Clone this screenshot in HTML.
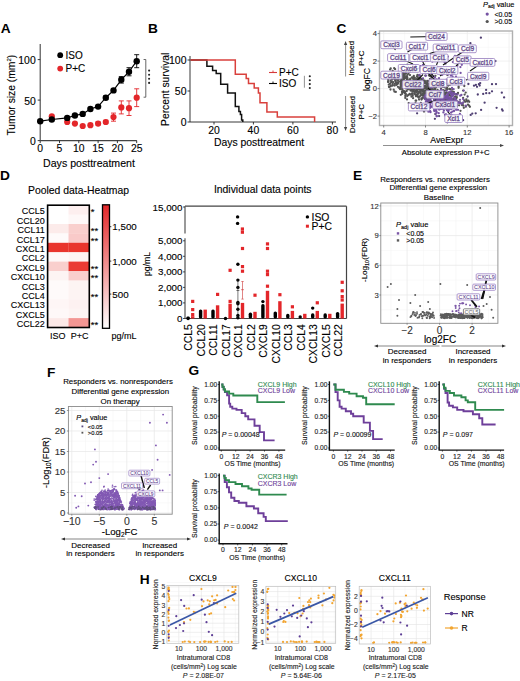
<!DOCTYPE html>
<html><head><meta charset="utf-8"><style>
html,body{margin:0;padding:0;background:#fff;width:520px;height:681px;overflow:hidden}
svg{display:block}
svg text{font-family:"Liberation Sans", sans-serif}
</style></head><body>
<svg width="520" height="681" viewBox="0 0 520 681">
<text x="0.8" y="32.9" font-size="13.7" text-anchor="start" fill="#000" font-weight="bold">A</text>
<line x1="40.2" y1="44.0" x2="40.2" y2="140.6" stroke="#444" stroke-width="1.1"/>
<line x1="40.2" y1="140.6" x2="136.8" y2="140.6" stroke="#444" stroke-width="1.1"/>
<line x1="37.7" y1="140.6" x2="40.2" y2="140.6" stroke="#222" stroke-width="0.9"/>
<text x="35.7" y="145.1" font-size="10.4" text-anchor="end" fill="#000" stroke="#000" stroke-width="0.12">0</text>
<line x1="37.7" y1="100.1" x2="40.2" y2="100.1" stroke="#222" stroke-width="0.9"/>
<text x="35.7" y="104.6" font-size="10.4" text-anchor="end" fill="#000" stroke="#000" stroke-width="0.12">50</text>
<line x1="37.7" y1="59.6" x2="40.2" y2="59.6" stroke="#222" stroke-width="0.9"/>
<text x="35.7" y="64.1" font-size="10.4" text-anchor="end" fill="#000" stroke="#000" stroke-width="0.12">100</text>
<line x1="40.2" y1="140.6" x2="40.2" y2="143.1" stroke="#222" stroke-width="0.9"/>
<text x="40.2" y="152.4" font-size="10.4" text-anchor="middle" fill="#000" stroke="#000" stroke-width="0.12">0</text>
<line x1="59.5" y1="140.6" x2="59.5" y2="143.1" stroke="#222" stroke-width="0.9"/>
<text x="59.5" y="152.4" font-size="10.4" text-anchor="middle" fill="#000" stroke="#000" stroke-width="0.12">5</text>
<line x1="78.8" y1="140.6" x2="78.8" y2="143.1" stroke="#222" stroke-width="0.9"/>
<text x="78.8" y="152.4" font-size="10.4" text-anchor="middle" fill="#000" stroke="#000" stroke-width="0.12">10</text>
<line x1="98.1" y1="140.6" x2="98.1" y2="143.1" stroke="#222" stroke-width="0.9"/>
<text x="98.1" y="152.4" font-size="10.4" text-anchor="middle" fill="#000" stroke="#000" stroke-width="0.12">15</text>
<line x1="117.4" y1="140.6" x2="117.4" y2="143.1" stroke="#222" stroke-width="0.9"/>
<text x="117.4" y="152.4" font-size="10.4" text-anchor="middle" fill="#000" stroke="#000" stroke-width="0.12">20</text>
<line x1="136.7" y1="140.6" x2="136.7" y2="143.1" stroke="#222" stroke-width="0.9"/>
<text x="136.7" y="152.4" font-size="10.4" text-anchor="middle" fill="#000" stroke="#000" stroke-width="0.12">25</text>
<text x="89.0" y="166.5" font-size="10.6" text-anchor="middle" fill="#000" stroke="#000" stroke-width="0.12">Days posttreatment</text>
<text x="15.0" y="95.2" font-size="10.3" text-anchor="middle" fill="#000" transform="rotate(-90 15 95.2)" stroke="#000" stroke-width="0.12">Tumor size (mm<tspan font-size="6" dy="-4">2</tspan><tspan dy="4">)</tspan></text>
<line x1="98.1" y1="122.0" x2="98.1" y2="125.2" stroke="#e3262a" stroke-width="0.9"/>
<line x1="95.6" y1="122.0" x2="100.6" y2="122.0" stroke="#e3262a" stroke-width="0.9"/>
<line x1="95.6" y1="125.2" x2="100.6" y2="125.2" stroke="#e3262a" stroke-width="0.9"/>
<line x1="105.8" y1="120.3" x2="105.8" y2="123.6" stroke="#e3262a" stroke-width="0.9"/>
<line x1="103.3" y1="120.3" x2="108.3" y2="120.3" stroke="#e3262a" stroke-width="0.9"/>
<line x1="103.3" y1="123.6" x2="108.3" y2="123.6" stroke="#e3262a" stroke-width="0.9"/>
<line x1="113.5" y1="113.1" x2="113.5" y2="121.2" stroke="#e3262a" stroke-width="0.9"/>
<line x1="111.0" y1="113.1" x2="116.0" y2="113.1" stroke="#e3262a" stroke-width="0.9"/>
<line x1="111.0" y1="121.2" x2="116.0" y2="121.2" stroke="#e3262a" stroke-width="0.9"/>
<line x1="121.3" y1="100.9" x2="121.3" y2="113.9" stroke="#e3262a" stroke-width="0.9"/>
<line x1="118.8" y1="100.9" x2="123.8" y2="100.9" stroke="#e3262a" stroke-width="0.9"/>
<line x1="118.8" y1="113.9" x2="123.8" y2="113.9" stroke="#e3262a" stroke-width="0.9"/>
<line x1="129.0" y1="100.9" x2="129.0" y2="115.5" stroke="#e3262a" stroke-width="0.9"/>
<line x1="126.5" y1="100.9" x2="131.5" y2="100.9" stroke="#e3262a" stroke-width="0.9"/>
<line x1="126.5" y1="115.5" x2="131.5" y2="115.5" stroke="#e3262a" stroke-width="0.9"/>
<line x1="136.7" y1="88.8" x2="136.7" y2="106.6" stroke="#e3262a" stroke-width="0.9"/>
<line x1="134.2" y1="88.8" x2="139.2" y2="88.8" stroke="#e3262a" stroke-width="0.9"/>
<line x1="134.2" y1="106.6" x2="139.2" y2="106.6" stroke="#e3262a" stroke-width="0.9"/>
<circle cx="51.8" cy="116.3" r="3.1" fill="#e3262a"/>
<circle cx="67.2" cy="122.0" r="3.1" fill="#e3262a"/>
<circle cx="74.9" cy="123.6" r="3.1" fill="#e3262a"/>
<circle cx="82.7" cy="126.0" r="3.1" fill="#e3262a"/>
<circle cx="90.4" cy="125.2" r="3.1" fill="#e3262a"/>
<circle cx="98.1" cy="123.6" r="3.1" fill="#e3262a"/>
<circle cx="105.8" cy="122.0" r="3.1" fill="#e3262a"/>
<circle cx="113.5" cy="117.1" r="3.1" fill="#e3262a"/>
<circle cx="121.3" cy="107.4" r="3.1" fill="#e3262a"/>
<circle cx="129.0" cy="108.2" r="3.1" fill="#e3262a"/>
<circle cx="136.7" cy="97.7" r="3.1" fill="#e3262a"/>
<polyline points="40.2,121.2 51.8,119.5 67.2,117.9 74.9,115.5 82.7,113.9 90.4,109.0 98.1,106.6 105.8,97.7 113.5,90.4 121.3,79.8 129.0,71.7 136.7,61.2" stroke="#000" stroke-width="1.2" fill="none"/>
<circle cx="40.2" cy="121.2" r="3.2" fill="#000"/>
<circle cx="51.8" cy="119.5" r="3.2" fill="#000"/>
<circle cx="67.2" cy="117.9" r="3.2" fill="#000"/>
<circle cx="74.9" cy="115.5" r="3.2" fill="#000"/>
<circle cx="82.7" cy="113.9" r="3.2" fill="#000"/>
<circle cx="90.4" cy="109.0" r="3.2" fill="#000"/>
<circle cx="98.1" cy="106.6" r="3.2" fill="#000"/>
<line x1="105.8" y1="96.0" x2="105.8" y2="99.3" stroke="#000" stroke-width="0.9"/>
<line x1="103.3" y1="96.0" x2="108.3" y2="96.0" stroke="#000" stroke-width="0.9"/>
<line x1="103.3" y1="99.3" x2="108.3" y2="99.3" stroke="#000" stroke-width="0.9"/>
<circle cx="105.8" cy="97.7" r="3.2" fill="#000"/>
<line x1="113.5" y1="88.8" x2="113.5" y2="92.0" stroke="#000" stroke-width="0.9"/>
<line x1="111.0" y1="88.8" x2="116.0" y2="88.8" stroke="#000" stroke-width="0.9"/>
<line x1="111.0" y1="92.0" x2="116.0" y2="92.0" stroke="#000" stroke-width="0.9"/>
<circle cx="113.5" cy="90.4" r="3.2" fill="#000"/>
<line x1="121.3" y1="76.6" x2="121.3" y2="83.1" stroke="#000" stroke-width="0.9"/>
<line x1="118.8" y1="76.6" x2="123.8" y2="76.6" stroke="#000" stroke-width="0.9"/>
<line x1="118.8" y1="83.1" x2="123.8" y2="83.1" stroke="#000" stroke-width="0.9"/>
<circle cx="121.3" cy="79.8" r="3.2" fill="#000"/>
<line x1="129.0" y1="67.7" x2="129.0" y2="75.8" stroke="#000" stroke-width="0.9"/>
<line x1="126.5" y1="67.7" x2="131.5" y2="67.7" stroke="#000" stroke-width="0.9"/>
<line x1="126.5" y1="75.8" x2="131.5" y2="75.8" stroke="#000" stroke-width="0.9"/>
<circle cx="129.0" cy="71.7" r="3.2" fill="#000"/>
<line x1="136.7" y1="54.7" x2="136.7" y2="67.7" stroke="#000" stroke-width="0.9"/>
<line x1="134.2" y1="54.7" x2="139.2" y2="54.7" stroke="#000" stroke-width="0.9"/>
<line x1="134.2" y1="67.7" x2="139.2" y2="67.7" stroke="#000" stroke-width="0.9"/>
<circle cx="136.7" cy="61.2" r="3.2" fill="#000"/>
<circle cx="60.2" cy="55.2" r="2.9" fill="#000"/>
<text x="65.5" y="58.8" font-size="10" text-anchor="start" fill="#000" stroke="#000" stroke-width="0.12">ISO</text>
<circle cx="60.2" cy="68.6" r="2.9" fill="#e3262a"/>
<text x="65.5" y="72.2" font-size="10" text-anchor="start" fill="#000" stroke="#000" stroke-width="0.12">P+C</text>
<line x1="145.8" y1="59.5" x2="145.8" y2="97.2" stroke="#555" stroke-width="0.9"/>
<line x1="143.6" y1="59.5" x2="145.8" y2="59.5" stroke="#555" stroke-width="0.9"/>
<line x1="143.6" y1="97.2" x2="145.8" y2="97.2" stroke="#555" stroke-width="0.9"/>
<circle cx="149.1" cy="70.6" r="1.05" fill="#222"/>
<circle cx="149.1" cy="74.7" r="1.05" fill="#222"/>
<circle cx="149.1" cy="78.8" r="1.05" fill="#222"/>
<circle cx="149.1" cy="82.9" r="1.05" fill="#222"/>
<text x="148.0" y="32.8" font-size="13.7" text-anchor="start" fill="#000" font-weight="bold">B</text>
<line x1="190.0" y1="56.0" x2="190.0" y2="122.0" stroke="#222" stroke-width="0.9"/>
<line x1="190.0" y1="122.0" x2="336.0" y2="122.0" stroke="#222" stroke-width="0.9"/>
<line x1="187.5" y1="122.0" x2="190.0" y2="122.0" stroke="#222" stroke-width="0.9"/>
<text x="186.5" y="126.3" font-size="10.5" text-anchor="end" fill="#000" stroke="#000" stroke-width="0.12">0</text>
<line x1="187.5" y1="91.0" x2="190.0" y2="91.0" stroke="#222" stroke-width="0.9"/>
<text x="186.5" y="95.3" font-size="10.5" text-anchor="end" fill="#000" stroke="#000" stroke-width="0.12">50</text>
<line x1="187.5" y1="60.0" x2="190.0" y2="60.0" stroke="#222" stroke-width="0.9"/>
<text x="186.5" y="64.3" font-size="10.5" text-anchor="end" fill="#000" stroke="#000" stroke-width="0.12">100</text>
<line x1="214.0" y1="122.0" x2="214.0" y2="124.5" stroke="#222" stroke-width="0.9"/>
<text x="214.0" y="133.8" font-size="10.4" text-anchor="middle" fill="#000" stroke="#000" stroke-width="0.12">20</text>
<line x1="253.4" y1="122.0" x2="253.4" y2="124.5" stroke="#222" stroke-width="0.9"/>
<text x="253.4" y="133.8" font-size="10.4" text-anchor="middle" fill="#000" stroke="#000" stroke-width="0.12">40</text>
<line x1="292.9" y1="122.0" x2="292.9" y2="124.5" stroke="#222" stroke-width="0.9"/>
<text x="292.9" y="133.8" font-size="10.4" text-anchor="middle" fill="#000" stroke="#000" stroke-width="0.12">60</text>
<line x1="332.4" y1="122.0" x2="332.4" y2="124.5" stroke="#222" stroke-width="0.9"/>
<text x="332.4" y="133.8" font-size="10.4" text-anchor="middle" fill="#000" stroke="#000" stroke-width="0.12">80</text>
<text x="259.0" y="146.0" font-size="10.4" text-anchor="middle" fill="#000" stroke="#000" stroke-width="0.12">Days posttreatment</text>
<text x="169.3" y="89.3" font-size="10.3" text-anchor="middle" fill="#000" transform="rotate(-90 169.3 89.3)" stroke="#000" stroke-width="0.12">Percent survival</text>
<path d="M190.5,60.0 L206.9,60.0 L206.9,66.2 L212.6,66.2 L212.6,70.5 L216.2,70.5 L216.2,73.6 L220.7,73.6 L220.7,84.2 L227.6,84.2 L227.6,92.9 L235.3,92.9 L235.3,106.5 L238.9,106.5 L238.9,111.5 L240.4,111.5 L240.4,114.6 L241.6,114.6 L241.6,120.1 L242.8,120.1 L242.8,122.0 " stroke="#111" stroke-width="1.5" fill="none"/>
<path d="M190.5,60.0 L235.3,60.0 L235.3,74.3 L246.2,74.3 L246.2,78.6 L248.5,78.6 L248.5,83.6 L254.2,83.6 L254.2,87.9 L258.4,87.9 L258.4,92.9 L260.0,92.9 L260.0,102.8 L266.9,102.8 L266.9,112.1 L277.3,112.1 L277.3,117.0 L314.6,117.0 L314.6,122.0 " stroke="#d9403c" stroke-width="1.5" fill="none"/>
<line x1="269.0" y1="72.5" x2="277.0" y2="72.5" stroke="#d63a3a" stroke-width="1.1"/>
<line x1="273.0" y1="70.5" x2="273.0" y2="72.5" stroke="#d63a3a" stroke-width="0.9"/>
<text x="279.0" y="76.0" font-size="10" text-anchor="start" fill="#000" stroke="#000" stroke-width="0.12">P+C</text>
<line x1="269.0" y1="83.5" x2="277.0" y2="83.5" stroke="#000" stroke-width="1.1"/>
<line x1="273.0" y1="81.5" x2="273.0" y2="83.5" stroke="#000" stroke-width="0.9"/>
<text x="279.0" y="87.0" font-size="10" text-anchor="start" fill="#000" stroke="#000" stroke-width="0.12">ISO</text>
<line x1="304.4" y1="75.8" x2="304.4" y2="87.7" stroke="#777" stroke-width="0.8"/>
<circle cx="309.8" cy="76.3" r="1.05" fill="#222"/>
<circle cx="309.8" cy="80.2" r="1.05" fill="#222"/>
<circle cx="309.8" cy="84.1" r="1.05" fill="#222"/>
<circle cx="309.8" cy="88.0" r="1.05" fill="#222"/>
<text x="336.4" y="32.9" font-size="13.7" text-anchor="start" fill="#000" font-weight="bold">C</text>
<rect x="379.5" y="31.0" width="133.0" height="94.5" fill="#fff" stroke="none" stroke-width="1"/>
<line x1="383.7" y1="31.0" x2="383.7" y2="125.5" stroke="#ebebeb" stroke-width="0.7"/>
<line x1="425.5" y1="31.0" x2="425.5" y2="125.5" stroke="#ebebeb" stroke-width="0.7"/>
<line x1="467.3" y1="31.0" x2="467.3" y2="125.5" stroke="#ebebeb" stroke-width="0.7"/>
<line x1="509.1" y1="31.0" x2="509.1" y2="125.5" stroke="#ebebeb" stroke-width="0.7"/>
<line x1="404.6" y1="31.0" x2="404.6" y2="125.5" stroke="#f4f4f4" stroke-width="0.5"/>
<line x1="446.4" y1="31.0" x2="446.4" y2="125.5" stroke="#f4f4f4" stroke-width="0.5"/>
<line x1="488.2" y1="31.0" x2="488.2" y2="125.5" stroke="#f4f4f4" stroke-width="0.5"/>
<line x1="379.5" y1="116.1" x2="512.5" y2="116.1" stroke="#ebebeb" stroke-width="0.7"/>
<line x1="379.5" y1="88.6" x2="512.5" y2="88.6" stroke="#ebebeb" stroke-width="0.7"/>
<line x1="379.5" y1="61.1" x2="512.5" y2="61.1" stroke="#ebebeb" stroke-width="0.7"/>
<line x1="379.5" y1="33.6" x2="512.5" y2="33.6" stroke="#ebebeb" stroke-width="0.7"/>
<line x1="379.5" y1="102.3" x2="512.5" y2="102.3" stroke="#f4f4f4" stroke-width="0.5"/>
<line x1="379.5" y1="74.8" x2="512.5" y2="74.8" stroke="#f4f4f4" stroke-width="0.5"/>
<line x1="379.5" y1="47.3" x2="512.5" y2="47.3" stroke="#f4f4f4" stroke-width="0.5"/>
<circle cx="435.0" cy="84.7" r="1.15" fill="#535353"/>
<circle cx="432.1" cy="92.6" r="1.15" fill="#535353"/>
<circle cx="425.5" cy="83.1" r="1.15" fill="#535353"/>
<circle cx="395.4" cy="80.5" r="1.15" fill="#535353"/>
<circle cx="425.2" cy="92.3" r="1.15" fill="#535353"/>
<circle cx="439.7" cy="85.4" r="1.15" fill="#535353"/>
<circle cx="414.5" cy="84.9" r="1.15" fill="#535353"/>
<circle cx="420.6" cy="89.2" r="1.15" fill="#535353"/>
<circle cx="413.3" cy="83.2" r="1.15" fill="#535353"/>
<circle cx="430.3" cy="83.4" r="1.15" fill="#535353"/>
<circle cx="407.1" cy="79.4" r="1.15" fill="#535353"/>
<circle cx="392.8" cy="78.8" r="1.15" fill="#535353"/>
<circle cx="444.9" cy="97.6" r="1.15" fill="#535353"/>
<circle cx="441.1" cy="96.8" r="1.15" fill="#535353"/>
<circle cx="448.7" cy="95.1" r="1.15" fill="#535353"/>
<circle cx="442.5" cy="86.7" r="1.15" fill="#535353"/>
<circle cx="402.8" cy="80.8" r="1.15" fill="#535353"/>
<circle cx="420.3" cy="88.1" r="1.15" fill="#535353"/>
<circle cx="412.0" cy="77.3" r="1.15" fill="#535353"/>
<circle cx="427.2" cy="101.3" r="1.15" fill="#535353"/>
<circle cx="406.7" cy="87.7" r="1.15" fill="#535353"/>
<circle cx="400.8" cy="94.8" r="1.15" fill="#535353"/>
<circle cx="429.7" cy="99.6" r="1.15" fill="#535353"/>
<circle cx="445.8" cy="93.2" r="1.15" fill="#535353"/>
<circle cx="451.4" cy="96.5" r="1.15" fill="#535353"/>
<circle cx="403.2" cy="77.9" r="1.15" fill="#535353"/>
<circle cx="426.0" cy="88.2" r="1.15" fill="#535353"/>
<circle cx="451.3" cy="93.3" r="1.15" fill="#535353"/>
<circle cx="408.3" cy="95.0" r="1.15" fill="#535353"/>
<circle cx="425.0" cy="81.5" r="1.15" fill="#535353"/>
<circle cx="443.6" cy="101.7" r="1.15" fill="#535353"/>
<circle cx="418.3" cy="81.5" r="1.15" fill="#535353"/>
<circle cx="451.7" cy="106.5" r="1.15" fill="#535353"/>
<circle cx="402.4" cy="83.3" r="1.15" fill="#535353"/>
<circle cx="433.1" cy="95.5" r="1.15" fill="#535353"/>
<circle cx="422.5" cy="91.4" r="1.15" fill="#535353"/>
<circle cx="405.1" cy="93.0" r="1.15" fill="#535353"/>
<circle cx="419.1" cy="75.5" r="1.15" fill="#535353"/>
<circle cx="432.9" cy="83.6" r="1.15" fill="#535353"/>
<circle cx="400.8" cy="85.7" r="1.15" fill="#535353"/>
<circle cx="425.8" cy="87.5" r="1.15" fill="#535353"/>
<circle cx="401.3" cy="82.6" r="1.15" fill="#535353"/>
<circle cx="421.7" cy="88.6" r="1.15" fill="#535353"/>
<circle cx="396.3" cy="83.2" r="1.15" fill="#535353"/>
<circle cx="424.1" cy="91.9" r="1.15" fill="#535353"/>
<circle cx="415.3" cy="90.4" r="1.15" fill="#535353"/>
<circle cx="458.0" cy="92.9" r="1.15" fill="#535353"/>
<circle cx="403.1" cy="82.5" r="1.15" fill="#535353"/>
<circle cx="396.3" cy="84.9" r="1.15" fill="#535353"/>
<circle cx="431.9" cy="90.5" r="1.15" fill="#535353"/>
<circle cx="424.3" cy="92.7" r="1.15" fill="#535353"/>
<circle cx="419.7" cy="80.6" r="1.15" fill="#535353"/>
<circle cx="424.7" cy="83.1" r="1.15" fill="#535353"/>
<circle cx="402.4" cy="86.3" r="1.15" fill="#535353"/>
<circle cx="428.6" cy="100.9" r="1.15" fill="#535353"/>
<circle cx="415.6" cy="85.2" r="1.15" fill="#535353"/>
<circle cx="450.5" cy="89.1" r="1.15" fill="#535353"/>
<circle cx="397.9" cy="82.9" r="1.15" fill="#535353"/>
<circle cx="409.7" cy="86.5" r="1.15" fill="#535353"/>
<circle cx="410.9" cy="84.7" r="1.15" fill="#535353"/>
<circle cx="407.0" cy="99.4" r="1.15" fill="#535353"/>
<circle cx="465.8" cy="106.7" r="1.15" fill="#535353"/>
<circle cx="413.8" cy="83.4" r="1.15" fill="#535353"/>
<circle cx="404.1" cy="81.8" r="1.15" fill="#535353"/>
<circle cx="443.1" cy="90.1" r="1.15" fill="#535353"/>
<circle cx="405.7" cy="83.8" r="1.15" fill="#535353"/>
<circle cx="414.8" cy="77.8" r="1.15" fill="#535353"/>
<circle cx="406.1" cy="88.6" r="1.15" fill="#535353"/>
<circle cx="422.7" cy="94.4" r="1.15" fill="#535353"/>
<circle cx="446.6" cy="99.8" r="1.15" fill="#535353"/>
<circle cx="431.3" cy="91.6" r="1.15" fill="#535353"/>
<circle cx="400.4" cy="87.0" r="1.15" fill="#535353"/>
<circle cx="424.5" cy="92.6" r="1.15" fill="#535353"/>
<circle cx="444.8" cy="95.5" r="1.15" fill="#535353"/>
<circle cx="413.1" cy="87.5" r="1.15" fill="#535353"/>
<circle cx="468.0" cy="104.7" r="1.15" fill="#535353"/>
<circle cx="405.3" cy="96.0" r="1.15" fill="#535353"/>
<circle cx="434.6" cy="90.7" r="1.15" fill="#535353"/>
<circle cx="433.3" cy="91.0" r="1.15" fill="#535353"/>
<circle cx="442.8" cy="96.8" r="1.15" fill="#535353"/>
<circle cx="425.5" cy="93.7" r="1.15" fill="#535353"/>
<circle cx="435.6" cy="86.7" r="1.15" fill="#535353"/>
<circle cx="411.7" cy="93.7" r="1.15" fill="#535353"/>
<circle cx="421.1" cy="81.8" r="1.15" fill="#535353"/>
<circle cx="388.2" cy="79.5" r="1.15" fill="#535353"/>
<circle cx="429.9" cy="84.5" r="1.15" fill="#535353"/>
<circle cx="407.8" cy="87.1" r="1.15" fill="#535353"/>
<circle cx="394.7" cy="85.6" r="1.15" fill="#535353"/>
<circle cx="434.1" cy="91.7" r="1.15" fill="#535353"/>
<circle cx="434.4" cy="99.7" r="1.15" fill="#535353"/>
<circle cx="420.3" cy="82.6" r="1.15" fill="#535353"/>
<circle cx="412.2" cy="93.6" r="1.15" fill="#535353"/>
<circle cx="420.6" cy="95.6" r="1.15" fill="#535353"/>
<circle cx="427.2" cy="81.0" r="1.15" fill="#535353"/>
<circle cx="412.3" cy="81.8" r="1.15" fill="#535353"/>
<circle cx="416.9" cy="76.3" r="1.15" fill="#535353"/>
<circle cx="397.9" cy="86.8" r="1.15" fill="#535353"/>
<circle cx="432.1" cy="89.2" r="1.15" fill="#535353"/>
<circle cx="443.1" cy="91.2" r="1.15" fill="#535353"/>
<circle cx="447.0" cy="107.8" r="1.15" fill="#535353"/>
<circle cx="442.2" cy="83.7" r="1.15" fill="#535353"/>
<circle cx="428.9" cy="75.4" r="1.15" fill="#535353"/>
<circle cx="425.2" cy="86.0" r="1.15" fill="#535353"/>
<circle cx="435.9" cy="94.3" r="1.15" fill="#535353"/>
<circle cx="430.4" cy="91.0" r="1.15" fill="#535353"/>
<circle cx="418.2" cy="88.8" r="1.15" fill="#535353"/>
<circle cx="422.5" cy="94.1" r="1.15" fill="#535353"/>
<circle cx="469.2" cy="105.7" r="1.15" fill="#535353"/>
<circle cx="428.8" cy="90.9" r="1.15" fill="#535353"/>
<circle cx="448.6" cy="92.7" r="1.15" fill="#535353"/>
<circle cx="433.0" cy="86.7" r="1.15" fill="#535353"/>
<circle cx="426.6" cy="94.2" r="1.15" fill="#535353"/>
<circle cx="463.8" cy="107.8" r="1.15" fill="#535353"/>
<circle cx="392.6" cy="85.5" r="1.15" fill="#535353"/>
<circle cx="415.7" cy="86.0" r="1.15" fill="#535353"/>
<circle cx="402.0" cy="92.0" r="1.15" fill="#535353"/>
<circle cx="458.6" cy="86.6" r="1.15" fill="#535353"/>
<circle cx="434.4" cy="96.0" r="1.15" fill="#535353"/>
<circle cx="438.7" cy="93.2" r="1.15" fill="#535353"/>
<circle cx="429.8" cy="90.4" r="1.15" fill="#535353"/>
<circle cx="392.0" cy="78.2" r="1.15" fill="#535353"/>
<circle cx="413.6" cy="90.1" r="1.15" fill="#535353"/>
<circle cx="447.0" cy="98.8" r="1.15" fill="#535353"/>
<circle cx="421.3" cy="83.8" r="1.15" fill="#535353"/>
<circle cx="448.4" cy="94.8" r="1.15" fill="#535353"/>
<circle cx="428.1" cy="83.7" r="1.15" fill="#535353"/>
<circle cx="444.8" cy="87.3" r="1.15" fill="#535353"/>
<circle cx="390.6" cy="80.5" r="1.15" fill="#535353"/>
<circle cx="396.6" cy="82.7" r="1.15" fill="#535353"/>
<circle cx="404.5" cy="74.5" r="1.15" fill="#535353"/>
<circle cx="410.5" cy="90.6" r="1.15" fill="#535353"/>
<circle cx="429.4" cy="89.4" r="1.15" fill="#535353"/>
<circle cx="449.0" cy="95.6" r="1.15" fill="#535353"/>
<circle cx="457.3" cy="93.8" r="1.15" fill="#535353"/>
<circle cx="415.0" cy="91.4" r="1.15" fill="#535353"/>
<circle cx="412.1" cy="89.7" r="1.15" fill="#535353"/>
<circle cx="423.7" cy="90.4" r="1.15" fill="#535353"/>
<circle cx="462.6" cy="103.3" r="1.15" fill="#535353"/>
<circle cx="417.8" cy="89.8" r="1.15" fill="#535353"/>
<circle cx="419.4" cy="82.6" r="1.15" fill="#535353"/>
<circle cx="410.5" cy="85.9" r="1.15" fill="#535353"/>
<circle cx="434.0" cy="91.5" r="1.15" fill="#535353"/>
<circle cx="420.9" cy="87.1" r="1.15" fill="#535353"/>
<circle cx="422.2" cy="87.9" r="1.15" fill="#535353"/>
<circle cx="442.7" cy="93.8" r="1.15" fill="#535353"/>
<circle cx="397.6" cy="78.1" r="1.15" fill="#535353"/>
<circle cx="410.2" cy="82.2" r="1.15" fill="#535353"/>
<circle cx="420.4" cy="89.4" r="1.15" fill="#535353"/>
<circle cx="417.5" cy="80.8" r="1.15" fill="#535353"/>
<circle cx="407.0" cy="83.7" r="1.15" fill="#535353"/>
<circle cx="413.1" cy="98.2" r="1.15" fill="#535353"/>
<circle cx="420.5" cy="84.5" r="1.15" fill="#535353"/>
<circle cx="402.3" cy="87.7" r="1.15" fill="#535353"/>
<circle cx="390.5" cy="89.5" r="1.15" fill="#535353"/>
<circle cx="417.7" cy="78.3" r="1.15" fill="#535353"/>
<circle cx="440.2" cy="99.3" r="1.15" fill="#535353"/>
<circle cx="405.0" cy="84.9" r="1.15" fill="#535353"/>
<circle cx="421.4" cy="88.6" r="1.15" fill="#535353"/>
<circle cx="402.2" cy="85.0" r="1.15" fill="#535353"/>
<circle cx="416.3" cy="87.3" r="1.15" fill="#535353"/>
<circle cx="427.7" cy="90.7" r="1.15" fill="#535353"/>
<circle cx="410.4" cy="78.7" r="1.15" fill="#535353"/>
<circle cx="418.4" cy="97.1" r="1.15" fill="#535353"/>
<circle cx="424.6" cy="95.9" r="1.15" fill="#535353"/>
<circle cx="400.1" cy="89.2" r="1.15" fill="#535353"/>
<circle cx="420.7" cy="93.6" r="1.15" fill="#535353"/>
<circle cx="427.0" cy="89.8" r="1.15" fill="#535353"/>
<circle cx="409.6" cy="94.0" r="1.15" fill="#535353"/>
<circle cx="416.4" cy="80.1" r="1.15" fill="#535353"/>
<circle cx="413.4" cy="85.9" r="1.15" fill="#535353"/>
<circle cx="435.4" cy="75.8" r="1.15" fill="#535353"/>
<circle cx="439.2" cy="92.2" r="1.15" fill="#535353"/>
<circle cx="438.7" cy="94.2" r="1.15" fill="#535353"/>
<circle cx="431.1" cy="76.5" r="1.15" fill="#535353"/>
<circle cx="435.9" cy="87.4" r="1.15" fill="#535353"/>
<circle cx="436.7" cy="84.6" r="1.15" fill="#535353"/>
<circle cx="443.5" cy="86.8" r="1.15" fill="#535353"/>
<circle cx="462.0" cy="105.0" r="1.15" fill="#535353"/>
<circle cx="422.7" cy="88.8" r="1.15" fill="#535353"/>
<circle cx="408.2" cy="83.6" r="1.15" fill="#535353"/>
<circle cx="416.3" cy="92.0" r="1.15" fill="#535353"/>
<circle cx="449.9" cy="84.8" r="1.15" fill="#535353"/>
<circle cx="448.3" cy="85.6" r="1.15" fill="#535353"/>
<circle cx="432.2" cy="94.2" r="1.15" fill="#535353"/>
<circle cx="458.3" cy="102.0" r="1.15" fill="#535353"/>
<circle cx="434.5" cy="89.1" r="1.15" fill="#535353"/>
<circle cx="423.6" cy="92.3" r="1.15" fill="#535353"/>
<circle cx="409.8" cy="71.5" r="1.15" fill="#535353"/>
<circle cx="427.1" cy="84.4" r="1.15" fill="#535353"/>
<circle cx="443.4" cy="101.6" r="1.15" fill="#535353"/>
<circle cx="454.3" cy="104.4" r="1.15" fill="#535353"/>
<circle cx="420.3" cy="90.2" r="1.15" fill="#535353"/>
<circle cx="395.5" cy="78.9" r="1.15" fill="#535353"/>
<circle cx="420.2" cy="86.3" r="1.15" fill="#535353"/>
<circle cx="434.1" cy="86.7" r="1.15" fill="#535353"/>
<circle cx="413.5" cy="76.9" r="1.15" fill="#535353"/>
<circle cx="419.8" cy="79.1" r="1.15" fill="#535353"/>
<circle cx="406.1" cy="86.9" r="1.15" fill="#535353"/>
<circle cx="401.2" cy="80.0" r="1.15" fill="#535353"/>
<circle cx="455.3" cy="94.5" r="1.15" fill="#535353"/>
<circle cx="455.9" cy="100.4" r="1.15" fill="#535353"/>
<circle cx="395.4" cy="81.0" r="1.15" fill="#535353"/>
<circle cx="431.4" cy="88.6" r="1.15" fill="#535353"/>
<circle cx="390.7" cy="86.3" r="1.15" fill="#535353"/>
<circle cx="407.0" cy="81.6" r="1.15" fill="#535353"/>
<circle cx="410.8" cy="82.0" r="1.15" fill="#535353"/>
<circle cx="410.8" cy="82.7" r="1.15" fill="#535353"/>
<circle cx="419.6" cy="96.6" r="1.15" fill="#535353"/>
<circle cx="410.3" cy="94.7" r="1.15" fill="#535353"/>
<circle cx="420.9" cy="102.9" r="1.15" fill="#535353"/>
<circle cx="434.7" cy="91.0" r="1.15" fill="#535353"/>
<circle cx="446.5" cy="95.7" r="1.15" fill="#535353"/>
<circle cx="400.1" cy="81.8" r="1.15" fill="#535353"/>
<circle cx="420.2" cy="77.9" r="1.15" fill="#535353"/>
<circle cx="407.9" cy="80.6" r="1.15" fill="#535353"/>
<circle cx="400.6" cy="84.2" r="1.15" fill="#535353"/>
<circle cx="405.3" cy="97.9" r="1.15" fill="#535353"/>
<circle cx="404.8" cy="92.8" r="1.15" fill="#535353"/>
<circle cx="417.0" cy="88.0" r="1.15" fill="#535353"/>
<circle cx="425.3" cy="75.7" r="1.15" fill="#535353"/>
<circle cx="418.5" cy="84.8" r="1.15" fill="#535353"/>
<circle cx="404.9" cy="91.6" r="1.15" fill="#535353"/>
<circle cx="393.7" cy="89.7" r="1.15" fill="#535353"/>
<circle cx="418.0" cy="86.3" r="1.15" fill="#535353"/>
<circle cx="412.8" cy="78.1" r="1.15" fill="#535353"/>
<circle cx="443.8" cy="96.4" r="1.15" fill="#535353"/>
<circle cx="409.6" cy="84.9" r="1.15" fill="#535353"/>
<circle cx="467.2" cy="101.5" r="1.15" fill="#535353"/>
<circle cx="429.0" cy="95.5" r="1.15" fill="#535353"/>
<circle cx="410.4" cy="83.5" r="1.15" fill="#535353"/>
<circle cx="431.7" cy="93.1" r="1.15" fill="#535353"/>
<circle cx="415.8" cy="95.4" r="1.15" fill="#535353"/>
<circle cx="453.7" cy="92.1" r="1.15" fill="#535353"/>
<circle cx="410.3" cy="85.9" r="1.15" fill="#535353"/>
<circle cx="410.0" cy="75.1" r="1.15" fill="#535353"/>
<circle cx="406.2" cy="84.4" r="1.15" fill="#535353"/>
<circle cx="407.8" cy="89.1" r="1.15" fill="#535353"/>
<circle cx="422.3" cy="88.7" r="1.15" fill="#535353"/>
<circle cx="430.0" cy="91.8" r="1.15" fill="#535353"/>
<circle cx="431.4" cy="74.8" r="1.15" fill="#535353"/>
<circle cx="392.2" cy="75.5" r="1.15" fill="#535353"/>
<circle cx="427.3" cy="82.5" r="1.15" fill="#535353"/>
<circle cx="403.7" cy="79.1" r="1.15" fill="#535353"/>
<circle cx="465.1" cy="101.8" r="1.15" fill="#535353"/>
<circle cx="444.8" cy="92.6" r="1.15" fill="#535353"/>
<circle cx="411.1" cy="82.0" r="1.15" fill="#535353"/>
<circle cx="388.1" cy="81.3" r="1.15" fill="#535353"/>
<circle cx="436.1" cy="80.8" r="1.15" fill="#535353"/>
<circle cx="417.3" cy="76.3" r="1.15" fill="#535353"/>
<circle cx="428.9" cy="96.3" r="1.15" fill="#535353"/>
<circle cx="427.0" cy="99.6" r="1.15" fill="#535353"/>
<circle cx="418.0" cy="77.7" r="1.15" fill="#535353"/>
<circle cx="437.7" cy="91.4" r="1.15" fill="#535353"/>
<circle cx="421.8" cy="90.4" r="1.15" fill="#535353"/>
<circle cx="393.0" cy="77.3" r="1.15" fill="#535353"/>
<circle cx="415.3" cy="82.5" r="1.15" fill="#535353"/>
<circle cx="412.5" cy="78.1" r="1.15" fill="#535353"/>
<circle cx="415.4" cy="88.2" r="1.15" fill="#535353"/>
<circle cx="407.5" cy="74.7" r="1.15" fill="#535353"/>
<circle cx="422.0" cy="98.6" r="1.15" fill="#535353"/>
<circle cx="407.2" cy="96.0" r="1.15" fill="#535353"/>
<circle cx="460.0" cy="102.3" r="1.15" fill="#535353"/>
<circle cx="421.2" cy="81.9" r="1.15" fill="#535353"/>
<circle cx="430.6" cy="92.6" r="1.15" fill="#535353"/>
<circle cx="419.1" cy="99.5" r="1.15" fill="#535353"/>
<circle cx="410.0" cy="89.1" r="1.15" fill="#535353"/>
<circle cx="403.0" cy="75.7" r="1.15" fill="#535353"/>
<circle cx="404.2" cy="84.1" r="1.15" fill="#535353"/>
<circle cx="390.7" cy="85.5" r="1.15" fill="#535353"/>
<circle cx="400.5" cy="67.9" r="1.15" fill="#535353"/>
<circle cx="434.0" cy="92.1" r="1.15" fill="#535353"/>
<circle cx="395.8" cy="91.9" r="1.15" fill="#535353"/>
<circle cx="421.6" cy="87.9" r="1.15" fill="#535353"/>
<circle cx="438.1" cy="97.4" r="1.15" fill="#535353"/>
<circle cx="397.4" cy="84.2" r="1.15" fill="#535353"/>
<circle cx="414.2" cy="88.9" r="1.15" fill="#535353"/>
<circle cx="441.5" cy="93.9" r="1.15" fill="#535353"/>
<circle cx="408.1" cy="89.3" r="1.15" fill="#535353"/>
<circle cx="460.9" cy="103.3" r="1.15" fill="#535353"/>
<circle cx="414.5" cy="79.5" r="1.15" fill="#535353"/>
<circle cx="454.6" cy="97.2" r="1.15" fill="#535353"/>
<circle cx="428.8" cy="90.6" r="1.15" fill="#535353"/>
<circle cx="434.4" cy="102.5" r="1.15" fill="#535353"/>
<circle cx="434.4" cy="90.5" r="1.15" fill="#535353"/>
<circle cx="403.5" cy="76.0" r="1.15" fill="#535353"/>
<circle cx="417.7" cy="96.2" r="1.15" fill="#535353"/>
<circle cx="444.7" cy="95.0" r="1.15" fill="#535353"/>
<circle cx="449.4" cy="89.0" r="1.15" fill="#535353"/>
<circle cx="434.8" cy="90.7" r="1.15" fill="#535353"/>
<circle cx="404.7" cy="78.6" r="1.15" fill="#535353"/>
<circle cx="402.2" cy="89.0" r="1.15" fill="#535353"/>
<circle cx="388.8" cy="84.7" r="1.15" fill="#535353"/>
<circle cx="413.7" cy="78.4" r="1.15" fill="#535353"/>
<circle cx="453.5" cy="98.7" r="1.15" fill="#535353"/>
<circle cx="420.5" cy="89.0" r="1.15" fill="#535353"/>
<circle cx="416.8" cy="89.5" r="1.15" fill="#535353"/>
<circle cx="445.3" cy="98.8" r="1.15" fill="#535353"/>
<circle cx="428.4" cy="85.2" r="1.15" fill="#535353"/>
<circle cx="417.3" cy="91.5" r="1.15" fill="#535353"/>
<circle cx="434.5" cy="85.9" r="1.15" fill="#535353"/>
<circle cx="448.0" cy="95.3" r="1.15" fill="#535353"/>
<circle cx="388.4" cy="75.0" r="1.15" fill="#535353"/>
<circle cx="411.5" cy="96.7" r="1.15" fill="#535353"/>
<circle cx="440.0" cy="92.6" r="1.15" fill="#535353"/>
<circle cx="423.7" cy="97.7" r="1.15" fill="#535353"/>
<circle cx="439.2" cy="103.5" r="1.15" fill="#535353"/>
<circle cx="412.2" cy="86.3" r="1.15" fill="#535353"/>
<circle cx="428.4" cy="92.2" r="1.15" fill="#535353"/>
<circle cx="431.8" cy="92.0" r="1.15" fill="#535353"/>
<circle cx="465.7" cy="92.6" r="1.15" fill="#535353"/>
<circle cx="464.3" cy="100.4" r="1.15" fill="#535353"/>
<circle cx="439.9" cy="98.0" r="1.15" fill="#535353"/>
<circle cx="436.5" cy="83.1" r="1.15" fill="#535353"/>
<circle cx="421.3" cy="81.9" r="1.15" fill="#535353"/>
<circle cx="405.9" cy="94.2" r="1.15" fill="#535353"/>
<circle cx="405.5" cy="85.2" r="1.15" fill="#535353"/>
<circle cx="408.3" cy="87.3" r="1.15" fill="#535353"/>
<circle cx="434.3" cy="104.8" r="1.15" fill="#535353"/>
<circle cx="451.4" cy="93.2" r="1.15" fill="#535353"/>
<circle cx="437.4" cy="100.8" r="1.15" fill="#535353"/>
<circle cx="414.3" cy="93.9" r="1.15" fill="#535353"/>
<circle cx="431.6" cy="94.7" r="1.15" fill="#535353"/>
<circle cx="406.5" cy="76.3" r="1.15" fill="#535353"/>
<circle cx="424.6" cy="88.4" r="1.15" fill="#535353"/>
<circle cx="448.7" cy="99.1" r="1.15" fill="#535353"/>
<circle cx="424.0" cy="86.6" r="1.15" fill="#535353"/>
<circle cx="426.6" cy="84.2" r="1.15" fill="#535353"/>
<circle cx="430.9" cy="82.4" r="1.15" fill="#535353"/>
<circle cx="448.4" cy="93.1" r="1.15" fill="#535353"/>
<circle cx="415.9" cy="87.3" r="1.15" fill="#535353"/>
<circle cx="392.7" cy="70.8" r="1.15" fill="#535353"/>
<circle cx="458.6" cy="87.8" r="1.15" fill="#535353"/>
<circle cx="420.7" cy="82.3" r="1.15" fill="#535353"/>
<circle cx="464.3" cy="86.0" r="1.15" fill="#535353"/>
<circle cx="453.0" cy="100.1" r="1.15" fill="#535353"/>
<circle cx="435.1" cy="89.7" r="1.15" fill="#535353"/>
<circle cx="440.0" cy="82.1" r="1.15" fill="#535353"/>
<circle cx="424.9" cy="92.6" r="1.15" fill="#535353"/>
<circle cx="431.0" cy="93.0" r="1.15" fill="#535353"/>
<circle cx="407.1" cy="85.2" r="1.15" fill="#535353"/>
<circle cx="402.9" cy="76.2" r="1.15" fill="#535353"/>
<circle cx="453.6" cy="93.6" r="1.15" fill="#535353"/>
<circle cx="415.3" cy="81.3" r="1.15" fill="#535353"/>
<circle cx="434.5" cy="99.8" r="1.15" fill="#535353"/>
<circle cx="446.7" cy="106.1" r="1.15" fill="#535353"/>
<circle cx="469.9" cy="106.8" r="1.15" fill="#535353"/>
<circle cx="398.5" cy="76.0" r="1.15" fill="#535353"/>
<circle cx="442.5" cy="94.3" r="1.15" fill="#535353"/>
<circle cx="422.9" cy="95.6" r="1.15" fill="#535353"/>
<circle cx="449.3" cy="84.6" r="1.15" fill="#535353"/>
<circle cx="430.3" cy="102.2" r="1.15" fill="#535353"/>
<circle cx="420.9" cy="88.1" r="1.15" fill="#535353"/>
<circle cx="400.2" cy="88.1" r="1.15" fill="#535353"/>
<circle cx="409.8" cy="83.0" r="1.15" fill="#535353"/>
<circle cx="441.8" cy="95.6" r="1.15" fill="#535353"/>
<circle cx="388.1" cy="82.0" r="1.15" fill="#535353"/>
<circle cx="427.4" cy="88.7" r="1.15" fill="#535353"/>
<circle cx="442.5" cy="91.4" r="1.15" fill="#535353"/>
<circle cx="443.0" cy="84.3" r="1.15" fill="#535353"/>
<circle cx="400.2" cy="72.4" r="1.15" fill="#535353"/>
<circle cx="440.6" cy="85.9" r="1.15" fill="#535353"/>
<circle cx="400.9" cy="83.5" r="1.15" fill="#535353"/>
<circle cx="423.8" cy="94.4" r="1.15" fill="#535353"/>
<circle cx="415.6" cy="100.7" r="1.15" fill="#535353"/>
<circle cx="434.5" cy="91.7" r="1.15" fill="#535353"/>
<circle cx="431.8" cy="77.7" r="1.15" fill="#535353"/>
<circle cx="421.8" cy="86.5" r="1.15" fill="#535353"/>
<circle cx="441.8" cy="93.0" r="1.15" fill="#535353"/>
<circle cx="428.1" cy="87.0" r="1.15" fill="#535353"/>
<circle cx="398.1" cy="83.1" r="1.15" fill="#535353"/>
<circle cx="427.7" cy="85.4" r="1.15" fill="#535353"/>
<circle cx="453.7" cy="92.7" r="1.15" fill="#535353"/>
<circle cx="420.9" cy="89.1" r="1.15" fill="#535353"/>
<circle cx="420.8" cy="95.3" r="1.15" fill="#535353"/>
<circle cx="410.2" cy="84.4" r="1.15" fill="#535353"/>
<circle cx="407.1" cy="79.5" r="1.15" fill="#535353"/>
<circle cx="424.9" cy="93.4" r="1.15" fill="#535353"/>
<circle cx="391.9" cy="81.9" r="1.15" fill="#535353"/>
<circle cx="441.8" cy="91.8" r="1.15" fill="#535353"/>
<circle cx="402.2" cy="93.8" r="1.15" fill="#535353"/>
<circle cx="460.5" cy="110.8" r="1.15" fill="#535353"/>
<circle cx="409.4" cy="84.6" r="1.15" fill="#535353"/>
<circle cx="448.0" cy="95.3" r="1.15" fill="#535353"/>
<circle cx="406.9" cy="87.1" r="1.15" fill="#535353"/>
<circle cx="431.9" cy="97.6" r="1.15" fill="#535353"/>
<circle cx="403.1" cy="77.1" r="1.15" fill="#535353"/>
<circle cx="418.9" cy="91.9" r="1.15" fill="#535353"/>
<circle cx="391.1" cy="82.2" r="1.15" fill="#535353"/>
<circle cx="400.5" cy="81.3" r="1.15" fill="#535353"/>
<circle cx="463.1" cy="90.6" r="1.15" fill="#535353"/>
<circle cx="390.1" cy="69.6" r="1.15" fill="#535353"/>
<circle cx="444.5" cy="93.4" r="1.15" fill="#535353"/>
<circle cx="445.1" cy="93.3" r="1.15" fill="#535353"/>
<circle cx="412.7" cy="95.9" r="1.15" fill="#535353"/>
<circle cx="436.6" cy="99.8" r="1.15" fill="#535353"/>
<circle cx="443.9" cy="92.4" r="1.15" fill="#535353"/>
<circle cx="417.5" cy="74.8" r="1.15" fill="#535353"/>
<circle cx="404.9" cy="92.0" r="1.15" fill="#535353"/>
<circle cx="390.7" cy="74.4" r="1.15" fill="#535353"/>
<circle cx="397.1" cy="78.5" r="1.15" fill="#535353"/>
<circle cx="400.9" cy="81.1" r="1.15" fill="#535353"/>
<circle cx="425.6" cy="88.1" r="1.15" fill="#535353"/>
<circle cx="435.0" cy="87.2" r="1.15" fill="#535353"/>
<circle cx="423.0" cy="90.2" r="1.15" fill="#535353"/>
<circle cx="406.2" cy="77.6" r="1.15" fill="#535353"/>
<circle cx="417.0" cy="88.6" r="1.15" fill="#535353"/>
<circle cx="418.6" cy="97.6" r="1.15" fill="#535353"/>
<circle cx="432.2" cy="93.4" r="1.15" fill="#535353"/>
<circle cx="459.1" cy="105.3" r="1.15" fill="#535353"/>
<circle cx="455.6" cy="96.9" r="1.15" fill="#535353"/>
<circle cx="450.8" cy="95.6" r="1.15" fill="#535353"/>
<circle cx="440.1" cy="93.0" r="1.15" fill="#535353"/>
<circle cx="424.3" cy="93.0" r="1.15" fill="#535353"/>
<circle cx="403.8" cy="74.6" r="1.15" fill="#535353"/>
<circle cx="433.7" cy="93.4" r="1.15" fill="#535353"/>
<circle cx="445.6" cy="97.6" r="1.15" fill="#535353"/>
<circle cx="421.4" cy="79.0" r="1.15" fill="#535353"/>
<circle cx="435.2" cy="90.0" r="1.15" fill="#535353"/>
<circle cx="399.2" cy="88.0" r="1.15" fill="#535353"/>
<circle cx="430.8" cy="79.8" r="1.15" fill="#535353"/>
<circle cx="404.9" cy="77.7" r="1.15" fill="#535353"/>
<circle cx="436.9" cy="96.6" r="1.15" fill="#535353"/>
<circle cx="430.1" cy="93.7" r="1.15" fill="#535353"/>
<circle cx="394.7" cy="83.9" r="1.15" fill="#535353"/>
<circle cx="412.2" cy="90.8" r="1.15" fill="#535353"/>
<circle cx="438.8" cy="83.0" r="1.15" fill="#535353"/>
<circle cx="420.8" cy="92.2" r="1.15" fill="#535353"/>
<circle cx="424.4" cy="97.4" r="1.15" fill="#535353"/>
<circle cx="426.0" cy="86.3" r="1.15" fill="#535353"/>
<circle cx="412.8" cy="89.4" r="1.15" fill="#535353"/>
<circle cx="426.5" cy="92.8" r="1.15" fill="#535353"/>
<circle cx="408.3" cy="88.7" r="1.15" fill="#535353"/>
<circle cx="415.0" cy="80.3" r="1.15" fill="#535353"/>
<circle cx="468.4" cy="100.7" r="1.15" fill="#535353"/>
<circle cx="413.9" cy="81.8" r="1.15" fill="#535353"/>
<circle cx="430.8" cy="88.1" r="1.15" fill="#535353"/>
<circle cx="396.0" cy="79.3" r="1.15" fill="#535353"/>
<circle cx="404.9" cy="76.1" r="1.15" fill="#535353"/>
<circle cx="437.3" cy="91.2" r="1.15" fill="#535353"/>
<circle cx="414.7" cy="93.7" r="1.15" fill="#535353"/>
<circle cx="412.6" cy="85.6" r="1.15" fill="#535353"/>
<circle cx="399.3" cy="77.3" r="1.15" fill="#535353"/>
<circle cx="402.2" cy="80.3" r="1.15" fill="#535353"/>
<circle cx="411.1" cy="83.8" r="1.15" fill="#535353"/>
<circle cx="441.7" cy="100.9" r="1.15" fill="#535353"/>
<circle cx="436.0" cy="99.7" r="1.15" fill="#535353"/>
<circle cx="407.9" cy="83.6" r="1.15" fill="#535353"/>
<circle cx="435.1" cy="88.2" r="1.15" fill="#535353"/>
<circle cx="416.1" cy="95.7" r="1.15" fill="#535353"/>
<circle cx="405.5" cy="81.4" r="1.15" fill="#535353"/>
<circle cx="400.9" cy="78.4" r="1.15" fill="#535353"/>
<circle cx="431.0" cy="82.7" r="1.15" fill="#535353"/>
<circle cx="406.9" cy="80.3" r="1.15" fill="#535353"/>
<circle cx="441.0" cy="91.6" r="1.15" fill="#535353"/>
<circle cx="452.4" cy="89.3" r="1.15" fill="#535353"/>
<circle cx="435.3" cy="94.7" r="1.15" fill="#535353"/>
<circle cx="417.4" cy="94.8" r="1.15" fill="#535353"/>
<circle cx="430.7" cy="97.5" r="1.15" fill="#535353"/>
<circle cx="431.9" cy="92.5" r="1.15" fill="#535353"/>
<circle cx="399.9" cy="76.6" r="1.15" fill="#535353"/>
<circle cx="469.2" cy="101.8" r="1.15" fill="#535353"/>
<circle cx="425.7" cy="90.4" r="1.15" fill="#535353"/>
<circle cx="422.9" cy="97.3" r="1.15" fill="#535353"/>
<circle cx="433.3" cy="91.9" r="1.15" fill="#535353"/>
<circle cx="432.8" cy="84.4" r="1.15" fill="#535353"/>
<circle cx="454.0" cy="99.5" r="1.15" fill="#535353"/>
<circle cx="423.3" cy="85.9" r="1.15" fill="#535353"/>
<circle cx="429.7" cy="98.8" r="1.15" fill="#535353"/>
<circle cx="410.6" cy="87.5" r="1.15" fill="#535353"/>
<circle cx="407.4" cy="78.0" r="1.15" fill="#535353"/>
<circle cx="428.7" cy="96.7" r="1.15" fill="#535353"/>
<circle cx="413.3" cy="87.5" r="1.15" fill="#535353"/>
<circle cx="402.0" cy="74.1" r="1.15" fill="#535353"/>
<circle cx="412.5" cy="83.0" r="1.15" fill="#535353"/>
<circle cx="421.8" cy="88.2" r="1.15" fill="#535353"/>
<circle cx="419.0" cy="83.4" r="1.15" fill="#535353"/>
<circle cx="404.3" cy="83.4" r="1.15" fill="#535353"/>
<circle cx="413.0" cy="91.4" r="1.15" fill="#535353"/>
<circle cx="424.7" cy="91.0" r="1.15" fill="#535353"/>
<circle cx="444.9" cy="100.4" r="1.15" fill="#535353"/>
<circle cx="456.5" cy="98.0" r="1.15" fill="#535353"/>
<circle cx="466.5" cy="100.6" r="1.15" fill="#535353"/>
<circle cx="421.3" cy="85.7" r="1.15" fill="#535353"/>
<circle cx="407.2" cy="84.0" r="1.15" fill="#535353"/>
<circle cx="462.5" cy="104.4" r="1.15" fill="#535353"/>
<circle cx="438.1" cy="81.4" r="1.15" fill="#535353"/>
<circle cx="426.0" cy="98.7" r="1.15" fill="#535353"/>
<circle cx="428.7" cy="101.8" r="1.15" fill="#535353"/>
<circle cx="445.1" cy="104.4" r="1.15" fill="#535353"/>
<circle cx="416.2" cy="81.4" r="1.15" fill="#535353"/>
<circle cx="407.5" cy="84.7" r="1.15" fill="#535353"/>
<circle cx="430.1" cy="84.2" r="1.15" fill="#535353"/>
<circle cx="428.4" cy="87.8" r="1.15" fill="#535353"/>
<circle cx="390.0" cy="83.7" r="1.15" fill="#535353"/>
<circle cx="457.3" cy="105.3" r="1.15" fill="#535353"/>
<circle cx="425.5" cy="86.3" r="1.15" fill="#535353"/>
<circle cx="408.1" cy="82.8" r="1.15" fill="#535353"/>
<circle cx="419.7" cy="89.1" r="1.15" fill="#535353"/>
<circle cx="418.4" cy="93.7" r="1.15" fill="#535353"/>
<circle cx="402.7" cy="84.3" r="1.15" fill="#535353"/>
<circle cx="446.5" cy="92.7" r="1.15" fill="#535353"/>
<circle cx="404.3" cy="73.8" r="1.15" fill="#535353"/>
<circle cx="401.8" cy="82.4" r="1.15" fill="#535353"/>
<circle cx="425.5" cy="83.2" r="1.15" fill="#535353"/>
<circle cx="392.7" cy="85.2" r="1.15" fill="#535353"/>
<circle cx="429.0" cy="96.0" r="1.15" fill="#535353"/>
<circle cx="418.7" cy="80.6" r="1.15" fill="#535353"/>
<circle cx="405.1" cy="93.5" r="1.15" fill="#535353"/>
<circle cx="415.7" cy="82.4" r="1.15" fill="#535353"/>
<circle cx="402.5" cy="91.9" r="1.15" fill="#535353"/>
<circle cx="447.5" cy="89.2" r="1.15" fill="#535353"/>
<circle cx="412.7" cy="91.5" r="1.15" fill="#535353"/>
<circle cx="403.6" cy="76.6" r="1.15" fill="#535353"/>
<circle cx="410.8" cy="82.6" r="1.15" fill="#535353"/>
<circle cx="403.8" cy="91.0" r="1.15" fill="#535353"/>
<circle cx="416.6" cy="91.2" r="1.15" fill="#535353"/>
<circle cx="394.8" cy="79.1" r="1.15" fill="#535353"/>
<circle cx="402.8" cy="73.5" r="1.15" fill="#535353"/>
<circle cx="427.8" cy="93.4" r="1.15" fill="#535353"/>
<circle cx="408.4" cy="83.5" r="1.15" fill="#535353"/>
<circle cx="401.1" cy="85.5" r="1.15" fill="#535353"/>
<circle cx="437.4" cy="100.6" r="1.15" fill="#535353"/>
<circle cx="431.1" cy="83.4" r="1.15" fill="#535353"/>
<circle cx="397.7" cy="79.9" r="1.15" fill="#535353"/>
<circle cx="389.0" cy="86.8" r="1.15" fill="#535353"/>
<circle cx="437.3" cy="92.0" r="1.15" fill="#535353"/>
<circle cx="463.4" cy="105.7" r="1.15" fill="#535353"/>
<circle cx="414.9" cy="85.4" r="1.15" fill="#535353"/>
<circle cx="423.5" cy="85.6" r="1.15" fill="#535353"/>
<circle cx="388.3" cy="81.5" r="1.15" fill="#535353"/>
<circle cx="413.8" cy="76.0" r="1.15" fill="#535353"/>
<circle cx="389.3" cy="74.0" r="1.15" fill="#535353"/>
<circle cx="422.6" cy="78.8" r="1.15" fill="#535353"/>
<circle cx="392.0" cy="79.7" r="1.15" fill="#535353"/>
<circle cx="396.0" cy="82.5" r="1.15" fill="#535353"/>
<circle cx="414.6" cy="88.6" r="1.15" fill="#535353"/>
<circle cx="403.9" cy="84.6" r="1.15" fill="#535353"/>
<circle cx="463.1" cy="97.9" r="1.15" fill="#535353"/>
<circle cx="421.5" cy="87.5" r="1.15" fill="#535353"/>
<circle cx="415.3" cy="87.5" r="1.15" fill="#535353"/>
<circle cx="411.6" cy="88.3" r="1.15" fill="#535353"/>
<circle cx="421.8" cy="94.6" r="1.15" fill="#535353"/>
<circle cx="413.4" cy="79.8" r="1.15" fill="#535353"/>
<circle cx="444.2" cy="99.6" r="1.15" fill="#535353"/>
<circle cx="403.3" cy="92.2" r="1.15" fill="#535353"/>
<circle cx="440.0" cy="91.5" r="1.15" fill="#535353"/>
<circle cx="400.9" cy="67.9" r="1.15" fill="#535353"/>
<circle cx="437.6" cy="90.0" r="1.15" fill="#535353"/>
<circle cx="408.5" cy="73.7" r="1.15" fill="#535353"/>
<circle cx="417.0" cy="89.8" r="1.15" fill="#535353"/>
<circle cx="437.3" cy="99.2" r="1.15" fill="#535353"/>
<circle cx="438.5" cy="83.9" r="1.15" fill="#535353"/>
<circle cx="403.5" cy="79.2" r="1.15" fill="#535353"/>
<circle cx="421.5" cy="98.3" r="1.15" fill="#535353"/>
<circle cx="405.9" cy="73.4" r="1.15" fill="#535353"/>
<circle cx="429.4" cy="85.1" r="1.15" fill="#535353"/>
<circle cx="405.7" cy="77.9" r="1.15" fill="#535353"/>
<circle cx="397.7" cy="77.7" r="1.15" fill="#535353"/>
<circle cx="433.6" cy="94.5" r="1.15" fill="#535353"/>
<circle cx="429.6" cy="80.8" r="1.15" fill="#535353"/>
<circle cx="423.5" cy="80.7" r="1.15" fill="#535353"/>
<circle cx="410.6" cy="84.9" r="1.15" fill="#535353"/>
<circle cx="421.5" cy="99.5" r="1.15" fill="#535353"/>
<circle cx="446.3" cy="88.9" r="1.15" fill="#535353"/>
<circle cx="423.6" cy="81.0" r="1.15" fill="#535353"/>
<circle cx="436.1" cy="97.2" r="1.15" fill="#535353"/>
<circle cx="412.4" cy="88.4" r="1.15" fill="#535353"/>
<circle cx="402.8" cy="85.7" r="1.15" fill="#535353"/>
<circle cx="406.7" cy="91.0" r="1.15" fill="#535353"/>
<circle cx="391.6" cy="76.8" r="1.15" fill="#535353"/>
<circle cx="415.9" cy="85.1" r="1.15" fill="#535353"/>
<circle cx="423.5" cy="92.6" r="1.15" fill="#535353"/>
<circle cx="410.3" cy="79.6" r="1.15" fill="#535353"/>
<circle cx="390.7" cy="68.5" r="1.15" fill="#535353"/>
<circle cx="419.4" cy="92.4" r="1.15" fill="#535353"/>
<circle cx="416.2" cy="100.6" r="1.15" fill="#535353"/>
<circle cx="438.9" cy="86.2" r="1.15" fill="#535353"/>
<circle cx="404.5" cy="83.2" r="1.15" fill="#535353"/>
<circle cx="433.9" cy="89.3" r="1.15" fill="#535353"/>
<circle cx="431.5" cy="83.4" r="1.15" fill="#535353"/>
<circle cx="429.9" cy="79.2" r="1.15" fill="#535353"/>
<circle cx="449.4" cy="103.7" r="1.15" fill="#535353"/>
<circle cx="412.2" cy="89.2" r="1.15" fill="#535353"/>
<circle cx="407.1" cy="76.3" r="1.15" fill="#535353"/>
<circle cx="456.8" cy="97.1" r="1.15" fill="#535353"/>
<circle cx="425.8" cy="97.6" r="1.15" fill="#535353"/>
<circle cx="449.3" cy="94.5" r="1.15" fill="#535353"/>
<circle cx="417.0" cy="89.7" r="1.15" fill="#535353"/>
<circle cx="398.7" cy="79.6" r="1.15" fill="#535353"/>
<circle cx="424.4" cy="80.7" r="1.15" fill="#535353"/>
<circle cx="412.3" cy="95.0" r="1.15" fill="#535353"/>
<circle cx="414.6" cy="92.5" r="1.15" fill="#535353"/>
<circle cx="434.5" cy="86.8" r="1.15" fill="#535353"/>
<circle cx="407.6" cy="79.3" r="1.15" fill="#535353"/>
<circle cx="447.1" cy="87.7" r="1.15" fill="#535353"/>
<circle cx="390.9" cy="77.0" r="1.15" fill="#535353"/>
<circle cx="416.3" cy="78.6" r="1.15" fill="#535353"/>
<circle cx="424.8" cy="99.0" r="1.15" fill="#535353"/>
<circle cx="464.6" cy="94.6" r="1.15" fill="#535353"/>
<circle cx="402.3" cy="89.9" r="1.15" fill="#535353"/>
<circle cx="446.8" cy="97.3" r="1.15" fill="#535353"/>
<circle cx="392.6" cy="83.8" r="1.15" fill="#535353"/>
<circle cx="412.8" cy="87.5" r="1.15" fill="#535353"/>
<circle cx="419.6" cy="81.7" r="1.15" fill="#535353"/>
<circle cx="410.3" cy="82.8" r="1.15" fill="#535353"/>
<circle cx="428.4" cy="95.0" r="1.15" fill="#535353"/>
<circle cx="427.9" cy="91.9" r="1.15" fill="#535353"/>
<circle cx="453.5" cy="92.0" r="1.15" fill="#535353"/>
<circle cx="425.8" cy="82.8" r="1.15" fill="#535353"/>
<circle cx="420.8" cy="84.2" r="1.15" fill="#535353"/>
<circle cx="418.1" cy="83.5" r="1.15" fill="#535353"/>
<circle cx="429.0" cy="81.1" r="1.15" fill="#535353"/>
<circle cx="430.5" cy="89.7" r="1.15" fill="#535353"/>
<circle cx="420.9" cy="90.3" r="1.15" fill="#535353"/>
<circle cx="456.6" cy="94.5" r="1.15" fill="#535353"/>
<circle cx="428.1" cy="84.1" r="1.15" fill="#535353"/>
<circle cx="425.5" cy="81.7" r="1.15" fill="#535353"/>
<circle cx="402.8" cy="82.6" r="1.15" fill="#535353"/>
<circle cx="394.4" cy="91.5" r="1.15" fill="#535353"/>
<circle cx="438.1" cy="97.7" r="1.15" fill="#535353"/>
<circle cx="438.4" cy="92.7" r="1.15" fill="#535353"/>
<circle cx="429.4" cy="98.1" r="1.15" fill="#535353"/>
<circle cx="393.3" cy="82.2" r="1.15" fill="#535353"/>
<circle cx="404.8" cy="73.8" r="1.15" fill="#535353"/>
<circle cx="431.4" cy="84.3" r="1.15" fill="#535353"/>
<circle cx="394.2" cy="68.2" r="1.15" fill="#535353"/>
<circle cx="424.8" cy="86.0" r="1.15" fill="#535353"/>
<circle cx="456.5" cy="100.8" r="1.15" fill="#535353"/>
<circle cx="429.4" cy="85.4" r="1.15" fill="#535353"/>
<circle cx="440.9" cy="93.2" r="1.15" fill="#535353"/>
<circle cx="413.1" cy="86.8" r="1.15" fill="#535353"/>
<circle cx="434.5" cy="103.1" r="1.15" fill="#535353"/>
<circle cx="417.5" cy="93.4" r="1.15" fill="#535353"/>
<circle cx="451.8" cy="91.4" r="1.15" fill="#535353"/>
<circle cx="401.9" cy="83.4" r="1.15" fill="#535353"/>
<circle cx="418.1" cy="88.0" r="1.15" fill="#535353"/>
<circle cx="423.0" cy="85.1" r="1.15" fill="#535353"/>
<circle cx="408.6" cy="84.7" r="1.15" fill="#535353"/>
<circle cx="445.6" cy="96.0" r="1.15" fill="#535353"/>
<circle cx="389.3" cy="87.1" r="1.15" fill="#535353"/>
<circle cx="408.9" cy="86.3" r="1.15" fill="#535353"/>
<circle cx="414.1" cy="87.1" r="1.15" fill="#535353"/>
<circle cx="428.6" cy="92.2" r="1.15" fill="#535353"/>
<circle cx="419.8" cy="85.0" r="1.15" fill="#535353"/>
<circle cx="435.5" cy="85.8" r="1.15" fill="#535353"/>
<circle cx="434.0" cy="85.3" r="1.15" fill="#535353"/>
<circle cx="436.9" cy="82.5" r="1.15" fill="#535353"/>
<circle cx="408.4" cy="81.1" r="1.15" fill="#535353"/>
<circle cx="405.3" cy="85.5" r="1.15" fill="#535353"/>
<circle cx="423.8" cy="94.7" r="1.15" fill="#535353"/>
<circle cx="415.5" cy="103.1" r="1.15" fill="#535353"/>
<circle cx="439.3" cy="83.3" r="1.15" fill="#535353"/>
<circle cx="405.8" cy="77.6" r="1.15" fill="#535353"/>
<circle cx="427.8" cy="85.8" r="1.15" fill="#535353"/>
<circle cx="416.4" cy="91.2" r="1.15" fill="#535353"/>
<circle cx="409.9" cy="79.7" r="1.15" fill="#535353"/>
<circle cx="428.6" cy="87.0" r="1.15" fill="#535353"/>
<circle cx="422.5" cy="86.4" r="1.15" fill="#535353"/>
<circle cx="446.5" cy="103.4" r="1.15" fill="#535353"/>
<circle cx="440.8" cy="94.3" r="1.15" fill="#535353"/>
<circle cx="445.6" cy="108.2" r="1.15" fill="#535353"/>
<circle cx="411.7" cy="86.1" r="1.15" fill="#535353"/>
<circle cx="441.0" cy="88.6" r="1.15" fill="#535353"/>
<circle cx="417.3" cy="89.4" r="1.15" fill="#535353"/>
<circle cx="414.8" cy="79.7" r="1.15" fill="#535353"/>
<circle cx="416.0" cy="94.7" r="1.15" fill="#535353"/>
<circle cx="398.1" cy="81.1" r="1.15" fill="#535353"/>
<circle cx="412.1" cy="90.5" r="1.15" fill="#535353"/>
<circle cx="395.1" cy="79.1" r="1.15" fill="#535353"/>
<circle cx="432.2" cy="70.8" r="1.15" fill="#535353"/>
<circle cx="437.1" cy="84.9" r="1.15" fill="#535353"/>
<circle cx="440.3" cy="104.2" r="1.15" fill="#535353"/>
<circle cx="444.9" cy="90.6" r="1.15" fill="#535353"/>
<circle cx="432.3" cy="82.7" r="1.15" fill="#535353"/>
<circle cx="426.2" cy="98.5" r="1.15" fill="#535353"/>
<circle cx="408.7" cy="103.1" r="1.15" fill="#535353"/>
<circle cx="429.6" cy="94.7" r="1.15" fill="#535353"/>
<circle cx="435.3" cy="114.1" r="1.15" fill="#535353"/>
<circle cx="417.2" cy="69.7" r="1.15" fill="#535353"/>
<circle cx="408.4" cy="85.6" r="1.15" fill="#535353"/>
<circle cx="428.0" cy="99.8" r="1.15" fill="#535353"/>
<circle cx="466.3" cy="99.3" r="1.15" fill="#535353"/>
<circle cx="449.7" cy="106.4" r="1.15" fill="#535353"/>
<circle cx="395.1" cy="69.2" r="1.15" fill="#535353"/>
<circle cx="424.0" cy="111.5" r="1.15" fill="#535353"/>
<circle cx="420.0" cy="91.7" r="1.15" fill="#535353"/>
<circle cx="446.8" cy="109.0" r="1.15" fill="#535353"/>
<circle cx="407.4" cy="64.6" r="1.15" fill="#535353"/>
<circle cx="447.1" cy="106.7" r="1.15" fill="#535353"/>
<circle cx="416.0" cy="96.3" r="1.15" fill="#535353"/>
<circle cx="442.2" cy="82.5" r="1.15" fill="#535353"/>
<circle cx="455.7" cy="71.8" r="1.15" fill="#535353"/>
<circle cx="430.0" cy="76.1" r="1.15" fill="#535353"/>
<circle cx="447.4" cy="75.0" r="1.15" fill="#535353"/>
<circle cx="425.9" cy="101.4" r="1.15" fill="#7552a3"/>
<circle cx="436.8" cy="116.3" r="1.15" fill="#7552a3"/>
<circle cx="455.5" cy="94.1" r="1.15" fill="#7552a3"/>
<circle cx="458.2" cy="102.8" r="1.15" fill="#7552a3"/>
<circle cx="432.7" cy="106.8" r="1.15" fill="#7552a3"/>
<circle cx="454.1" cy="104.9" r="1.15" fill="#7552a3"/>
<circle cx="427.9" cy="97.7" r="1.15" fill="#7552a3"/>
<circle cx="451.2" cy="109.1" r="1.15" fill="#7552a3"/>
<circle cx="434.7" cy="98.4" r="1.15" fill="#7552a3"/>
<circle cx="427.7" cy="100.4" r="1.15" fill="#7552a3"/>
<circle cx="439.7" cy="97.1" r="1.15" fill="#7552a3"/>
<circle cx="433.5" cy="105.1" r="1.15" fill="#7552a3"/>
<circle cx="435.0" cy="93.2" r="1.15" fill="#7552a3"/>
<circle cx="448.7" cy="108.9" r="1.15" fill="#7552a3"/>
<circle cx="436.6" cy="101.7" r="1.15" fill="#7552a3"/>
<circle cx="440.5" cy="99.8" r="1.15" fill="#7552a3"/>
<circle cx="431.2" cy="106.8" r="1.15" fill="#7552a3"/>
<circle cx="460.2" cy="95.7" r="1.15" fill="#7552a3"/>
<circle cx="434.1" cy="92.4" r="1.15" fill="#7552a3"/>
<circle cx="454.7" cy="116.3" r="1.15" fill="#7552a3"/>
<circle cx="445.0" cy="96.8" r="1.15" fill="#7552a3"/>
<circle cx="443.4" cy="103.5" r="1.15" fill="#7552a3"/>
<circle cx="453.8" cy="100.7" r="1.15" fill="#7552a3"/>
<circle cx="443.9" cy="110.6" r="1.15" fill="#7552a3"/>
<circle cx="453.6" cy="103.1" r="1.15" fill="#7552a3"/>
<circle cx="428.0" cy="104.1" r="1.15" fill="#7552a3"/>
<circle cx="435.4" cy="99.3" r="1.15" fill="#7552a3"/>
<circle cx="435.0" cy="106.3" r="1.15" fill="#7552a3"/>
<circle cx="455.6" cy="106.0" r="1.15" fill="#7552a3"/>
<circle cx="438.0" cy="103.5" r="1.15" fill="#7552a3"/>
<circle cx="435.5" cy="98.6" r="1.15" fill="#7552a3"/>
<circle cx="430.8" cy="106.1" r="1.15" fill="#7552a3"/>
<circle cx="459.9" cy="114.0" r="1.15" fill="#7552a3"/>
<circle cx="432.1" cy="102.5" r="1.15" fill="#7552a3"/>
<circle cx="435.8" cy="96.7" r="1.15" fill="#7552a3"/>
<circle cx="444.5" cy="106.5" r="1.15" fill="#7552a3"/>
<circle cx="431.4" cy="87.4" r="1.15" fill="#7552a3"/>
<circle cx="447.4" cy="109.6" r="1.15" fill="#7552a3"/>
<circle cx="457.5" cy="94.6" r="1.15" fill="#7552a3"/>
<circle cx="435.8" cy="113.7" r="1.15" fill="#7552a3"/>
<circle cx="461.9" cy="103.8" r="1.15" fill="#7552a3"/>
<circle cx="437.4" cy="101.3" r="1.15" fill="#7552a3"/>
<circle cx="439.4" cy="95.9" r="1.15" fill="#7552a3"/>
<circle cx="436.2" cy="103.2" r="1.15" fill="#7552a3"/>
<circle cx="447.7" cy="95.1" r="1.15" fill="#7552a3"/>
<circle cx="435.2" cy="106.5" r="1.15" fill="#7552a3"/>
<circle cx="455.6" cy="103.4" r="1.15" fill="#7552a3"/>
<circle cx="451.6" cy="101.4" r="1.15" fill="#7552a3"/>
<circle cx="444.1" cy="108.2" r="1.15" fill="#7552a3"/>
<circle cx="441.9" cy="103.5" r="1.15" fill="#7552a3"/>
<circle cx="436.2" cy="91.8" r="1.15" fill="#7552a3"/>
<circle cx="430.3" cy="107.8" r="1.15" fill="#7552a3"/>
<circle cx="445.9" cy="96.2" r="1.15" fill="#7552a3"/>
<circle cx="435.2" cy="104.6" r="1.15" fill="#7552a3"/>
<circle cx="435.2" cy="109.1" r="1.15" fill="#7552a3"/>
<circle cx="454.5" cy="103.2" r="1.15" fill="#7552a3"/>
<circle cx="438.2" cy="101.4" r="1.15" fill="#7552a3"/>
<circle cx="451.0" cy="94.3" r="1.15" fill="#7552a3"/>
<circle cx="445.6" cy="101.3" r="1.15" fill="#7552a3"/>
<circle cx="447.7" cy="96.4" r="1.15" fill="#7552a3"/>
<circle cx="448.0" cy="110.7" r="1.15" fill="#7552a3"/>
<circle cx="443.4" cy="105.1" r="1.15" fill="#7552a3"/>
<circle cx="458.3" cy="102.2" r="1.15" fill="#7552a3"/>
<circle cx="435.6" cy="94.2" r="1.15" fill="#7552a3"/>
<circle cx="438.7" cy="100.0" r="1.15" fill="#7552a3"/>
<circle cx="441.8" cy="100.2" r="1.15" fill="#7552a3"/>
<circle cx="452.4" cy="107.7" r="1.15" fill="#7552a3"/>
<circle cx="436.2" cy="97.5" r="1.15" fill="#7552a3"/>
<circle cx="439.8" cy="101.7" r="1.15" fill="#7552a3"/>
<circle cx="451.8" cy="108.2" r="1.15" fill="#7552a3"/>
<circle cx="452.0" cy="104.7" r="1.15" fill="#7552a3"/>
<circle cx="437.0" cy="106.2" r="1.15" fill="#7552a3"/>
<circle cx="463.1" cy="99.1" r="1.15" fill="#7552a3"/>
<circle cx="447.2" cy="107.3" r="1.15" fill="#7552a3"/>
<circle cx="456.1" cy="109.8" r="1.15" fill="#7552a3"/>
<circle cx="438.0" cy="95.1" r="1.15" fill="#7552a3"/>
<circle cx="452.9" cy="104.8" r="1.15" fill="#7552a3"/>
<circle cx="448.9" cy="104.5" r="1.15" fill="#7552a3"/>
<circle cx="430.7" cy="96.7" r="1.15" fill="#7552a3"/>
<circle cx="443.7" cy="97.8" r="1.15" fill="#7552a3"/>
<circle cx="449.9" cy="108.1" r="1.15" fill="#7552a3"/>
<circle cx="444.1" cy="107.5" r="1.15" fill="#7552a3"/>
<circle cx="446.3" cy="97.9" r="1.15" fill="#7552a3"/>
<circle cx="452.0" cy="87.8" r="1.15" fill="#7552a3"/>
<circle cx="439.2" cy="95.4" r="1.15" fill="#7552a3"/>
<circle cx="450.9" cy="98.0" r="1.15" fill="#7552a3"/>
<circle cx="435.0" cy="98.9" r="1.15" fill="#7552a3"/>
<circle cx="446.6" cy="101.8" r="1.15" fill="#7552a3"/>
<circle cx="446.2" cy="108.2" r="1.15" fill="#7552a3"/>
<circle cx="442.4" cy="99.0" r="1.15" fill="#7552a3"/>
<circle cx="440.8" cy="98.6" r="1.15" fill="#7552a3"/>
<circle cx="455.8" cy="101.0" r="1.15" fill="#7552a3"/>
<circle cx="439.2" cy="100.0" r="1.15" fill="#7552a3"/>
<circle cx="441.1" cy="105.7" r="1.15" fill="#7552a3"/>
<circle cx="440.0" cy="91.4" r="1.15" fill="#7552a3"/>
<circle cx="449.3" cy="98.2" r="1.15" fill="#7552a3"/>
<circle cx="451.0" cy="112.6" r="1.15" fill="#7552a3"/>
<circle cx="447.0" cy="98.2" r="1.15" fill="#7552a3"/>
<circle cx="440.6" cy="109.0" r="1.15" fill="#7552a3"/>
<circle cx="448.4" cy="104.1" r="1.15" fill="#7552a3"/>
<circle cx="452.8" cy="105.3" r="1.15" fill="#7552a3"/>
<circle cx="443.7" cy="96.3" r="1.15" fill="#7552a3"/>
<circle cx="452.2" cy="95.9" r="1.15" fill="#7552a3"/>
<circle cx="440.9" cy="89.8" r="1.15" fill="#7552a3"/>
<circle cx="434.5" cy="106.1" r="1.15" fill="#7552a3"/>
<circle cx="442.5" cy="94.6" r="1.15" fill="#7552a3"/>
<circle cx="446.7" cy="90.8" r="1.15" fill="#7552a3"/>
<circle cx="450.3" cy="97.9" r="1.15" fill="#7552a3"/>
<circle cx="435.0" cy="104.3" r="1.15" fill="#7552a3"/>
<circle cx="443.5" cy="109.1" r="1.15" fill="#7552a3"/>
<circle cx="435.5" cy="109.7" r="1.15" fill="#7552a3"/>
<circle cx="438.7" cy="97.3" r="1.15" fill="#7552a3"/>
<circle cx="447.3" cy="101.0" r="1.15" fill="#7552a3"/>
<circle cx="447.1" cy="107.4" r="1.15" fill="#7552a3"/>
<circle cx="439.9" cy="105.6" r="1.15" fill="#7552a3"/>
<circle cx="434.0" cy="105.3" r="1.15" fill="#7552a3"/>
<circle cx="434.3" cy="103.0" r="1.15" fill="#7552a3"/>
<circle cx="449.7" cy="100.9" r="1.15" fill="#7552a3"/>
<circle cx="442.9" cy="99.9" r="1.15" fill="#7552a3"/>
<circle cx="440.6" cy="108.0" r="1.15" fill="#7552a3"/>
<circle cx="425.3" cy="95.3" r="1.15" fill="#7552a3"/>
<circle cx="445.3" cy="115.7" r="1.15" fill="#7552a3"/>
<circle cx="445.4" cy="105.6" r="1.15" fill="#7552a3"/>
<circle cx="441.8" cy="101.5" r="1.15" fill="#7552a3"/>
<circle cx="436.3" cy="111.3" r="1.15" fill="#7552a3"/>
<circle cx="436.4" cy="97.9" r="1.15" fill="#7552a3"/>
<circle cx="434.3" cy="111.1" r="1.15" fill="#7552a3"/>
<circle cx="442.4" cy="91.1" r="1.15" fill="#7552a3"/>
<circle cx="434.3" cy="96.1" r="1.15" fill="#7552a3"/>
<circle cx="444.2" cy="100.3" r="1.15" fill="#7552a3"/>
<circle cx="455.3" cy="108.3" r="1.15" fill="#7552a3"/>
<circle cx="441.6" cy="104.8" r="1.15" fill="#7552a3"/>
<circle cx="447.6" cy="102.1" r="1.15" fill="#7552a3"/>
<circle cx="444.8" cy="98.1" r="1.15" fill="#7552a3"/>
<circle cx="440.3" cy="101.8" r="1.15" fill="#7552a3"/>
<circle cx="437.2" cy="94.9" r="1.15" fill="#7552a3"/>
<circle cx="449.9" cy="92.3" r="1.15" fill="#7552a3"/>
<circle cx="428.7" cy="107.2" r="1.15" fill="#7552a3"/>
<circle cx="441.9" cy="96.4" r="1.15" fill="#7552a3"/>
<circle cx="438.7" cy="108.3" r="1.15" fill="#7552a3"/>
<circle cx="460.1" cy="103.0" r="1.15" fill="#7552a3"/>
<circle cx="443.5" cy="108.0" r="1.15" fill="#7552a3"/>
<circle cx="460.0" cy="99.8" r="1.15" fill="#7552a3"/>
<circle cx="439.9" cy="104.2" r="1.15" fill="#7552a3"/>
<circle cx="442.4" cy="100.0" r="1.15" fill="#7552a3"/>
<circle cx="443.9" cy="107.1" r="1.15" fill="#7552a3"/>
<circle cx="455.7" cy="108.3" r="1.15" fill="#7552a3"/>
<circle cx="454.6" cy="98.1" r="1.15" fill="#7552a3"/>
<circle cx="430.0" cy="96.7" r="1.15" fill="#7552a3"/>
<circle cx="445.8" cy="107.5" r="1.15" fill="#7552a3"/>
<circle cx="461.4" cy="95.0" r="1.15" fill="#7552a3"/>
<circle cx="436.7" cy="112.5" r="1.15" fill="#7552a3"/>
<circle cx="448.6" cy="110.7" r="1.15" fill="#7552a3"/>
<circle cx="439.2" cy="102.4" r="1.15" fill="#7552a3"/>
<circle cx="439.0" cy="109.2" r="1.15" fill="#7552a3"/>
<circle cx="453.3" cy="95.5" r="1.15" fill="#7552a3"/>
<circle cx="456.3" cy="100.4" r="1.15" fill="#7552a3"/>
<circle cx="444.7" cy="107.6" r="1.15" fill="#7552a3"/>
<circle cx="434.6" cy="108.9" r="1.15" fill="#7552a3"/>
<circle cx="442.2" cy="100.9" r="1.15" fill="#7552a3"/>
<circle cx="436.1" cy="98.1" r="1.15" fill="#7552a3"/>
<circle cx="444.7" cy="97.9" r="1.15" fill="#7552a3"/>
<circle cx="451.9" cy="95.7" r="1.15" fill="#7552a3"/>
<circle cx="438.9" cy="107.0" r="1.15" fill="#7552a3"/>
<circle cx="442.8" cy="95.6" r="1.15" fill="#7552a3"/>
<circle cx="437.5" cy="98.8" r="1.15" fill="#7552a3"/>
<circle cx="446.1" cy="105.3" r="1.15" fill="#7552a3"/>
<circle cx="434.4" cy="105.2" r="1.15" fill="#7552a3"/>
<circle cx="447.0" cy="110.2" r="1.15" fill="#7552a3"/>
<circle cx="442.6" cy="106.8" r="1.15" fill="#7552a3"/>
<circle cx="435.9" cy="110.3" r="1.15" fill="#7552a3"/>
<circle cx="426.7" cy="100.5" r="1.15" fill="#7552a3"/>
<circle cx="444.5" cy="105.7" r="1.15" fill="#7552a3"/>
<circle cx="440.0" cy="97.4" r="1.15" fill="#7552a3"/>
<circle cx="443.1" cy="100.9" r="1.15" fill="#7552a3"/>
<circle cx="441.0" cy="99.0" r="1.15" fill="#7552a3"/>
<circle cx="439.2" cy="109.5" r="1.15" fill="#7552a3"/>
<circle cx="448.5" cy="99.5" r="1.15" fill="#7552a3"/>
<circle cx="433.5" cy="101.9" r="1.15" fill="#7552a3"/>
<circle cx="444.0" cy="101.0" r="1.15" fill="#7552a3"/>
<circle cx="442.2" cy="105.6" r="1.15" fill="#7552a3"/>
<circle cx="438.1" cy="104.2" r="1.15" fill="#7552a3"/>
<circle cx="432.2" cy="102.6" r="1.15" fill="#7552a3"/>
<circle cx="446.6" cy="95.8" r="1.15" fill="#7552a3"/>
<circle cx="463.3" cy="102.3" r="1.15" fill="#7552a3"/>
<circle cx="434.1" cy="109.9" r="1.15" fill="#7552a3"/>
<circle cx="454.8" cy="106.6" r="1.15" fill="#7552a3"/>
<circle cx="442.2" cy="98.4" r="1.15" fill="#7552a3"/>
<circle cx="443.7" cy="101.9" r="1.15" fill="#7552a3"/>
<circle cx="445.0" cy="114.7" r="1.15" fill="#7552a3"/>
<circle cx="440.5" cy="99.2" r="1.15" fill="#7552a3"/>
<circle cx="430.5" cy="112.2" r="1.15" fill="#7552a3"/>
<circle cx="447.3" cy="104.7" r="1.15" fill="#7552a3"/>
<circle cx="446.0" cy="114.4" r="1.15" fill="#7552a3"/>
<circle cx="441.8" cy="108.5" r="1.15" fill="#7552a3"/>
<circle cx="449.2" cy="92.4" r="1.15" fill="#7552a3"/>
<circle cx="438.4" cy="97.7" r="1.15" fill="#7552a3"/>
<circle cx="433.7" cy="104.9" r="1.15" fill="#7552a3"/>
<circle cx="445.6" cy="107.0" r="1.15" fill="#7552a3"/>
<circle cx="454.0" cy="101.0" r="1.15" fill="#7552a3"/>
<circle cx="430.2" cy="111.3" r="1.15" fill="#7552a3"/>
<circle cx="436.6" cy="115.9" r="1.15" fill="#7552a3"/>
<circle cx="452.6" cy="105.5" r="1.15" fill="#7552a3"/>
<circle cx="436.7" cy="103.0" r="1.15" fill="#7552a3"/>
<circle cx="438.4" cy="95.3" r="1.15" fill="#7552a3"/>
<circle cx="454.8" cy="98.5" r="1.15" fill="#7552a3"/>
<circle cx="447.5" cy="97.3" r="1.15" fill="#7552a3"/>
<circle cx="446.2" cy="103.5" r="1.15" fill="#7552a3"/>
<circle cx="452.0" cy="101.4" r="1.15" fill="#7552a3"/>
<circle cx="447.7" cy="93.8" r="1.15" fill="#7552a3"/>
<circle cx="460.2" cy="102.8" r="1.15" fill="#7552a3"/>
<circle cx="452.4" cy="111.6" r="1.15" fill="#7552a3"/>
<circle cx="435.4" cy="100.8" r="1.15" fill="#7552a3"/>
<circle cx="436.3" cy="109.4" r="1.15" fill="#7552a3"/>
<circle cx="434.7" cy="100.4" r="1.15" fill="#7552a3"/>
<circle cx="429.3" cy="99.6" r="1.15" fill="#7552a3"/>
<circle cx="451.6" cy="114.9" r="1.15" fill="#7552a3"/>
<circle cx="446.3" cy="98.6" r="1.15" fill="#7552a3"/>
<circle cx="430.9" cy="100.3" r="1.15" fill="#7552a3"/>
<circle cx="438.6" cy="99.7" r="1.15" fill="#7552a3"/>
<circle cx="449.4" cy="100.3" r="1.15" fill="#7552a3"/>
<circle cx="458.0" cy="109.8" r="1.15" fill="#7552a3"/>
<circle cx="465.9" cy="105.6" r="1.15" fill="#7552a3"/>
<circle cx="429.7" cy="110.8" r="1.15" fill="#7552a3"/>
<circle cx="455.4" cy="99.6" r="1.15" fill="#7552a3"/>
<circle cx="436.1" cy="106.3" r="1.15" fill="#7552a3"/>
<circle cx="428.7" cy="102.0" r="1.15" fill="#7552a3"/>
<circle cx="439.6" cy="97.6" r="1.15" fill="#7552a3"/>
<circle cx="443.9" cy="104.0" r="1.15" fill="#7552a3"/>
<circle cx="447.5" cy="94.4" r="1.15" fill="#7552a3"/>
<circle cx="438.5" cy="102.2" r="1.15" fill="#7552a3"/>
<circle cx="437.4" cy="108.1" r="1.15" fill="#7552a3"/>
<circle cx="433.7" cy="106.2" r="1.15" fill="#7552a3"/>
<circle cx="430.3" cy="104.5" r="1.15" fill="#7552a3"/>
<circle cx="438.5" cy="101.2" r="1.15" fill="#7552a3"/>
<circle cx="450.6" cy="91.3" r="1.15" fill="#7552a3"/>
<circle cx="437.8" cy="103.9" r="1.15" fill="#7552a3"/>
<circle cx="446.9" cy="106.6" r="1.15" fill="#7552a3"/>
<circle cx="451.8" cy="98.8" r="1.15" fill="#7552a3"/>
<circle cx="442.1" cy="95.9" r="1.15" fill="#7552a3"/>
<circle cx="435.9" cy="104.5" r="1.15" fill="#7552a3"/>
<circle cx="438.1" cy="104.4" r="1.15" fill="#7552a3"/>
<circle cx="429.7" cy="103.7" r="1.15" fill="#7552a3"/>
<circle cx="450.7" cy="100.0" r="1.15" fill="#7552a3"/>
<circle cx="451.3" cy="100.1" r="1.15" fill="#7552a3"/>
<circle cx="450.0" cy="109.0" r="1.15" fill="#7552a3"/>
<circle cx="438.7" cy="113.2" r="1.15" fill="#7552a3"/>
<circle cx="463.8" cy="90.6" r="1.15" fill="#7552a3"/>
<circle cx="441.4" cy="105.9" r="1.15" fill="#7552a3"/>
<circle cx="446.8" cy="108.4" r="1.15" fill="#7552a3"/>
<circle cx="453.6" cy="89.2" r="1.15" fill="#7552a3"/>
<circle cx="427.2" cy="107.2" r="1.15" fill="#7552a3"/>
<circle cx="452.8" cy="94.9" r="1.15" fill="#7552a3"/>
<circle cx="448.7" cy="101.4" r="1.15" fill="#7552a3"/>
<circle cx="441.1" cy="102.3" r="1.15" fill="#7552a3"/>
<circle cx="436.8" cy="105.4" r="1.15" fill="#7552a3"/>
<circle cx="437.7" cy="93.8" r="1.15" fill="#7552a3"/>
<circle cx="424.6" cy="97.2" r="1.15" fill="#7552a3"/>
<circle cx="428.4" cy="111.7" r="1.15" fill="#7552a3"/>
<circle cx="446.1" cy="105.8" r="1.15" fill="#7552a3"/>
<circle cx="442.0" cy="108.7" r="1.15" fill="#7552a3"/>
<circle cx="443.4" cy="112.4" r="1.15" fill="#7552a3"/>
<circle cx="444.4" cy="105.9" r="1.15" fill="#7552a3"/>
<circle cx="431.5" cy="95.8" r="1.15" fill="#7552a3"/>
<circle cx="456.5" cy="106.2" r="1.15" fill="#7552a3"/>
<circle cx="454.5" cy="100.8" r="1.15" fill="#7552a3"/>
<circle cx="451.8" cy="98.5" r="1.15" fill="#7552a3"/>
<circle cx="443.7" cy="105.9" r="1.15" fill="#7552a3"/>
<circle cx="454.8" cy="107.2" r="1.15" fill="#7552a3"/>
<circle cx="442.0" cy="99.0" r="1.15" fill="#7552a3"/>
<circle cx="425.3" cy="99.2" r="1.15" fill="#7552a3"/>
<circle cx="438.2" cy="104.5" r="1.15" fill="#7552a3"/>
<circle cx="446.7" cy="102.6" r="1.15" fill="#7552a3"/>
<circle cx="444.1" cy="106.8" r="1.15" fill="#7552a3"/>
<circle cx="434.9" cy="104.7" r="1.15" fill="#7552a3"/>
<circle cx="438.7" cy="108.6" r="1.15" fill="#7552a3"/>
<circle cx="454.1" cy="93.1" r="1.15" fill="#7552a3"/>
<circle cx="428.3" cy="105.3" r="1.15" fill="#7552a3"/>
<circle cx="450.4" cy="117.1" r="1.15" fill="#7552a3"/>
<circle cx="450.8" cy="102.5" r="1.15" fill="#7552a3"/>
<circle cx="448.7" cy="97.1" r="1.15" fill="#7552a3"/>
<circle cx="454.0" cy="111.0" r="1.15" fill="#7552a3"/>
<circle cx="448.0" cy="102.2" r="1.15" fill="#7552a3"/>
<circle cx="448.1" cy="111.5" r="1.15" fill="#7552a3"/>
<circle cx="433.9" cy="98.6" r="1.15" fill="#7552a3"/>
<circle cx="452.1" cy="93.0" r="1.15" fill="#7552a3"/>
<circle cx="427.2" cy="95.2" r="1.15" fill="#7552a3"/>
<circle cx="439.4" cy="104.6" r="1.15" fill="#7552a3"/>
<circle cx="439.1" cy="99.2" r="1.15" fill="#7552a3"/>
<circle cx="454.3" cy="83.2" r="1.15" fill="#7552a3"/>
<circle cx="430.8" cy="79.6" r="1.15" fill="#7552a3"/>
<circle cx="432.1" cy="67.8" r="1.15" fill="#7552a3"/>
<circle cx="452.0" cy="73.3" r="1.15" fill="#7552a3"/>
<circle cx="440.3" cy="67.8" r="1.15" fill="#7552a3"/>
<circle cx="442.3" cy="74.8" r="1.15" fill="#7552a3"/>
<circle cx="455.0" cy="56.0" r="1.15" fill="#7552a3"/>
<circle cx="443.0" cy="83.2" r="1.15" fill="#7552a3"/>
<circle cx="452.6" cy="76.6" r="1.15" fill="#7552a3"/>
<circle cx="456.0" cy="76.6" r="1.15" fill="#7552a3"/>
<circle cx="431.4" cy="68.0" r="1.15" fill="#7552a3"/>
<circle cx="441.2" cy="69.2" r="1.15" fill="#7552a3"/>
<circle cx="430.7" cy="68.3" r="1.15" fill="#7552a3"/>
<circle cx="444.5" cy="62.1" r="1.15" fill="#7552a3"/>
<circle cx="415.9" cy="66.2" r="1.15" fill="#7552a3"/>
<circle cx="433.3" cy="76.3" r="1.15" fill="#7552a3"/>
<circle cx="432.3" cy="61.5" r="1.15" fill="#7552a3"/>
<circle cx="461.8" cy="64.8" r="1.15" fill="#7552a3"/>
<circle cx="419.9" cy="75.7" r="1.15" fill="#7552a3"/>
<circle cx="442.9" cy="69.8" r="1.15" fill="#7552a3"/>
<circle cx="420.7" cy="66.1" r="1.15" fill="#7552a3"/>
<circle cx="431.8" cy="72.8" r="1.15" fill="#7552a3"/>
<circle cx="454.0" cy="82.7" r="1.15" fill="#7552a3"/>
<circle cx="435.4" cy="55.9" r="1.15" fill="#7552a3"/>
<circle cx="450.6" cy="70.6" r="1.15" fill="#7552a3"/>
<circle cx="434.9" cy="77.7" r="1.15" fill="#7552a3"/>
<circle cx="448.1" cy="74.4" r="1.15" fill="#7552a3"/>
<circle cx="442.2" cy="59.3" r="1.15" fill="#7552a3"/>
<circle cx="442.3" cy="71.4" r="1.15" fill="#7552a3"/>
<circle cx="425.9" cy="75.7" r="1.15" fill="#7552a3"/>
<circle cx="446.6" cy="79.6" r="1.15" fill="#7552a3"/>
<circle cx="450.9" cy="75.6" r="1.15" fill="#7552a3"/>
<circle cx="445.5" cy="63.5" r="1.15" fill="#7552a3"/>
<circle cx="431.8" cy="57.9" r="1.15" fill="#7552a3"/>
<circle cx="436.7" cy="79.3" r="1.15" fill="#7552a3"/>
<circle cx="438.6" cy="67.7" r="1.15" fill="#7552a3"/>
<circle cx="452.9" cy="62.1" r="1.15" fill="#7552a3"/>
<circle cx="440.2" cy="72.1" r="1.15" fill="#7552a3"/>
<circle cx="444.4" cy="70.5" r="1.15" fill="#7552a3"/>
<circle cx="437.7" cy="58.5" r="1.15" fill="#7552a3"/>
<circle cx="439.6" cy="83.8" r="1.15" fill="#7552a3"/>
<circle cx="450.7" cy="79.7" r="1.15" fill="#7552a3"/>
<circle cx="439.0" cy="78.2" r="1.15" fill="#7552a3"/>
<circle cx="460.6" cy="72.9" r="1.15" fill="#7552a3"/>
<circle cx="446.4" cy="59.5" r="1.15" fill="#7552a3"/>
<circle cx="457.4" cy="65.8" r="1.15" fill="#7552a3"/>
<circle cx="447.9" cy="56.7" r="1.15" fill="#7552a3"/>
<circle cx="460.4" cy="67.1" r="1.15" fill="#7552a3"/>
<circle cx="461.2" cy="59.2" r="1.15" fill="#7552a3"/>
<circle cx="452.1" cy="74.6" r="1.15" fill="#7552a3"/>
<circle cx="446.5" cy="69.0" r="1.15" fill="#7552a3"/>
<circle cx="447.3" cy="59.2" r="1.15" fill="#7552a3"/>
<circle cx="423.1" cy="78.3" r="1.15" fill="#7552a3"/>
<circle cx="419.3" cy="75.0" r="1.15" fill="#7552a3"/>
<circle cx="441.1" cy="72.8" r="1.15" fill="#7552a3"/>
<circle cx="423.0" cy="64.9" r="1.15" fill="#7552a3"/>
<circle cx="438.9" cy="72.5" r="1.15" fill="#7552a3"/>
<circle cx="444.8" cy="83.2" r="1.15" fill="#7552a3"/>
<circle cx="433.2" cy="70.2" r="1.15" fill="#7552a3"/>
<circle cx="433.1" cy="67.2" r="1.15" fill="#7552a3"/>
<circle cx="440.6" cy="84.1" r="1.15" fill="#7552a3"/>
<circle cx="455.2" cy="57.8" r="1.15" fill="#7552a3"/>
<circle cx="426.6" cy="66.7" r="1.15" fill="#7552a3"/>
<circle cx="439.4" cy="81.8" r="1.15" fill="#7552a3"/>
<circle cx="430.1" cy="80.0" r="1.15" fill="#7552a3"/>
<circle cx="454.5" cy="81.9" r="1.15" fill="#7552a3"/>
<circle cx="457.9" cy="61.0" r="1.15" fill="#7552a3"/>
<circle cx="483.2" cy="93.9" r="1.15" fill="#4f3f72"/>
<circle cx="489.4" cy="93.2" r="1.15" fill="#4f3f72"/>
<circle cx="492.0" cy="91.3" r="1.15" fill="#4f3f72"/>
<circle cx="479.7" cy="85.5" r="1.15" fill="#4f3f72"/>
<circle cx="477.0" cy="86.8" r="1.15" fill="#4f3f72"/>
<circle cx="496.0" cy="84.1" r="1.15" fill="#4f3f72"/>
<circle cx="478.9" cy="84.2" r="1.15" fill="#4f3f72"/>
<circle cx="504.1" cy="97.4" r="1.15" fill="#4f3f72"/>
<circle cx="477.8" cy="94.5" r="1.15" fill="#4f3f72"/>
<circle cx="502.7" cy="110.7" r="1.15" fill="#4f3f72"/>
<circle cx="467.6" cy="96.5" r="1.15" fill="#4f3f72"/>
<circle cx="492.0" cy="84.2" r="1.15" fill="#4f3f72"/>
<circle cx="480.9" cy="75.3" r="1.15" fill="#4f3f72"/>
<circle cx="475.9" cy="84.9" r="1.15" fill="#4f3f72"/>
<circle cx="470.7" cy="114.9" r="1.15" fill="#4f3f72"/>
<circle cx="472.3" cy="113.6" r="1.15" fill="#4f3f72"/>
<circle cx="486.2" cy="93.2" r="1.15" fill="#4f3f72"/>
<circle cx="474.1" cy="77.3" r="1.15" fill="#4f3f72"/>
<circle cx="481.1" cy="109.9" r="1.15" fill="#4f3f72"/>
<circle cx="474.0" cy="85.7" r="1.15" fill="#4f3f72"/>
<circle cx="502.0" cy="109.4" r="1.15" fill="#4f3f72"/>
<circle cx="468.4" cy="84.0" r="1.15" fill="#4f3f72"/>
<circle cx="476.4" cy="75.6" r="1.15" fill="#4f3f72"/>
<circle cx="486.1" cy="89.9" r="1.15" fill="#4f3f72"/>
<circle cx="480.2" cy="83.1" r="1.15" fill="#4f3f72"/>
<circle cx="484.6" cy="102.7" r="1.15" fill="#4f3f72"/>
<circle cx="470.4" cy="43.2" r="1.15" fill="#4f3f72"/>
<circle cx="480.9" cy="37.7" r="1.15" fill="#4f3f72"/>
<circle cx="495.5" cy="61.1" r="1.15" fill="#4f3f72"/>
<circle cx="501.8" cy="92.7" r="1.15" fill="#4f3f72"/>
<circle cx="417.1" cy="113.3" r="1.15" fill="#4f3f72"/>
<circle cx="434.9" cy="118.8" r="1.15" fill="#4f3f72"/>
<circle cx="447.4" cy="122.3" r="1.15" fill="#4f3f72"/>
<circle cx="452.7" cy="118.8" r="1.15" fill="#4f3f72"/>
<circle cx="475.7" cy="113.3" r="1.15" fill="#4f3f72"/>
<circle cx="496.6" cy="107.8" r="1.15" fill="#4f3f72"/>
<circle cx="463.1" cy="120.2" r="1.15" fill="#4f3f72"/>
<circle cx="439.1" cy="116.1" r="1.15" fill="#4f3f72"/>
<rect x="379.5" y="31.0" width="133.0" height="94.5" fill="none" stroke="#b0b0b0" stroke-width="1.4"/>
<line x1="377.5" y1="116.1" x2="379.5" y2="116.1" stroke="#555" stroke-width="0.7"/>
<text x="377.0" y="118.8" font-size="7.6" text-anchor="end" fill="#333" stroke="#333" stroke-width="0.12">&#8722;2</text>
<line x1="377.5" y1="88.6" x2="379.5" y2="88.6" stroke="#555" stroke-width="0.7"/>
<text x="377.0" y="91.3" font-size="7.6" text-anchor="end" fill="#333" stroke="#333" stroke-width="0.12">0</text>
<line x1="377.5" y1="61.1" x2="379.5" y2="61.1" stroke="#555" stroke-width="0.7"/>
<text x="377.0" y="63.8" font-size="7.6" text-anchor="end" fill="#333" stroke="#333" stroke-width="0.12">2</text>
<line x1="377.5" y1="33.6" x2="379.5" y2="33.6" stroke="#555" stroke-width="0.7"/>
<text x="377.0" y="36.3" font-size="7.6" text-anchor="end" fill="#333" stroke="#333" stroke-width="0.12">4</text>
<line x1="383.7" y1="125.5" x2="383.7" y2="127.5" stroke="#555" stroke-width="0.7"/>
<text x="383.7" y="134.5" font-size="7.6" text-anchor="middle" fill="#333" stroke="#333" stroke-width="0.12">4</text>
<line x1="425.5" y1="125.5" x2="425.5" y2="127.5" stroke="#555" stroke-width="0.7"/>
<text x="425.5" y="134.5" font-size="7.6" text-anchor="middle" fill="#333" stroke="#333" stroke-width="0.12">8</text>
<line x1="467.3" y1="125.5" x2="467.3" y2="127.5" stroke="#555" stroke-width="0.7"/>
<text x="467.3" y="134.5" font-size="7.6" text-anchor="middle" fill="#333" stroke="#333" stroke-width="0.12">12</text>
<line x1="509.1" y1="125.5" x2="509.1" y2="127.5" stroke="#555" stroke-width="0.7"/>
<text x="509.1" y="134.5" font-size="7.6" text-anchor="middle" fill="#333" stroke="#333" stroke-width="0.12">16</text>
<text x="446.8" y="142.6" font-size="8.8" text-anchor="middle" fill="#000" stroke="#000" stroke-width="0.12">AveExpr</text>
<line x1="383.0" y1="145.5" x2="502.0" y2="145.5" stroke="#444" stroke-width="0.6"/>
<path d="M504,145.5 l-4,-1.6 v3.2 z" stroke="none" stroke-width="0" fill="#444"/>
<text x="445.7" y="154.5" font-size="7.8" text-anchor="middle" fill="#000" stroke="#000" stroke-width="0.12">Absolute expression P+C</text>
<text x="370.2" y="79.5" font-size="8.6" text-anchor="middle" fill="#000" transform="rotate(-90 370.2 79.5)" stroke="#000" stroke-width="0.12">logFC</text>
<text x="354.5" y="58.3" font-size="7.9" text-anchor="middle" fill="#000" transform="rotate(-90 354.5 58.3)" stroke="#000" stroke-width="0.12">Increased</text>
<text x="364.2" y="58.3" font-size="7.9" text-anchor="middle" fill="#000" transform="rotate(-90 364.2 58.3)" stroke="#000" stroke-width="0.12">P+C</text>
<text x="354.5" y="114.5" font-size="7.7" text-anchor="middle" fill="#000" transform="rotate(-90 354.5 114.5)" stroke="#000" stroke-width="0.12">Decreased</text>
<text x="364.2" y="111.8" font-size="7.9" text-anchor="middle" fill="#000" transform="rotate(-90 364.2 111.8)" stroke="#000" stroke-width="0.12">P+C</text>
<line x1="345.6" y1="44.0" x2="345.6" y2="76.5" stroke="#444" stroke-width="0.6"/>
<line x1="345.6" y1="96.0" x2="345.6" y2="128.0" stroke="#444" stroke-width="0.6"/>
<path d="M345.6,41 l-1.6,4 h3.2 z" stroke="none" stroke-width="0" fill="#444"/>
<path d="M345.6,131 l-1.6,-4 h3.2 z" stroke="none" stroke-width="0" fill="#444"/>
<text x="483.0" y="6.6" font-size="7.4" text-anchor="start" fill="#000" stroke="#000" stroke-width="0.12"><tspan font-style="italic">P</tspan><tspan font-size="5" dy="1.8">adj</tspan><tspan dy="-1.8"> value</tspan></text>
<circle cx="487.2" cy="14.1" r="1.6" fill="#7552a3"/>
<text x="494.4" y="16.7" font-size="7.0" text-anchor="start" fill="#000" stroke="#000" stroke-width="0.12">&lt;0.05</text>
<circle cx="487.2" cy="21.5" r="1.6" fill="#535353"/>
<text x="494.4" y="24.1" font-size="7.0" text-anchor="start" fill="#000" stroke="#000" stroke-width="0.12">&gt;0.05</text>
<line x1="436.5" y1="36.5" x2="410.3" y2="37.0" stroke="#111" stroke-width="1.1"/>
<line x1="391.4" y1="44.8" x2="395.5" y2="50.0" stroke="#111" stroke-width="1.1"/>
<line x1="417.0" y1="46.2" x2="407.5" y2="52.0" stroke="#111" stroke-width="1.1"/>
<line x1="445.6" y1="48.0" x2="428.5" y2="54.0" stroke="#111" stroke-width="1.1"/>
<line x1="467.5" y1="48.8" x2="443.0" y2="65.0" stroke="#111" stroke-width="1.1"/>
<line x1="398.2" y1="57.6" x2="413.0" y2="64.0" stroke="#111" stroke-width="1.1"/>
<line x1="420.4" y1="57.6" x2="424.5" y2="65.0" stroke="#111" stroke-width="1.1"/>
<line x1="439.2" y1="58.0" x2="436.5" y2="65.0" stroke="#111" stroke-width="1.1"/>
<line x1="462.3" y1="59.8" x2="456.0" y2="66.0" stroke="#111" stroke-width="1.1"/>
<line x1="482.5" y1="62.4" x2="470.0" y2="71.0" stroke="#111" stroke-width="1.1"/>
<line x1="408.9" y1="68.4" x2="414.0" y2="69.0" stroke="#111" stroke-width="1.1"/>
<line x1="429.1" y1="69.7" x2="434.0" y2="77.0" stroke="#111" stroke-width="1.1"/>
<line x1="447.3" y1="70.5" x2="440.0" y2="76.0" stroke="#111" stroke-width="1.1"/>
<line x1="391.4" y1="75.1" x2="420.4" y2="67.7" stroke="#111" stroke-width="1.1"/>
<line x1="478.2" y1="76.2" x2="466.0" y2="80.0" stroke="#111" stroke-width="1.1"/>
<line x1="413.0" y1="84.5" x2="423.0" y2="74.5" stroke="#111" stroke-width="1.1"/>
<line x1="437.9" y1="83.2" x2="428.0" y2="73.0" stroke="#111" stroke-width="1.1"/>
<line x1="456.0" y1="81.1" x2="446.0" y2="84.0" stroke="#111" stroke-width="1.1"/>
<line x1="435.0" y1="94.4" x2="428.0" y2="88.0" stroke="#111" stroke-width="1.1"/>
<line x1="419.0" y1="107.0" x2="436.0" y2="100.0" stroke="#111" stroke-width="1.1"/>
<line x1="445.0" y1="105.0" x2="440.0" y2="101.0" stroke="#111" stroke-width="1.1"/>
<line x1="453.6" y1="118.6" x2="448.0" y2="112.0" stroke="#111" stroke-width="1.1"/>
<rect x="425.9" y="32.6" width="21.2" height="7.8" rx="1.2" fill="#fff" fill-opacity="0.85" stroke="#a08ac4" stroke-width="0.9"/>
<text x="436.5" y="38.9" font-size="6.6" text-anchor="middle" fill="#634a8c" stroke="#634a8c" stroke-width="0.3">Ccl24</text>
<rect x="380.8" y="40.9" width="21.2" height="7.8" rx="1.2" fill="#fff" fill-opacity="0.85" stroke="#a08ac4" stroke-width="0.9"/>
<text x="391.4" y="47.2" font-size="6.6" text-anchor="middle" fill="#634a8c" stroke="#634a8c" stroke-width="0.3">Cxcl3</text>
<rect x="406.4" y="42.3" width="21.2" height="7.8" rx="1.2" fill="#fff" fill-opacity="0.85" stroke="#a08ac4" stroke-width="0.9"/>
<text x="417.0" y="48.6" font-size="6.6" text-anchor="middle" fill="#634a8c" stroke="#634a8c" stroke-width="0.3">Ccl17</text>
<rect x="433.2" y="44.1" width="24.8" height="7.8" rx="1.2" fill="#fff" fill-opacity="0.85" stroke="#a08ac4" stroke-width="0.9"/>
<text x="445.6" y="50.4" font-size="6.6" text-anchor="middle" fill="#634a8c" stroke="#634a8c" stroke-width="0.3">Cxcl11</text>
<rect x="458.6" y="44.9" width="17.7" height="7.8" rx="1.2" fill="#fff" fill-opacity="0.85" stroke="#a08ac4" stroke-width="0.9"/>
<text x="467.5" y="51.2" font-size="6.6" text-anchor="middle" fill="#634a8c" stroke="#634a8c" stroke-width="0.3">Ccl9</text>
<rect x="387.6" y="53.7" width="21.2" height="7.8" rx="1.2" fill="#fff" fill-opacity="0.85" stroke="#a08ac4" stroke-width="0.9"/>
<text x="398.2" y="60.0" font-size="6.6" text-anchor="middle" fill="#634a8c" stroke="#634a8c" stroke-width="0.3">Ccl11</text>
<rect x="409.8" y="53.7" width="21.2" height="7.8" rx="1.2" fill="#fff" fill-opacity="0.85" stroke="#a08ac4" stroke-width="0.9"/>
<text x="420.4" y="60.0" font-size="6.6" text-anchor="middle" fill="#634a8c" stroke="#634a8c" stroke-width="0.3">Cxcl1</text>
<rect x="430.3" y="54.1" width="17.7" height="7.8" rx="1.2" fill="#fff" fill-opacity="0.85" stroke="#a08ac4" stroke-width="0.9"/>
<text x="439.2" y="60.4" font-size="6.6" text-anchor="middle" fill="#634a8c" stroke="#634a8c" stroke-width="0.3">Ccl1</text>
<rect x="453.4" y="55.9" width="17.7" height="7.8" rx="1.2" fill="#fff" fill-opacity="0.85" stroke="#a08ac4" stroke-width="0.9"/>
<text x="462.3" y="62.2" font-size="6.6" text-anchor="middle" fill="#634a8c" stroke="#634a8c" stroke-width="0.3">Ccl5</text>
<rect x="470.1" y="58.5" width="24.8" height="7.8" rx="1.2" fill="#fff" fill-opacity="0.85" stroke="#a08ac4" stroke-width="0.9"/>
<text x="482.5" y="64.8" font-size="6.6" text-anchor="middle" fill="#634a8c" stroke="#634a8c" stroke-width="0.3">Cxcl10</text>
<rect x="398.3" y="64.5" width="21.2" height="7.8" rx="1.2" fill="#fff" fill-opacity="0.85" stroke="#a08ac4" stroke-width="0.9"/>
<text x="408.9" y="70.8" font-size="6.6" text-anchor="middle" fill="#634a8c" stroke="#634a8c" stroke-width="0.3">Cxcl6</text>
<rect x="420.2" y="65.8" width="17.7" height="7.8" rx="1.2" fill="#fff" fill-opacity="0.85" stroke="#a08ac4" stroke-width="0.9"/>
<text x="429.1" y="72.1" font-size="6.6" text-anchor="middle" fill="#634a8c" stroke="#634a8c" stroke-width="0.3">Ccl6</text>
<rect x="436.7" y="66.6" width="21.2" height="7.8" rx="1.2" fill="#fff" fill-opacity="0.85" stroke="#a08ac4" stroke-width="0.9"/>
<text x="447.3" y="72.9" font-size="6.6" text-anchor="middle" fill="#634a8c" stroke="#634a8c" stroke-width="0.3">Cxcl2</text>
<rect x="380.8" y="71.2" width="21.2" height="7.8" rx="1.2" fill="#fff" fill-opacity="0.85" stroke="#a08ac4" stroke-width="0.9"/>
<text x="391.4" y="77.5" font-size="6.6" text-anchor="middle" fill="#634a8c" stroke="#634a8c" stroke-width="0.3">Ccl19</text>
<rect x="467.6" y="72.3" width="21.2" height="7.8" rx="1.2" fill="#fff" fill-opacity="0.85" stroke="#a08ac4" stroke-width="0.9"/>
<text x="478.2" y="78.6" font-size="6.6" text-anchor="middle" fill="#634a8c" stroke="#634a8c" stroke-width="0.3">Cxcl9</text>
<rect x="402.4" y="80.6" width="21.2" height="7.8" rx="1.2" fill="#fff" fill-opacity="0.85" stroke="#a08ac4" stroke-width="0.9"/>
<text x="413.0" y="86.9" font-size="6.6" text-anchor="middle" fill="#634a8c" stroke="#634a8c" stroke-width="0.3">Ccl22</text>
<rect x="429.0" y="79.3" width="17.7" height="7.8" rx="1.2" fill="#fff" fill-opacity="0.85" stroke="#a08ac4" stroke-width="0.9"/>
<text x="437.9" y="85.6" font-size="6.6" text-anchor="middle" fill="#634a8c" stroke="#634a8c" stroke-width="0.3">Ccl8</text>
<rect x="447.1" y="77.2" width="17.7" height="7.8" rx="1.2" fill="#fff" fill-opacity="0.85" stroke="#a08ac4" stroke-width="0.9"/>
<text x="456.0" y="83.5" font-size="6.6" text-anchor="middle" fill="#634a8c" stroke="#634a8c" stroke-width="0.3">Ccl3</text>
<rect x="426.1" y="90.5" width="17.7" height="7.8" rx="1.2" fill="#fff" fill-opacity="0.85" stroke="#a08ac4" stroke-width="0.9"/>
<text x="435.0" y="96.8" font-size="6.6" text-anchor="middle" fill="#634a8c" stroke="#634a8c" stroke-width="0.3">Ccl7</text>
<rect x="408.4" y="103.1" width="21.2" height="7.8" rx="1.2" fill="#fff" fill-opacity="0.85" stroke="#a08ac4" stroke-width="0.9"/>
<text x="419.0" y="109.4" font-size="6.6" text-anchor="middle" fill="#634a8c" stroke="#634a8c" stroke-width="0.3">Ccl12</text>
<rect x="432.6" y="101.1" width="24.8" height="7.8" rx="1.2" fill="#fff" fill-opacity="0.85" stroke="#a08ac4" stroke-width="0.9"/>
<text x="445.0" y="107.4" font-size="6.6" text-anchor="middle" fill="#634a8c" stroke="#634a8c" stroke-width="0.3">Cx3cl1</text>
<rect x="444.8" y="114.7" width="17.7" height="7.8" rx="1.2" fill="#fff" fill-opacity="0.85" stroke="#a08ac4" stroke-width="0.9"/>
<text x="453.6" y="121.0" font-size="6.6" text-anchor="middle" fill="#634a8c" stroke="#634a8c" stroke-width="0.3">Xcl1</text>
<text x="0.0" y="179.8" font-size="13.7" text-anchor="start" fill="#000" font-weight="bold">D</text>
<text x="78.5" y="193.5" font-size="10.4" text-anchor="middle" fill="#000" stroke="#000" stroke-width="0.12">Pooled data-Heatmap</text>
<rect x="47.6" y="205.2" width="21.1" height="9.7" fill="#ffffff" stroke="none" stroke-width="1"/>
<rect x="68.5" y="205.2" width="21.1" height="9.7" fill="#fdefef" stroke="none" stroke-width="1"/>
<text x="44.8" y="214.3" font-size="9.0" text-anchor="end" fill="#000" stroke="#000" stroke-width="0.12">CCL5</text>
<text x="90.8" y="215.3" font-size="9.5" text-anchor="start" fill="#000" stroke="#000" stroke-width="0.12">*</text>
<rect x="47.6" y="214.6" width="21.1" height="9.7" fill="#ffffff" stroke="none" stroke-width="1"/>
<rect x="68.5" y="214.6" width="21.1" height="9.7" fill="#fef8f8" stroke="none" stroke-width="1"/>
<text x="44.8" y="223.7" font-size="9.0" text-anchor="end" fill="#000" stroke="#000" stroke-width="0.12">CCL20</text>
<rect x="47.6" y="224.0" width="21.1" height="9.7" fill="#fcebea" stroke="none" stroke-width="1"/>
<rect x="68.5" y="224.0" width="21.1" height="9.7" fill="#f9cfcd" stroke="none" stroke-width="1"/>
<text x="44.8" y="233.1" font-size="9.0" text-anchor="end" fill="#000" stroke="#000" stroke-width="0.12">CCL11</text>
<text x="90.8" y="234.1" font-size="9.5" text-anchor="start" fill="#000" stroke="#000" stroke-width="0.12">**</text>
<rect x="47.6" y="233.4" width="21.1" height="9.7" fill="#fefafa" stroke="none" stroke-width="1"/>
<rect x="68.5" y="233.4" width="21.1" height="9.7" fill="#f9cac9" stroke="none" stroke-width="1"/>
<text x="44.8" y="242.5" font-size="9.0" text-anchor="end" fill="#000" stroke="#000" stroke-width="0.12">CCL17</text>
<text x="90.8" y="243.5" font-size="9.5" text-anchor="start" fill="#000" stroke="#000" stroke-width="0.12">**</text>
<rect x="47.6" y="242.8" width="21.1" height="9.7" fill="#e9352d" stroke="none" stroke-width="1"/>
<rect x="68.5" y="242.8" width="21.1" height="9.7" fill="#e9352d" stroke="none" stroke-width="1"/>
<text x="44.8" y="251.9" font-size="9.0" text-anchor="end" fill="#000" stroke="#000" stroke-width="0.12">CXCL1</text>
<rect x="47.6" y="252.2" width="21.1" height="9.7" fill="#fef8f8" stroke="none" stroke-width="1"/>
<rect x="68.5" y="252.2" width="21.1" height="9.7" fill="#fdf4f3" stroke="none" stroke-width="1"/>
<text x="44.8" y="261.3" font-size="9.0" text-anchor="end" fill="#000" stroke="#000" stroke-width="0.12">CCL2</text>
<rect x="47.6" y="261.6" width="21.1" height="9.7" fill="#f9cfcd" stroke="none" stroke-width="1"/>
<rect x="68.5" y="261.6" width="21.1" height="9.7" fill="#ea3b34" stroke="none" stroke-width="1"/>
<text x="44.8" y="270.7" font-size="9.0" text-anchor="end" fill="#000" stroke="#000" stroke-width="0.12">CXCL9</text>
<text x="90.8" y="271.7" font-size="9.5" text-anchor="start" fill="#000" stroke="#000" stroke-width="0.12">**</text>
<rect x="47.6" y="271.1" width="21.1" height="9.7" fill="#fdf4f3" stroke="none" stroke-width="1"/>
<rect x="68.5" y="271.1" width="21.1" height="9.7" fill="#f9cfcd" stroke="none" stroke-width="1"/>
<text x="44.8" y="280.2" font-size="9.0" text-anchor="end" fill="#000" stroke="#000" stroke-width="0.12">CXCL10</text>
<text x="90.8" y="281.2" font-size="9.5" text-anchor="start" fill="#000" stroke="#000" stroke-width="0.12">**</text>
<rect x="47.6" y="280.5" width="21.1" height="9.7" fill="#fefafa" stroke="none" stroke-width="1"/>
<rect x="68.5" y="280.5" width="21.1" height="9.7" fill="#fdf4f3" stroke="none" stroke-width="1"/>
<text x="44.8" y="289.6" font-size="9.0" text-anchor="end" fill="#000" stroke="#000" stroke-width="0.12">CCL3</text>
<rect x="47.6" y="289.9" width="21.1" height="9.7" fill="#fefafa" stroke="none" stroke-width="1"/>
<rect x="68.5" y="289.9" width="21.1" height="9.7" fill="#fdf4f3" stroke="none" stroke-width="1"/>
<text x="44.8" y="299.0" font-size="9.0" text-anchor="end" fill="#000" stroke="#000" stroke-width="0.12">CCL4</text>
<text x="90.8" y="300.0" font-size="9.5" text-anchor="start" fill="#000" stroke="#000" stroke-width="0.12">**</text>
<rect x="47.6" y="299.3" width="21.1" height="9.7" fill="#fef6f6" stroke="none" stroke-width="1"/>
<rect x="68.5" y="299.3" width="21.1" height="9.7" fill="#fdf1f1" stroke="none" stroke-width="1"/>
<text x="44.8" y="308.4" font-size="9.0" text-anchor="end" fill="#000" stroke="#000" stroke-width="0.12">CXCL13</text>
<rect x="47.6" y="308.7" width="21.1" height="9.7" fill="#fef8f8" stroke="none" stroke-width="1"/>
<rect x="68.5" y="308.7" width="21.1" height="9.7" fill="#fdf4f3" stroke="none" stroke-width="1"/>
<text x="44.8" y="317.8" font-size="9.0" text-anchor="end" fill="#000" stroke="#000" stroke-width="0.12">CXCL5</text>
<rect x="47.6" y="318.1" width="21.1" height="9.7" fill="#fce9e8" stroke="none" stroke-width="1"/>
<rect x="68.5" y="318.1" width="21.1" height="9.7" fill="#f39693" stroke="none" stroke-width="1"/>
<text x="44.8" y="327.2" font-size="9.0" text-anchor="end" fill="#000" stroke="#000" stroke-width="0.12">CCL22</text>
<text x="90.8" y="328.2" font-size="9.5" text-anchor="start" fill="#000" stroke="#000" stroke-width="0.12">**</text>
<rect x="47.6" y="205.2" width="41.7" height="122.3" fill="none" stroke="#000" stroke-width="1.6"/>
<defs><linearGradient id="cbar" x1="0" y1="1" x2="0" y2="0"><stop offset="0" stop-color="#ffffff"/><stop offset="1" stop-color="#e3282a"/></linearGradient></defs>
<rect x="102.5" y="204.8" width="7.0" height="123.5" fill="url(#cbar)" stroke="#000" stroke-width="1.3"/>
<line x1="109.5" y1="226.7" x2="111.3" y2="226.7" stroke="#000" stroke-width="0.8"/>
<text x="112.3" y="230.1" font-size="9.8" text-anchor="start" fill="#000" stroke="#000" stroke-width="0.12">1,500</text>
<line x1="109.5" y1="261.1" x2="111.3" y2="261.1" stroke="#000" stroke-width="0.8"/>
<text x="112.3" y="264.5" font-size="9.8" text-anchor="start" fill="#000" stroke="#000" stroke-width="0.12">1,000</text>
<line x1="109.5" y1="294.1" x2="111.3" y2="294.1" stroke="#000" stroke-width="0.8"/>
<text x="112.3" y="297.5" font-size="9.8" text-anchor="start" fill="#000" stroke="#000" stroke-width="0.12">500</text>
<text x="57.8" y="339.3" font-size="9.0" text-anchor="middle" fill="#000" stroke="#000" stroke-width="0.12">ISO</text>
<text x="79.6" y="339.3" font-size="9.0" text-anchor="middle" fill="#000" stroke="#000" stroke-width="0.12">P+C</text>
<text x="124.0" y="339.3" font-size="9.0" text-anchor="middle" fill="#000" stroke="#000" stroke-width="0.12">pg/mL</text>
<text x="262.7" y="192.5" font-size="10.4" text-anchor="middle" fill="#000" stroke="#000" stroke-width="0.12">Individual data points</text>
<line x1="185.0" y1="206.2" x2="346.5" y2="206.2" stroke="#444" stroke-width="1.2"/>
<line x1="346.5" y1="206.2" x2="346.5" y2="318.5" stroke="#444" stroke-width="1.2"/>
<line x1="185.0" y1="318.5" x2="346.5" y2="318.5" stroke="#444" stroke-width="1.2"/>
<line x1="185.0" y1="206.2" x2="185.0" y2="233.4" stroke="#555" stroke-width="1.2"/>
<line x1="185.0" y1="238.3" x2="185.0" y2="318.5" stroke="#555" stroke-width="1.2"/>
<line x1="183.0" y1="207.0" x2="185.0" y2="207.0" stroke="#222" stroke-width="0.8"/>
<text x="182.5" y="210.5" font-size="9.8" text-anchor="end" fill="#000" stroke="#000" stroke-width="0.12">15,000</text>
<line x1="183.0" y1="240.8" x2="185.0" y2="240.8" stroke="#222" stroke-width="0.8"/>
<text x="182.5" y="244.2" font-size="9.8" text-anchor="end" fill="#000" stroke="#000" stroke-width="0.12">5,000</text>
<line x1="183.0" y1="256.3" x2="185.0" y2="256.3" stroke="#222" stroke-width="0.8"/>
<text x="182.5" y="259.8" font-size="9.8" text-anchor="end" fill="#000" stroke="#000" stroke-width="0.12">4,000</text>
<line x1="183.0" y1="271.9" x2="185.0" y2="271.9" stroke="#222" stroke-width="0.8"/>
<text x="182.5" y="275.4" font-size="9.8" text-anchor="end" fill="#000" stroke="#000" stroke-width="0.12">3,000</text>
<line x1="183.0" y1="287.4" x2="185.0" y2="287.4" stroke="#222" stroke-width="0.8"/>
<text x="182.5" y="290.9" font-size="9.8" text-anchor="end" fill="#000" stroke="#000" stroke-width="0.12">2,000</text>
<line x1="183.0" y1="302.9" x2="185.0" y2="302.9" stroke="#222" stroke-width="0.8"/>
<text x="182.5" y="306.4" font-size="9.8" text-anchor="end" fill="#000" stroke="#000" stroke-width="0.12">1,000</text>
<line x1="183.0" y1="318.5" x2="185.0" y2="318.5" stroke="#222" stroke-width="0.8"/>
<text x="182.5" y="322.0" font-size="9.8" text-anchor="end" fill="#000" stroke="#000" stroke-width="0.12">0</text>
<text x="149.5" y="264.0" font-size="8.7" text-anchor="middle" fill="#000" transform="rotate(-90 149.5 264)" stroke="#000" stroke-width="0.12">pg/mL</text>
<rect x="186.4" y="316.4" width="3.4" height="2.1" rx="1.6" fill="#000"/>
<rect x="191.0" y="316.2" width="3.4" height="2.3" fill="#e3262a" stroke="none" stroke-width="1"/>
<circle cx="188.1" cy="318.5" r="1.7" fill="#000"/>
<rect x="191.1" y="299.8" width="3.2" height="3.2" fill="#e3262a" stroke="none" stroke-width="1"/>
<rect x="191.1" y="308.0" width="3.2" height="3.2" fill="#e3262a" stroke="none" stroke-width="1"/>
<rect x="191.1" y="313.0" width="3.2" height="3.2" fill="#e3262a" stroke="none" stroke-width="1"/>
<text x="192.5" y="324.2" font-size="10.4" text-anchor="end" fill="#000" transform="rotate(-90 192.5 324.2)" stroke="#000" stroke-width="0.12">CCL5</text>
<rect x="198.9" y="309.5" width="3.4" height="9.0" rx="1.6" fill="#000"/>
<rect x="203.5" y="309.6" width="3.4" height="8.9" fill="#e3262a" stroke="none" stroke-width="1"/>
<text x="205.0" y="324.2" font-size="10.4" text-anchor="end" fill="#000" transform="rotate(-90 204.96 324.2)" stroke="#000" stroke-width="0.12">CCL20</text>
<rect x="211.3" y="309.5" width="3.4" height="9.0" rx="1.6" fill="#000"/>
<rect x="215.9" y="305.3" width="3.4" height="13.2" fill="#e3262a" stroke="none" stroke-width="1"/>
<rect x="216.0" y="292.8" width="3.2" height="3.2" fill="#e3262a" stroke="none" stroke-width="1"/>
<text x="217.4" y="324.2" font-size="10.4" text-anchor="end" fill="#000" transform="rotate(-90 217.42 324.2)" stroke="#000" stroke-width="0.12">CCL11</text>
<rect x="228.4" y="303.7" width="3.4" height="14.8" fill="#e3262a" stroke="none" stroke-width="1"/>
<circle cx="225.5" cy="318.5" r="1.7" fill="#000"/>
<rect x="228.5" y="299.8" width="3.2" height="3.2" fill="#e3262a" stroke="none" stroke-width="1"/>
<rect x="228.5" y="268.7" width="3.2" height="3.2" fill="#e3262a" stroke="none" stroke-width="1"/>
<text x="229.9" y="324.2" font-size="10.4" text-anchor="end" fill="#000" transform="rotate(-90 229.88 324.2)" stroke="#000" stroke-width="0.12">CCL17</text>
<rect x="240.8" y="302.9" width="3.4" height="15.6" fill="#e3262a" stroke="none" stroke-width="1"/>
<circle cx="237.9" cy="280.1" r="1.7" fill="#000"/>
<circle cx="237.9" cy="287.4" r="1.7" fill="#000"/>
<circle cx="237.9" cy="302.5" r="1.7" fill="#000"/>
<circle cx="237.9" cy="303.7" r="1.7" fill="#000"/>
<circle cx="237.9" cy="309.2" r="1.7" fill="#000"/>
<circle cx="237.9" cy="315.4" r="1.7" fill="#000"/>
<circle cx="237.9" cy="317.7" r="1.7" fill="#000"/>
<circle cx="237.9" cy="264.2" r="1.7" fill="#000"/>
<rect x="240.9" y="265.0" width="3.2" height="3.2" fill="#e3262a" stroke="none" stroke-width="1"/>
<rect x="240.9" y="269.6" width="3.2" height="3.2" fill="#e3262a" stroke="none" stroke-width="1"/>
<rect x="240.9" y="246.9" width="3.2" height="3.2" fill="#e3262a" stroke="none" stroke-width="1"/>
<line x1="237.9" y1="279.6" x2="237.9" y2="318.5" stroke="#222" stroke-width="0.6"/>
<line x1="236.4" y1="290.5" x2="239.4" y2="290.5" stroke="#222" stroke-width="0.6"/>
<line x1="242.5" y1="281.5" x2="242.5" y2="299.1" stroke="#c33" stroke-width="0.6"/>
<line x1="241.0" y1="289.7" x2="244.0" y2="289.7" stroke="#c33" stroke-width="0.6"/>
<line x1="241.3" y1="281.5" x2="243.7" y2="281.5" stroke="#c33" stroke-width="0.6"/>
<line x1="241.3" y1="299.1" x2="243.7" y2="299.1" stroke="#c33" stroke-width="0.6"/>
<text x="242.3" y="324.2" font-size="10.4" text-anchor="end" fill="#000" transform="rotate(-90 242.34 324.2)" stroke="#000" stroke-width="0.12">CXCL1</text>
<rect x="248.7" y="312.6" width="3.4" height="5.9" rx="1.6" fill="#000"/>
<rect x="253.3" y="311.8" width="3.4" height="6.7" fill="#e3262a" stroke="none" stroke-width="1"/>
<rect x="253.4" y="293.6" width="3.2" height="3.2" fill="#e3262a" stroke="none" stroke-width="1"/>
<text x="254.8" y="324.2" font-size="10.4" text-anchor="end" fill="#000" transform="rotate(-90 254.8 324.2)" stroke="#000" stroke-width="0.12">CCL2</text>
<rect x="261.2" y="304.1" width="3.4" height="14.4" rx="1.6" fill="#000"/>
<rect x="265.8" y="290.8" width="3.4" height="27.7" fill="#e3262a" stroke="none" stroke-width="1"/>
<circle cx="262.9" cy="301.6" r="1.7" fill="#000"/>
<rect x="265.9" y="242.3" width="3.2" height="3.2" fill="#e3262a" stroke="none" stroke-width="1"/>
<rect x="265.9" y="246.9" width="3.2" height="3.2" fill="#e3262a" stroke="none" stroke-width="1"/>
<rect x="265.9" y="269.6" width="3.2" height="3.2" fill="#e3262a" stroke="none" stroke-width="1"/>
<rect x="265.9" y="273.0" width="3.2" height="3.2" fill="#e3262a" stroke="none" stroke-width="1"/>
<rect x="265.9" y="284.6" width="3.2" height="3.2" fill="#e3262a" stroke="none" stroke-width="1"/>
<text x="267.3" y="324.2" font-size="10.4" text-anchor="end" fill="#000" transform="rotate(-90 267.26000000000005 324.2)" stroke="#000" stroke-width="0.12">CXCL9</text>
<rect x="273.6" y="311.5" width="3.4" height="7.0" rx="1.6" fill="#000"/>
<rect x="278.2" y="301.2" width="3.4" height="17.3" fill="#e3262a" stroke="none" stroke-width="1"/>
<rect x="278.3" y="293.1" width="3.2" height="3.2" fill="#e3262a" stroke="none" stroke-width="1"/>
<text x="279.7" y="324.2" font-size="10.4" text-anchor="end" fill="#000" transform="rotate(-90 279.72 324.2)" stroke="#000" stroke-width="0.12">CXCL10</text>
<rect x="286.1" y="313.8" width="3.4" height="4.7" rx="1.6" fill="#000"/>
<rect x="290.7" y="310.9" width="3.4" height="7.6" fill="#e3262a" stroke="none" stroke-width="1"/>
<rect x="290.8" y="305.2" width="3.2" height="3.2" fill="#e3262a" stroke="none" stroke-width="1"/>
<text x="292.2" y="324.2" font-size="10.4" text-anchor="end" fill="#000" transform="rotate(-90 292.18000000000006 324.2)" stroke="#000" stroke-width="0.12">CCL3</text>
<rect x="303.1" y="313.8" width="3.4" height="4.7" fill="#e3262a" stroke="none" stroke-width="1"/>
<circle cx="300.2" cy="316.9" r="1.7" fill="#000"/>
<text x="304.6" y="324.2" font-size="10.4" text-anchor="end" fill="#000" transform="rotate(-90 304.64000000000004 324.2)" stroke="#000" stroke-width="0.12">CCL4</text>
<rect x="311.0" y="313.3" width="3.4" height="5.2" rx="1.6" fill="#000"/>
<rect x="315.6" y="310.9" width="3.4" height="7.6" fill="#e3262a" stroke="none" stroke-width="1"/>
<circle cx="312.7" cy="308.1" r="1.7" fill="#000"/>
<rect x="315.7" y="301.2" width="3.2" height="3.2" fill="#e3262a" stroke="none" stroke-width="1"/>
<text x="317.1" y="324.2" font-size="10.4" text-anchor="end" fill="#000" transform="rotate(-90 317.1 324.2)" stroke="#000" stroke-width="0.12">CXCL13</text>
<rect x="323.5" y="313.3" width="3.4" height="5.2" rx="1.6" fill="#000"/>
<rect x="328.1" y="313.8" width="3.4" height="4.7" fill="#e3262a" stroke="none" stroke-width="1"/>
<text x="329.6" y="324.2" font-size="10.4" text-anchor="end" fill="#000" transform="rotate(-90 329.56000000000006 324.2)" stroke="#000" stroke-width="0.12">CXCL5</text>
<rect x="335.9" y="312.0" width="3.4" height="6.5" rx="1.6" fill="#000"/>
<rect x="340.5" y="303.6" width="3.4" height="14.9" fill="#e3262a" stroke="none" stroke-width="1"/>
<rect x="340.6" y="280.7" width="3.2" height="3.2" fill="#e3262a" stroke="none" stroke-width="1"/>
<rect x="340.6" y="289.2" width="3.2" height="3.2" fill="#e3262a" stroke="none" stroke-width="1"/>
<rect x="340.6" y="295.0" width="3.2" height="3.2" fill="#e3262a" stroke="none" stroke-width="1"/>
<rect x="340.6" y="298.4" width="3.2" height="3.2" fill="#e3262a" stroke="none" stroke-width="1"/>
<text x="342.0" y="324.2" font-size="10.4" text-anchor="end" fill="#000" transform="rotate(-90 342.02000000000004 324.2)" stroke="#000" stroke-width="0.12">CCL22</text>
<circle cx="237.6" cy="216.9" r="1.7" fill="#000"/>
<circle cx="237.6" cy="223.4" r="1.7" fill="#000"/>
<rect x="240.8" y="227.4" width="3.2" height="3.2" fill="#e3262a" stroke="none" stroke-width="1"/>
<rect x="240.8" y="230.6" width="3.2" height="3.2" fill="#e3262a" stroke="none" stroke-width="1"/>
<circle cx="307.4" cy="216.9" r="1.7" fill="#000"/>
<text x="311.5" y="220.6" font-size="10.4" text-anchor="start" fill="#000" stroke="#000" stroke-width="0.12">ISO</text>
<rect x="305.9" y="224.7" width="3.0" height="3.0" fill="#e3262a" stroke="none" stroke-width="1"/>
<text x="311.5" y="229.9" font-size="10.4" text-anchor="start" fill="#000" stroke="#000" stroke-width="0.12">P+C</text>
<text x="353.0" y="179.8" font-size="13.7" text-anchor="start" fill="#000" font-weight="bold">E</text>
<text x="435.0" y="181.5" font-size="7.9" text-anchor="middle" fill="#000" stroke="#000" stroke-width="0.12">Responders vs. nonresponders</text>
<text x="438.4" y="190.3" font-size="7.9" text-anchor="middle" fill="#000" stroke="#000" stroke-width="0.12">Differential gene expression</text>
<text x="438.8" y="199.5" font-size="7.9" text-anchor="middle" fill="#000" stroke="#000" stroke-width="0.12">Baseline</text>
<rect x="380.8" y="203.0" width="117.1" height="120.3" fill="#fff" stroke="none" stroke-width="1"/>
<line x1="390.9" y1="203.0" x2="390.9" y2="323.3" stroke="#f3f3f3" stroke-width="0.5"/>
<line x1="423.4" y1="203.0" x2="423.4" y2="323.3" stroke="#f3f3f3" stroke-width="0.5"/>
<line x1="455.9" y1="203.0" x2="455.9" y2="323.3" stroke="#f3f3f3" stroke-width="0.5"/>
<line x1="488.4" y1="203.0" x2="488.4" y2="323.3" stroke="#f3f3f3" stroke-width="0.5"/>
<line x1="380.8" y1="309.8" x2="497.9" y2="309.8" stroke="#f3f3f3" stroke-width="0.5"/>
<line x1="380.8" y1="280.1" x2="497.9" y2="280.1" stroke="#f3f3f3" stroke-width="0.5"/>
<line x1="380.8" y1="250.4" x2="497.9" y2="250.4" stroke="#f3f3f3" stroke-width="0.5"/>
<line x1="380.8" y1="220.8" x2="497.9" y2="220.8" stroke="#f3f3f3" stroke-width="0.5"/>
<line x1="407.1" y1="203.0" x2="407.1" y2="323.3" stroke="#e6e6e6" stroke-width="0.7"/>
<line x1="439.6" y1="203.0" x2="439.6" y2="323.3" stroke="#e6e6e6" stroke-width="0.7"/>
<line x1="472.1" y1="203.0" x2="472.1" y2="323.3" stroke="#e6e6e6" stroke-width="0.7"/>
<line x1="380.8" y1="295.0" x2="497.9" y2="295.0" stroke="#e6e6e6" stroke-width="0.7"/>
<line x1="380.8" y1="265.3" x2="497.9" y2="265.3" stroke="#e6e6e6" stroke-width="0.7"/>
<line x1="380.8" y1="235.6" x2="497.9" y2="235.6" stroke="#e6e6e6" stroke-width="0.7"/>
<line x1="380.8" y1="205.9" x2="497.9" y2="205.9" stroke="#e6e6e6" stroke-width="0.7"/>
<circle cx="478.6" cy="317.8" r="0.95" fill="#5c5c5c"/>
<circle cx="471.4" cy="318.0" r="0.95" fill="#5c5c5c"/>
<circle cx="467.7" cy="316.5" r="0.95" fill="#5c5c5c"/>
<circle cx="476.9" cy="318.0" r="0.95" fill="#5c5c5c"/>
<circle cx="464.2" cy="316.4" r="0.95" fill="#5c5c5c"/>
<circle cx="479.2" cy="314.1" r="0.95" fill="#5c5c5c"/>
<circle cx="466.9" cy="317.3" r="0.95" fill="#5c5c5c"/>
<circle cx="451.1" cy="317.1" r="0.95" fill="#5c5c5c"/>
<circle cx="458.7" cy="317.2" r="0.95" fill="#5c5c5c"/>
<circle cx="449.0" cy="314.9" r="0.95" fill="#5c5c5c"/>
<circle cx="467.6" cy="316.9" r="0.95" fill="#5c5c5c"/>
<circle cx="482.4" cy="317.3" r="0.95" fill="#5c5c5c"/>
<circle cx="464.5" cy="317.6" r="0.95" fill="#5c5c5c"/>
<circle cx="476.9" cy="314.4" r="0.95" fill="#5c5c5c"/>
<circle cx="451.7" cy="314.9" r="0.95" fill="#5c5c5c"/>
<circle cx="475.2" cy="317.0" r="0.95" fill="#5c5c5c"/>
<circle cx="454.4" cy="316.1" r="0.95" fill="#5c5c5c"/>
<circle cx="478.1" cy="317.5" r="0.95" fill="#5c5c5c"/>
<circle cx="469.3" cy="315.6" r="0.95" fill="#5c5c5c"/>
<circle cx="459.6" cy="315.7" r="0.95" fill="#5c5c5c"/>
<circle cx="477.7" cy="317.3" r="0.95" fill="#5c5c5c"/>
<circle cx="477.7" cy="316.7" r="0.95" fill="#5c5c5c"/>
<circle cx="473.4" cy="314.4" r="0.95" fill="#5c5c5c"/>
<circle cx="448.1" cy="314.4" r="0.95" fill="#5c5c5c"/>
<circle cx="482.4" cy="316.9" r="0.95" fill="#5c5c5c"/>
<circle cx="441.4" cy="317.8" r="0.95" fill="#5c5c5c"/>
<circle cx="481.6" cy="318.2" r="0.95" fill="#5c5c5c"/>
<circle cx="478.9" cy="317.6" r="0.95" fill="#5c5c5c"/>
<circle cx="471.5" cy="317.8" r="0.95" fill="#5c5c5c"/>
<circle cx="447.5" cy="315.2" r="0.95" fill="#5c5c5c"/>
<circle cx="444.2" cy="316.8" r="0.95" fill="#5c5c5c"/>
<circle cx="479.2" cy="315.1" r="0.95" fill="#5c5c5c"/>
<circle cx="477.7" cy="313.9" r="0.95" fill="#5c5c5c"/>
<circle cx="441.8" cy="317.2" r="0.95" fill="#5c5c5c"/>
<circle cx="473.9" cy="315.2" r="0.95" fill="#5c5c5c"/>
<circle cx="442.0" cy="316.0" r="0.95" fill="#5c5c5c"/>
<circle cx="450.2" cy="316.3" r="0.95" fill="#5c5c5c"/>
<circle cx="444.8" cy="318.2" r="0.95" fill="#5c5c5c"/>
<circle cx="482.3" cy="316.9" r="0.95" fill="#5c5c5c"/>
<circle cx="477.5" cy="317.7" r="0.95" fill="#5c5c5c"/>
<circle cx="461.0" cy="317.7" r="0.95" fill="#5c5c5c"/>
<circle cx="458.5" cy="317.5" r="0.95" fill="#5c5c5c"/>
<circle cx="469.4" cy="317.6" r="0.95" fill="#5c5c5c"/>
<circle cx="471.6" cy="316.0" r="0.95" fill="#5c5c5c"/>
<circle cx="445.2" cy="316.7" r="0.95" fill="#5c5c5c"/>
<circle cx="461.4" cy="314.2" r="0.95" fill="#5c5c5c"/>
<circle cx="455.2" cy="317.3" r="0.95" fill="#5c5c5c"/>
<circle cx="481.3" cy="314.3" r="0.95" fill="#5c5c5c"/>
<circle cx="471.3" cy="317.0" r="0.95" fill="#5c5c5c"/>
<circle cx="447.9" cy="317.1" r="0.95" fill="#5c5c5c"/>
<circle cx="443.3" cy="318.1" r="0.95" fill="#5c5c5c"/>
<circle cx="461.9" cy="316.4" r="0.95" fill="#5c5c5c"/>
<circle cx="463.9" cy="316.6" r="0.95" fill="#5c5c5c"/>
<circle cx="440.9" cy="315.2" r="0.95" fill="#5c5c5c"/>
<circle cx="468.0" cy="315.8" r="0.95" fill="#5c5c5c"/>
<circle cx="463.6" cy="315.2" r="0.95" fill="#5c5c5c"/>
<circle cx="481.9" cy="314.4" r="0.95" fill="#5c5c5c"/>
<circle cx="470.7" cy="316.5" r="0.95" fill="#5c5c5c"/>
<circle cx="453.9" cy="316.4" r="0.95" fill="#5c5c5c"/>
<circle cx="481.5" cy="316.5" r="0.95" fill="#5c5c5c"/>
<circle cx="456.7" cy="316.4" r="0.95" fill="#5c5c5c"/>
<circle cx="446.5" cy="313.8" r="0.95" fill="#5c5c5c"/>
<circle cx="440.6" cy="315.6" r="0.95" fill="#5c5c5c"/>
<circle cx="479.5" cy="317.1" r="0.95" fill="#5c5c5c"/>
<circle cx="466.2" cy="316.6" r="0.95" fill="#5c5c5c"/>
<circle cx="450.6" cy="317.4" r="0.95" fill="#5c5c5c"/>
<circle cx="445.3" cy="314.5" r="0.95" fill="#5c5c5c"/>
<circle cx="473.5" cy="314.2" r="0.95" fill="#5c5c5c"/>
<circle cx="442.5" cy="315.2" r="0.95" fill="#5c5c5c"/>
<circle cx="454.1" cy="315.4" r="0.95" fill="#5c5c5c"/>
<circle cx="463.6" cy="316.9" r="0.95" fill="#5c5c5c"/>
<circle cx="481.5" cy="318.3" r="0.95" fill="#5c5c5c"/>
<circle cx="471.9" cy="314.5" r="0.95" fill="#5c5c5c"/>
<circle cx="462.0" cy="315.6" r="0.95" fill="#5c5c5c"/>
<circle cx="482.4" cy="317.2" r="0.95" fill="#5c5c5c"/>
<circle cx="467.0" cy="315.0" r="0.95" fill="#5c5c5c"/>
<circle cx="456.4" cy="315.1" r="0.95" fill="#5c5c5c"/>
<circle cx="457.0" cy="315.9" r="0.95" fill="#5c5c5c"/>
<circle cx="466.3" cy="315.2" r="0.95" fill="#5c5c5c"/>
<circle cx="454.0" cy="315.5" r="0.95" fill="#5c5c5c"/>
<circle cx="463.4" cy="317.3" r="0.95" fill="#5c5c5c"/>
<circle cx="466.3" cy="317.1" r="0.95" fill="#5c5c5c"/>
<circle cx="478.8" cy="316.2" r="0.95" fill="#5c5c5c"/>
<circle cx="470.9" cy="315.9" r="0.95" fill="#5c5c5c"/>
<circle cx="460.5" cy="317.3" r="0.95" fill="#5c5c5c"/>
<circle cx="446.4" cy="314.1" r="0.95" fill="#5c5c5c"/>
<circle cx="462.8" cy="315.9" r="0.95" fill="#5c5c5c"/>
<circle cx="462.7" cy="314.6" r="0.95" fill="#5c5c5c"/>
<circle cx="450.5" cy="317.5" r="0.95" fill="#5c5c5c"/>
<circle cx="475.1" cy="316.2" r="0.95" fill="#5c5c5c"/>
<circle cx="467.5" cy="314.6" r="0.95" fill="#5c5c5c"/>
<circle cx="478.2" cy="314.4" r="0.95" fill="#5c5c5c"/>
<circle cx="442.2" cy="316.6" r="0.95" fill="#5c5c5c"/>
<circle cx="475.6" cy="314.6" r="0.95" fill="#5c5c5c"/>
<circle cx="445.6" cy="317.6" r="0.95" fill="#5c5c5c"/>
<circle cx="451.0" cy="317.8" r="0.95" fill="#5c5c5c"/>
<circle cx="455.5" cy="314.7" r="0.95" fill="#5c5c5c"/>
<circle cx="462.4" cy="316.2" r="0.95" fill="#5c5c5c"/>
<circle cx="444.1" cy="316.5" r="0.95" fill="#5c5c5c"/>
<circle cx="482.5" cy="315.2" r="0.95" fill="#5c5c5c"/>
<circle cx="459.4" cy="316.1" r="0.95" fill="#5c5c5c"/>
<circle cx="474.1" cy="314.9" r="0.95" fill="#5c5c5c"/>
<circle cx="446.7" cy="315.2" r="0.95" fill="#5c5c5c"/>
<circle cx="455.9" cy="315.9" r="0.95" fill="#5c5c5c"/>
<circle cx="450.5" cy="316.6" r="0.95" fill="#5c5c5c"/>
<circle cx="454.8" cy="316.6" r="0.95" fill="#5c5c5c"/>
<circle cx="441.2" cy="317.4" r="0.95" fill="#5c5c5c"/>
<circle cx="464.5" cy="318.0" r="0.95" fill="#5c5c5c"/>
<circle cx="448.0" cy="315.1" r="0.95" fill="#5c5c5c"/>
<circle cx="452.0" cy="316.8" r="0.95" fill="#5c5c5c"/>
<circle cx="450.6" cy="314.5" r="0.95" fill="#5c5c5c"/>
<circle cx="444.3" cy="315.4" r="0.95" fill="#5c5c5c"/>
<circle cx="476.7" cy="317.4" r="0.95" fill="#5c5c5c"/>
<circle cx="458.3" cy="314.7" r="0.95" fill="#5c5c5c"/>
<circle cx="466.5" cy="316.6" r="0.95" fill="#5c5c5c"/>
<circle cx="442.3" cy="316.3" r="0.95" fill="#5c5c5c"/>
<circle cx="455.9" cy="315.1" r="0.95" fill="#5c5c5c"/>
<circle cx="452.9" cy="316.4" r="0.95" fill="#5c5c5c"/>
<circle cx="467.8" cy="314.7" r="0.95" fill="#5c5c5c"/>
<circle cx="455.3" cy="316.5" r="0.95" fill="#5c5c5c"/>
<circle cx="464.9" cy="314.1" r="0.95" fill="#5c5c5c"/>
<circle cx="448.5" cy="313.9" r="0.95" fill="#5c5c5c"/>
<circle cx="470.5" cy="316.6" r="0.95" fill="#5c5c5c"/>
<circle cx="468.5" cy="316.8" r="0.95" fill="#5c5c5c"/>
<circle cx="443.4" cy="314.9" r="0.95" fill="#5c5c5c"/>
<circle cx="456.4" cy="315.9" r="0.95" fill="#5c5c5c"/>
<circle cx="461.4" cy="314.2" r="0.95" fill="#5c5c5c"/>
<circle cx="472.4" cy="318.2" r="0.95" fill="#5c5c5c"/>
<circle cx="465.5" cy="316.2" r="0.95" fill="#5c5c5c"/>
<circle cx="459.9" cy="314.5" r="0.95" fill="#5c5c5c"/>
<circle cx="457.9" cy="316.2" r="0.95" fill="#5c5c5c"/>
<circle cx="478.0" cy="316.3" r="0.95" fill="#5c5c5c"/>
<circle cx="461.2" cy="316.0" r="0.95" fill="#5c5c5c"/>
<circle cx="475.3" cy="315.3" r="0.95" fill="#5c5c5c"/>
<circle cx="471.7" cy="316.5" r="0.95" fill="#5c5c5c"/>
<circle cx="442.1" cy="315.2" r="0.95" fill="#5c5c5c"/>
<circle cx="463.8" cy="314.8" r="0.95" fill="#5c5c5c"/>
<circle cx="472.9" cy="317.7" r="0.95" fill="#5c5c5c"/>
<circle cx="449.7" cy="317.9" r="0.95" fill="#5c5c5c"/>
<circle cx="475.0" cy="317.8" r="0.95" fill="#5c5c5c"/>
<circle cx="444.1" cy="314.9" r="0.95" fill="#5c5c5c"/>
<circle cx="464.3" cy="318.0" r="0.95" fill="#5c5c5c"/>
<circle cx="469.2" cy="315.1" r="0.95" fill="#5c5c5c"/>
<circle cx="460.8" cy="318.0" r="0.95" fill="#5c5c5c"/>
<circle cx="469.6" cy="316.4" r="0.95" fill="#5c5c5c"/>
<circle cx="465.1" cy="313.8" r="0.95" fill="#5c5c5c"/>
<circle cx="474.9" cy="314.4" r="0.95" fill="#5c5c5c"/>
<circle cx="446.6" cy="316.8" r="0.95" fill="#5c5c5c"/>
<circle cx="462.3" cy="318.2" r="0.95" fill="#5c5c5c"/>
<circle cx="482.2" cy="317.0" r="0.95" fill="#5c5c5c"/>
<circle cx="451.5" cy="316.9" r="0.95" fill="#5c5c5c"/>
<circle cx="451.2" cy="314.4" r="0.95" fill="#5c5c5c"/>
<circle cx="463.9" cy="316.0" r="0.95" fill="#5c5c5c"/>
<circle cx="458.2" cy="318.0" r="0.95" fill="#5c5c5c"/>
<circle cx="453.3" cy="314.4" r="0.95" fill="#5c5c5c"/>
<circle cx="474.3" cy="314.4" r="0.95" fill="#5c5c5c"/>
<circle cx="451.3" cy="317.4" r="0.95" fill="#5c5c5c"/>
<circle cx="442.6" cy="315.9" r="0.95" fill="#5c5c5c"/>
<circle cx="456.2" cy="316.2" r="0.95" fill="#5c5c5c"/>
<circle cx="461.1" cy="315.7" r="0.95" fill="#5c5c5c"/>
<circle cx="455.9" cy="314.7" r="0.95" fill="#5c5c5c"/>
<circle cx="448.9" cy="314.2" r="0.95" fill="#5c5c5c"/>
<circle cx="463.9" cy="318.0" r="0.95" fill="#5c5c5c"/>
<circle cx="453.7" cy="315.9" r="0.95" fill="#5c5c5c"/>
<circle cx="457.7" cy="315.7" r="0.95" fill="#5c5c5c"/>
<circle cx="454.1" cy="317.0" r="0.95" fill="#5c5c5c"/>
<circle cx="474.0" cy="317.0" r="0.95" fill="#5c5c5c"/>
<circle cx="470.4" cy="314.7" r="0.95" fill="#5c5c5c"/>
<circle cx="465.4" cy="316.2" r="0.95" fill="#5c5c5c"/>
<circle cx="479.9" cy="316.3" r="0.95" fill="#5c5c5c"/>
<circle cx="477.5" cy="318.0" r="0.95" fill="#5c5c5c"/>
<circle cx="458.7" cy="315.4" r="0.95" fill="#5c5c5c"/>
<circle cx="442.5" cy="314.4" r="0.95" fill="#5c5c5c"/>
<circle cx="443.5" cy="315.6" r="0.95" fill="#5c5c5c"/>
<circle cx="448.0" cy="314.2" r="0.95" fill="#5c5c5c"/>
<circle cx="464.1" cy="314.7" r="0.95" fill="#5c5c5c"/>
<circle cx="461.5" cy="315.3" r="0.95" fill="#5c5c5c"/>
<circle cx="468.9" cy="317.0" r="0.95" fill="#5c5c5c"/>
<circle cx="449.3" cy="314.5" r="0.95" fill="#5c5c5c"/>
<circle cx="446.6" cy="314.2" r="0.95" fill="#5c5c5c"/>
<circle cx="449.2" cy="317.8" r="0.95" fill="#5c5c5c"/>
<circle cx="444.4" cy="314.8" r="0.95" fill="#5c5c5c"/>
<circle cx="480.6" cy="316.4" r="0.95" fill="#5c5c5c"/>
<circle cx="468.3" cy="317.1" r="0.95" fill="#5c5c5c"/>
<circle cx="478.7" cy="315.2" r="0.95" fill="#5c5c5c"/>
<circle cx="447.0" cy="318.0" r="0.95" fill="#5c5c5c"/>
<circle cx="469.8" cy="318.1" r="0.95" fill="#5c5c5c"/>
<circle cx="475.7" cy="317.0" r="0.95" fill="#5c5c5c"/>
<circle cx="450.2" cy="315.7" r="0.95" fill="#5c5c5c"/>
<circle cx="453.9" cy="315.8" r="0.95" fill="#5c5c5c"/>
<circle cx="446.9" cy="314.2" r="0.95" fill="#5c5c5c"/>
<circle cx="454.1" cy="314.5" r="0.95" fill="#5c5c5c"/>
<circle cx="446.8" cy="314.7" r="0.95" fill="#5c5c5c"/>
<circle cx="481.8" cy="316.5" r="0.95" fill="#5c5c5c"/>
<circle cx="441.8" cy="316.6" r="0.95" fill="#5c5c5c"/>
<circle cx="467.5" cy="317.3" r="0.95" fill="#5c5c5c"/>
<circle cx="463.5" cy="317.8" r="0.95" fill="#5c5c5c"/>
<circle cx="460.0" cy="315.0" r="0.95" fill="#5c5c5c"/>
<circle cx="458.6" cy="315.2" r="0.95" fill="#5c5c5c"/>
<circle cx="445.2" cy="314.6" r="0.95" fill="#5c5c5c"/>
<circle cx="445.6" cy="314.2" r="0.95" fill="#5c5c5c"/>
<circle cx="482.5" cy="314.1" r="0.95" fill="#5c5c5c"/>
<circle cx="462.7" cy="317.0" r="0.95" fill="#5c5c5c"/>
<circle cx="455.1" cy="314.9" r="0.95" fill="#5c5c5c"/>
<circle cx="461.4" cy="314.1" r="0.95" fill="#5c5c5c"/>
<circle cx="444.3" cy="316.1" r="0.95" fill="#5c5c5c"/>
<circle cx="476.9" cy="315.6" r="0.95" fill="#5c5c5c"/>
<circle cx="463.3" cy="317.9" r="0.95" fill="#5c5c5c"/>
<circle cx="446.3" cy="317.1" r="0.95" fill="#5c5c5c"/>
<circle cx="478.1" cy="314.5" r="0.95" fill="#5c5c5c"/>
<circle cx="450.0" cy="314.1" r="0.95" fill="#5c5c5c"/>
<circle cx="441.8" cy="315.6" r="0.95" fill="#5c5c5c"/>
<circle cx="481.3" cy="316.7" r="0.95" fill="#5c5c5c"/>
<circle cx="480.3" cy="315.3" r="0.95" fill="#5c5c5c"/>
<circle cx="442.5" cy="316.8" r="0.95" fill="#5c5c5c"/>
<circle cx="459.4" cy="317.2" r="0.95" fill="#5c5c5c"/>
<circle cx="471.8" cy="317.5" r="0.95" fill="#5c5c5c"/>
<circle cx="473.7" cy="316.9" r="0.95" fill="#5c5c5c"/>
<circle cx="443.3" cy="315.8" r="0.95" fill="#5c5c5c"/>
<circle cx="444.5" cy="315.8" r="0.95" fill="#5c5c5c"/>
<circle cx="473.7" cy="315.6" r="0.95" fill="#5c5c5c"/>
<circle cx="459.9" cy="318.1" r="0.95" fill="#5c5c5c"/>
<circle cx="462.1" cy="317.8" r="0.95" fill="#5c5c5c"/>
<circle cx="467.7" cy="317.7" r="0.95" fill="#5c5c5c"/>
<circle cx="464.8" cy="316.7" r="0.95" fill="#5c5c5c"/>
<circle cx="456.2" cy="315.3" r="0.95" fill="#5c5c5c"/>
<circle cx="447.3" cy="317.5" r="0.95" fill="#5c5c5c"/>
<circle cx="480.2" cy="316.8" r="0.95" fill="#5c5c5c"/>
<circle cx="476.0" cy="314.4" r="0.95" fill="#5c5c5c"/>
<circle cx="460.7" cy="317.6" r="0.95" fill="#5c5c5c"/>
<circle cx="444.4" cy="314.3" r="0.95" fill="#5c5c5c"/>
<circle cx="445.4" cy="316.1" r="0.95" fill="#5c5c5c"/>
<circle cx="463.1" cy="317.7" r="0.95" fill="#5c5c5c"/>
<circle cx="460.2" cy="317.5" r="0.95" fill="#5c5c5c"/>
<circle cx="463.0" cy="316.0" r="0.95" fill="#5c5c5c"/>
<circle cx="455.9" cy="317.4" r="0.95" fill="#5c5c5c"/>
<circle cx="457.5" cy="317.4" r="0.95" fill="#5c5c5c"/>
<circle cx="445.8" cy="317.2" r="0.95" fill="#5c5c5c"/>
<circle cx="477.2" cy="316.0" r="0.95" fill="#5c5c5c"/>
<circle cx="478.0" cy="318.2" r="0.95" fill="#5c5c5c"/>
<circle cx="480.3" cy="316.1" r="0.95" fill="#5c5c5c"/>
<circle cx="473.8" cy="315.7" r="0.95" fill="#5c5c5c"/>
<circle cx="469.5" cy="317.2" r="0.95" fill="#5c5c5c"/>
<circle cx="472.1" cy="317.6" r="0.95" fill="#5c5c5c"/>
<circle cx="451.6" cy="318.1" r="0.95" fill="#5c5c5c"/>
<circle cx="457.0" cy="316.0" r="0.95" fill="#5c5c5c"/>
<circle cx="452.7" cy="314.3" r="0.95" fill="#5c5c5c"/>
<circle cx="444.0" cy="315.7" r="0.95" fill="#5c5c5c"/>
<circle cx="450.3" cy="315.6" r="0.95" fill="#5c5c5c"/>
<circle cx="473.5" cy="315.1" r="0.95" fill="#5c5c5c"/>
<circle cx="443.0" cy="317.2" r="0.95" fill="#5c5c5c"/>
<circle cx="465.7" cy="313.9" r="0.95" fill="#5c5c5c"/>
<circle cx="442.2" cy="315.5" r="0.95" fill="#5c5c5c"/>
<circle cx="469.6" cy="314.6" r="0.95" fill="#5c5c5c"/>
<circle cx="454.9" cy="314.7" r="0.95" fill="#5c5c5c"/>
<circle cx="459.9" cy="314.2" r="0.95" fill="#5c5c5c"/>
<circle cx="440.9" cy="314.1" r="0.95" fill="#5c5c5c"/>
<circle cx="457.8" cy="316.5" r="0.95" fill="#5c5c5c"/>
<circle cx="444.1" cy="317.2" r="0.95" fill="#5c5c5c"/>
<circle cx="471.4" cy="315.2" r="0.95" fill="#5c5c5c"/>
<circle cx="446.8" cy="316.7" r="0.95" fill="#5c5c5c"/>
<circle cx="446.3" cy="317.4" r="0.95" fill="#5c5c5c"/>
<circle cx="449.7" cy="316.8" r="0.95" fill="#5c5c5c"/>
<circle cx="481.6" cy="313.8" r="0.95" fill="#5c5c5c"/>
<circle cx="473.9" cy="316.1" r="0.95" fill="#5c5c5c"/>
<circle cx="461.4" cy="314.8" r="0.95" fill="#5c5c5c"/>
<circle cx="478.8" cy="314.9" r="0.95" fill="#5c5c5c"/>
<circle cx="467.3" cy="317.4" r="0.95" fill="#5c5c5c"/>
<circle cx="466.8" cy="314.5" r="0.95" fill="#5c5c5c"/>
<circle cx="473.6" cy="317.9" r="0.95" fill="#5c5c5c"/>
<circle cx="470.7" cy="316.7" r="0.95" fill="#5c5c5c"/>
<circle cx="447.3" cy="314.0" r="0.95" fill="#5c5c5c"/>
<circle cx="468.8" cy="314.9" r="0.95" fill="#5c5c5c"/>
<circle cx="446.1" cy="314.6" r="0.95" fill="#5c5c5c"/>
<circle cx="480.0" cy="314.2" r="0.95" fill="#5c5c5c"/>
<circle cx="471.9" cy="314.6" r="0.95" fill="#5c5c5c"/>
<circle cx="474.3" cy="315.6" r="0.95" fill="#5c5c5c"/>
<circle cx="458.8" cy="314.6" r="0.95" fill="#5c5c5c"/>
<circle cx="473.6" cy="314.4" r="0.95" fill="#5c5c5c"/>
<circle cx="453.0" cy="314.0" r="0.95" fill="#5c5c5c"/>
<circle cx="423.3" cy="312.2" r="0.95" fill="#5c5c5c"/>
<circle cx="413.2" cy="312.0" r="0.95" fill="#5c5c5c"/>
<circle cx="429.5" cy="316.6" r="0.95" fill="#5c5c5c"/>
<circle cx="430.8" cy="316.8" r="0.95" fill="#5c5c5c"/>
<circle cx="415.2" cy="315.3" r="0.95" fill="#5c5c5c"/>
<circle cx="416.1" cy="315.1" r="0.95" fill="#5c5c5c"/>
<circle cx="432.5" cy="313.9" r="0.95" fill="#5c5c5c"/>
<circle cx="427.7" cy="315.7" r="0.95" fill="#5c5c5c"/>
<circle cx="429.5" cy="313.2" r="0.95" fill="#5c5c5c"/>
<circle cx="427.0" cy="312.2" r="0.95" fill="#5c5c5c"/>
<circle cx="430.5" cy="315.7" r="0.95" fill="#5c5c5c"/>
<circle cx="412.5" cy="314.1" r="0.95" fill="#5c5c5c"/>
<circle cx="430.7" cy="316.1" r="0.95" fill="#5c5c5c"/>
<circle cx="424.8" cy="312.9" r="0.95" fill="#5c5c5c"/>
<circle cx="429.7" cy="318.2" r="0.95" fill="#5c5c5c"/>
<circle cx="422.3" cy="318.2" r="0.95" fill="#5c5c5c"/>
<circle cx="413.0" cy="313.0" r="0.95" fill="#5c5c5c"/>
<circle cx="420.6" cy="314.4" r="0.95" fill="#5c5c5c"/>
<circle cx="421.5" cy="316.1" r="0.95" fill="#5c5c5c"/>
<circle cx="415.6" cy="316.0" r="0.95" fill="#5c5c5c"/>
<circle cx="430.9" cy="314.3" r="0.95" fill="#5c5c5c"/>
<circle cx="417.5" cy="317.7" r="0.95" fill="#5c5c5c"/>
<circle cx="417.0" cy="313.8" r="0.95" fill="#5c5c5c"/>
<circle cx="421.1" cy="314.0" r="0.95" fill="#5c5c5c"/>
<circle cx="430.0" cy="317.5" r="0.95" fill="#5c5c5c"/>
<circle cx="427.0" cy="318.0" r="0.95" fill="#5c5c5c"/>
<circle cx="430.4" cy="317.1" r="0.95" fill="#5c5c5c"/>
<circle cx="417.0" cy="312.1" r="0.95" fill="#5c5c5c"/>
<circle cx="419.2" cy="316.8" r="0.95" fill="#5c5c5c"/>
<circle cx="432.0" cy="314.3" r="0.95" fill="#5c5c5c"/>
<circle cx="432.1" cy="315.7" r="0.95" fill="#5c5c5c"/>
<circle cx="422.5" cy="312.1" r="0.95" fill="#5c5c5c"/>
<circle cx="422.7" cy="311.9" r="0.95" fill="#5c5c5c"/>
<circle cx="415.0" cy="312.9" r="0.95" fill="#5c5c5c"/>
<circle cx="414.3" cy="314.9" r="0.95" fill="#5c5c5c"/>
<circle cx="410.4" cy="317.1" r="0.95" fill="#5c5c5c"/>
<circle cx="433.4" cy="315.3" r="0.95" fill="#5c5c5c"/>
<circle cx="430.1" cy="316.7" r="0.95" fill="#5c5c5c"/>
<circle cx="418.9" cy="317.6" r="0.95" fill="#5c5c5c"/>
<circle cx="423.8" cy="312.7" r="0.95" fill="#5c5c5c"/>
<circle cx="422.9" cy="315.8" r="0.95" fill="#5c5c5c"/>
<circle cx="433.0" cy="312.5" r="0.95" fill="#5c5c5c"/>
<circle cx="426.6" cy="317.8" r="0.95" fill="#5c5c5c"/>
<circle cx="425.6" cy="315.4" r="0.95" fill="#5c5c5c"/>
<circle cx="433.7" cy="315.9" r="0.95" fill="#5c5c5c"/>
<circle cx="426.5" cy="314.2" r="0.95" fill="#5c5c5c"/>
<circle cx="419.5" cy="314.9" r="0.95" fill="#5c5c5c"/>
<circle cx="426.8" cy="312.4" r="0.95" fill="#5c5c5c"/>
<circle cx="422.5" cy="315.9" r="0.95" fill="#5c5c5c"/>
<circle cx="434.1" cy="317.9" r="0.95" fill="#5c5c5c"/>
<circle cx="430.7" cy="313.9" r="0.95" fill="#5c5c5c"/>
<circle cx="423.9" cy="315.4" r="0.95" fill="#5c5c5c"/>
<circle cx="428.7" cy="312.5" r="0.95" fill="#5c5c5c"/>
<circle cx="428.1" cy="313.4" r="0.95" fill="#5c5c5c"/>
<circle cx="411.2" cy="316.2" r="0.95" fill="#5c5c5c"/>
<circle cx="413.7" cy="312.1" r="0.95" fill="#5c5c5c"/>
<circle cx="432.1" cy="317.3" r="0.95" fill="#5c5c5c"/>
<circle cx="424.7" cy="314.6" r="0.95" fill="#5c5c5c"/>
<circle cx="411.5" cy="315.7" r="0.95" fill="#5c5c5c"/>
<circle cx="428.6" cy="314.1" r="0.95" fill="#5c5c5c"/>
<circle cx="459.2" cy="305.7" r="0.95" fill="#7b56a6"/>
<circle cx="459.5" cy="308.3" r="0.95" fill="#7b56a6"/>
<circle cx="463.3" cy="303.2" r="0.95" fill="#7b56a6"/>
<circle cx="470.0" cy="305.2" r="0.95" fill="#7b56a6"/>
<circle cx="470.8" cy="310.3" r="0.95" fill="#7b56a6"/>
<circle cx="479.1" cy="306.4" r="0.95" fill="#7b56a6"/>
<circle cx="471.2" cy="311.5" r="0.95" fill="#7b56a6"/>
<circle cx="455.7" cy="308.0" r="0.95" fill="#7b56a6"/>
<circle cx="475.1" cy="305.4" r="0.95" fill="#7b56a6"/>
<circle cx="461.1" cy="313.1" r="0.95" fill="#7b56a6"/>
<circle cx="466.1" cy="304.4" r="0.95" fill="#7b56a6"/>
<circle cx="455.7" cy="306.0" r="0.95" fill="#7b56a6"/>
<circle cx="456.0" cy="311.1" r="0.95" fill="#7b56a6"/>
<circle cx="452.5" cy="311.3" r="0.95" fill="#7b56a6"/>
<circle cx="462.2" cy="303.3" r="0.95" fill="#7b56a6"/>
<circle cx="479.1" cy="312.6" r="0.95" fill="#7b56a6"/>
<circle cx="460.0" cy="303.6" r="0.95" fill="#7b56a6"/>
<circle cx="456.7" cy="311.0" r="0.95" fill="#7b56a6"/>
<circle cx="463.8" cy="313.5" r="0.95" fill="#7b56a6"/>
<circle cx="458.6" cy="310.1" r="0.95" fill="#7b56a6"/>
<circle cx="462.3" cy="303.4" r="0.95" fill="#7b56a6"/>
<circle cx="458.8" cy="312.4" r="0.95" fill="#7b56a6"/>
<circle cx="477.6" cy="309.5" r="0.95" fill="#7b56a6"/>
<circle cx="475.5" cy="307.2" r="0.95" fill="#7b56a6"/>
<circle cx="473.8" cy="311.1" r="0.95" fill="#7b56a6"/>
<circle cx="455.4" cy="305.8" r="0.95" fill="#7b56a6"/>
<circle cx="387.6" cy="287.1" r="1.0" fill="#5c5c5c"/>
<circle cx="390.9" cy="284.1" r="1.0" fill="#5c5c5c"/>
<circle cx="399.0" cy="299.9" r="1.0" fill="#5c5c5c"/>
<circle cx="397.4" cy="308.9" r="1.0" fill="#5c5c5c"/>
<circle cx="397.4" cy="315.8" r="1.0" fill="#5c5c5c"/>
<circle cx="415.2" cy="295.0" r="1.0" fill="#5c5c5c"/>
<circle cx="410.4" cy="302.9" r="1.0" fill="#5c5c5c"/>
<circle cx="420.1" cy="305.9" r="1.0" fill="#5c5c5c"/>
<circle cx="428.2" cy="301.9" r="1.0" fill="#5c5c5c"/>
<circle cx="440.4" cy="284.1" r="1.0" fill="#5c5c5c"/>
<circle cx="480.2" cy="207.9" r="1.0" fill="#5c5c5c"/>
<circle cx="467.2" cy="285.1" r="1.0" fill="#5c5c5c"/>
<circle cx="490.0" cy="297.0" r="1.0" fill="#5c5c5c"/>
<circle cx="491.6" cy="309.8" r="1.0" fill="#5c5c5c"/>
<circle cx="493.2" cy="317.8" r="1.0" fill="#5c5c5c"/>
<circle cx="429.9" cy="308.9" r="1.0" fill="#5c5c5c"/>
<circle cx="486.7" cy="303.9" r="1.0" fill="#5c5c5c"/>
<circle cx="483.5" cy="305.9" r="1.0" fill="#5c5c5c"/>
<rect x="380.8" y="203.0" width="117.1" height="120.3" fill="none" stroke="#8a8a8a" stroke-width="0.9"/>
<line x1="379.3" y1="295.0" x2="380.8" y2="295.0" stroke="#555" stroke-width="0.6"/>
<text x="378.8" y="297.8" font-size="7.7" text-anchor="end" fill="#333" stroke="#333" stroke-width="0.12">3</text>
<line x1="379.3" y1="265.3" x2="380.8" y2="265.3" stroke="#555" stroke-width="0.6"/>
<text x="378.8" y="268.1" font-size="7.7" text-anchor="end" fill="#333" stroke="#333" stroke-width="0.12">6</text>
<line x1="379.3" y1="235.6" x2="380.8" y2="235.6" stroke="#555" stroke-width="0.6"/>
<text x="378.8" y="238.4" font-size="7.7" text-anchor="end" fill="#333" stroke="#333" stroke-width="0.12">9</text>
<line x1="379.3" y1="205.9" x2="380.8" y2="205.9" stroke="#555" stroke-width="0.6"/>
<text x="378.8" y="208.7" font-size="7.7" text-anchor="end" fill="#333" stroke="#333" stroke-width="0.12">12</text>
<line x1="407.1" y1="323.3" x2="407.1" y2="324.8" stroke="#555" stroke-width="0.6"/>
<text x="407.1" y="333.6" font-size="10" text-anchor="middle" fill="#333" stroke="#333" stroke-width="0.12">&#8722;2</text>
<line x1="439.6" y1="323.3" x2="439.6" y2="324.8" stroke="#555" stroke-width="0.6"/>
<text x="439.6" y="333.6" font-size="10" text-anchor="middle" fill="#333" stroke="#333" stroke-width="0.12">0</text>
<line x1="472.1" y1="323.3" x2="472.1" y2="324.8" stroke="#555" stroke-width="0.6"/>
<text x="472.1" y="333.6" font-size="10" text-anchor="middle" fill="#333" stroke="#333" stroke-width="0.12">2</text>
<text x="440.0" y="342.7" font-size="10" text-anchor="middle" fill="#000" stroke="#000" stroke-width="0.12">log2FC</text>
<text x="366.8" y="260.0" font-size="8.0" text-anchor="middle" fill="#000" transform="rotate(-90 366.8 260)" stroke="#000" stroke-width="0.12">-Log<tspan font-size="5.6" dy="2">10</tspan><tspan dy="-2">(FDR)</tspan></text>
<text x="396.0" y="226.5" font-size="7.5" text-anchor="start" fill="#000" stroke="#000" stroke-width="0.12"><tspan font-style="italic">P</tspan><tspan font-size="5.5" dy="2">adj</tspan><tspan dy="-2"> value</tspan></text>
<rect x="396.8" y="232.2" width="2.4" height="2.4" fill="#7b56a6" stroke="none" stroke-width="1"/>
<text x="406.3" y="236.0" font-size="7" text-anchor="start" fill="#000" stroke="#000" stroke-width="0.12">&lt;0.05</text>
<rect x="396.8" y="239.2" width="2.4" height="2.4" fill="#5c5c5c" stroke="none" stroke-width="1"/>
<text x="406.3" y="243.0" font-size="7" text-anchor="start" fill="#000" stroke="#000" stroke-width="0.12">&gt;0.05</text>
<line x1="486.3" y1="280.6" x2="482.5" y2="298.8" stroke="#111" stroke-width="1.8"/>
<line x1="484.5" y1="290.0" x2="481.5" y2="299.0" stroke="#111" stroke-width="1.8"/>
<line x1="471.3" y1="300.0" x2="476.9" y2="306.9" stroke="#111" stroke-width="1.8"/>
<line x1="471.0" y1="315.0" x2="475.0" y2="317.5" stroke="#111" stroke-width="1.8"/>
<rect x="476.2" y="273.8" width="19.5" height="6.2" rx="1" fill="#fff" fill-opacity="0.9" stroke="#9a7fc4" stroke-width="0.8"/>
<text x="486.0" y="278.8" font-size="5.4" text-anchor="middle" fill="#6b4f96" stroke="#6b4f96" stroke-width="0.12">CXCL9</text>
<rect x="472.8" y="284.1" width="22.7" height="6.2" rx="1" fill="#fff" fill-opacity="0.9" stroke="#9a7fc4" stroke-width="0.8"/>
<text x="484.2" y="289.1" font-size="5.4" text-anchor="middle" fill="#6b4f96" stroke="#6b4f96" stroke-width="0.12">CXCL10</text>
<rect x="457.1" y="293.8" width="22.7" height="6.2" rx="1" fill="#fff" fill-opacity="0.9" stroke="#9a7fc4" stroke-width="0.8"/>
<text x="468.5" y="298.8" font-size="5.4" text-anchor="middle" fill="#6b4f96" stroke="#6b4f96" stroke-width="0.12">CXCL11</text>
<rect x="463.4" y="308.8" width="16.3" height="6.2" rx="1" fill="#fff" fill-opacity="0.9" stroke="#666" stroke-width="0.8"/>
<text x="471.5" y="313.8" font-size="5.4" text-anchor="middle" fill="#777" stroke="#777" stroke-width="0.12">CCL5</text>
<line x1="376.0" y1="346.0" x2="439.5" y2="346.0" stroke="#333" stroke-width="0.6"/>
<line x1="441.5" y1="346.0" x2="504.0" y2="346.0" stroke="#333" stroke-width="0.6"/>
<path d="M374,346 l4,-1.6 v3.2 z" stroke="none" stroke-width="0" fill="#333"/>
<path d="M506,346 l-4,-1.6 v3.2 z" stroke="none" stroke-width="0" fill="#333"/>
<text x="407.0" y="354.3" font-size="8" text-anchor="middle" fill="#000" stroke="#000" stroke-width="0.12">Decreased</text>
<text x="407.0" y="363.2" font-size="8" text-anchor="middle" fill="#000" stroke="#000" stroke-width="0.12">in responders</text>
<text x="473.0" y="354.3" font-size="8" text-anchor="middle" fill="#000" stroke="#000" stroke-width="0.12">Increased</text>
<text x="473.0" y="363.2" font-size="8" text-anchor="middle" fill="#000" stroke="#000" stroke-width="0.12">in responders</text>
<text x="47.1" y="376.9" font-size="13.7" text-anchor="start" fill="#000" font-weight="bold">F</text>
<text x="118.0" y="384.0" font-size="7.9" text-anchor="middle" fill="#000" stroke="#000" stroke-width="0.12">Responders vs. nonresponders</text>
<text x="120.3" y="393.9" font-size="7.9" text-anchor="middle" fill="#000" stroke="#000" stroke-width="0.12">Differential gene expression</text>
<text x="120.1" y="403.8" font-size="7.9" text-anchor="middle" fill="#000" stroke="#000" stroke-width="0.12">On therapy</text>
<rect x="68.4" y="406.5" width="103.8" height="107.7" fill="#fff" stroke="none" stroke-width="1"/>
<line x1="85.5" y1="406.5" x2="85.5" y2="514.2" stroke="#f3f3f3" stroke-width="0.5"/>
<line x1="113.0" y1="406.5" x2="113.0" y2="514.2" stroke="#f3f3f3" stroke-width="0.5"/>
<line x1="140.6" y1="406.5" x2="140.6" y2="514.2" stroke="#f3f3f3" stroke-width="0.5"/>
<line x1="168.1" y1="406.5" x2="168.1" y2="514.2" stroke="#f3f3f3" stroke-width="0.5"/>
<line x1="68.4" y1="502.8" x2="172.2" y2="502.8" stroke="#f3f3f3" stroke-width="0.5"/>
<line x1="68.4" y1="482.2" x2="172.2" y2="482.2" stroke="#f3f3f3" stroke-width="0.5"/>
<line x1="68.4" y1="461.8" x2="172.2" y2="461.8" stroke="#f3f3f3" stroke-width="0.5"/>
<line x1="68.4" y1="441.2" x2="172.2" y2="441.2" stroke="#f3f3f3" stroke-width="0.5"/>
<line x1="68.4" y1="420.8" x2="172.2" y2="420.8" stroke="#f3f3f3" stroke-width="0.5"/>
<line x1="71.8" y1="406.5" x2="71.8" y2="514.2" stroke="#e6e6e6" stroke-width="0.7"/>
<line x1="99.3" y1="406.5" x2="99.3" y2="514.2" stroke="#e6e6e6" stroke-width="0.7"/>
<line x1="126.8" y1="406.5" x2="126.8" y2="514.2" stroke="#e6e6e6" stroke-width="0.7"/>
<line x1="154.3" y1="406.5" x2="154.3" y2="514.2" stroke="#e6e6e6" stroke-width="0.7"/>
<line x1="68.4" y1="513.0" x2="172.2" y2="513.0" stroke="#e6e6e6" stroke-width="0.7"/>
<line x1="68.4" y1="492.5" x2="172.2" y2="492.5" stroke="#e6e6e6" stroke-width="0.7"/>
<line x1="68.4" y1="472.0" x2="172.2" y2="472.0" stroke="#e6e6e6" stroke-width="0.7"/>
<line x1="68.4" y1="451.5" x2="172.2" y2="451.5" stroke="#e6e6e6" stroke-width="0.7"/>
<line x1="68.4" y1="431.0" x2="172.2" y2="431.0" stroke="#e6e6e6" stroke-width="0.7"/>
<line x1="68.4" y1="410.5" x2="172.2" y2="410.5" stroke="#e6e6e6" stroke-width="0.7"/>
<circle cx="108.3" cy="497.6" r="0.8" fill="#8259b3"/>
<circle cx="114.5" cy="493.4" r="0.8" fill="#8259b3"/>
<circle cx="102.3" cy="501.8" r="0.8" fill="#8259b3"/>
<circle cx="102.7" cy="496.0" r="0.8" fill="#8259b3"/>
<circle cx="101.8" cy="493.0" r="0.8" fill="#8259b3"/>
<circle cx="111.2" cy="502.0" r="0.8" fill="#8259b3"/>
<circle cx="101.3" cy="508.2" r="0.8" fill="#8259b3"/>
<circle cx="110.7" cy="493.3" r="0.8" fill="#8259b3"/>
<circle cx="114.7" cy="500.8" r="0.8" fill="#8259b3"/>
<circle cx="118.7" cy="507.3" r="0.8" fill="#8259b3"/>
<circle cx="103.3" cy="495.7" r="0.8" fill="#8259b3"/>
<circle cx="115.1" cy="492.9" r="0.8" fill="#8259b3"/>
<circle cx="116.7" cy="502.3" r="0.8" fill="#8259b3"/>
<circle cx="105.9" cy="492.2" r="0.8" fill="#8259b3"/>
<circle cx="104.6" cy="505.7" r="0.8" fill="#8259b3"/>
<circle cx="109.9" cy="495.2" r="0.8" fill="#8259b3"/>
<circle cx="121.6" cy="506.8" r="0.8" fill="#8259b3"/>
<circle cx="104.2" cy="508.3" r="0.8" fill="#8259b3"/>
<circle cx="106.5" cy="498.8" r="0.8" fill="#8259b3"/>
<circle cx="111.6" cy="500.9" r="0.8" fill="#8259b3"/>
<circle cx="111.5" cy="503.8" r="0.8" fill="#8259b3"/>
<circle cx="119.6" cy="506.4" r="0.8" fill="#8259b3"/>
<circle cx="114.5" cy="493.3" r="0.8" fill="#8259b3"/>
<circle cx="109.2" cy="490.2" r="0.8" fill="#8259b3"/>
<circle cx="120.9" cy="506.9" r="0.8" fill="#8259b3"/>
<circle cx="115.5" cy="494.4" r="0.8" fill="#8259b3"/>
<circle cx="112.7" cy="503.7" r="0.8" fill="#8259b3"/>
<circle cx="119.2" cy="503.8" r="0.8" fill="#8259b3"/>
<circle cx="100.4" cy="504.9" r="0.8" fill="#8259b3"/>
<circle cx="104.9" cy="494.5" r="0.8" fill="#8259b3"/>
<circle cx="103.8" cy="509.6" r="0.8" fill="#8259b3"/>
<circle cx="113.2" cy="506.7" r="0.8" fill="#8259b3"/>
<circle cx="102.3" cy="508.4" r="0.8" fill="#8259b3"/>
<circle cx="107.5" cy="497.7" r="0.8" fill="#8259b3"/>
<circle cx="118.7" cy="508.9" r="0.8" fill="#8259b3"/>
<circle cx="119.3" cy="507.3" r="0.8" fill="#8259b3"/>
<circle cx="100.7" cy="496.0" r="0.8" fill="#8259b3"/>
<circle cx="104.3" cy="502.5" r="0.8" fill="#8259b3"/>
<circle cx="111.3" cy="505.0" r="0.8" fill="#8259b3"/>
<circle cx="118.2" cy="505.2" r="0.8" fill="#8259b3"/>
<circle cx="110.3" cy="509.1" r="0.8" fill="#8259b3"/>
<circle cx="117.8" cy="509.1" r="0.8" fill="#8259b3"/>
<circle cx="109.3" cy="500.5" r="0.8" fill="#8259b3"/>
<circle cx="116.1" cy="497.0" r="0.8" fill="#8259b3"/>
<circle cx="106.1" cy="498.6" r="0.8" fill="#8259b3"/>
<circle cx="111.9" cy="504.8" r="0.8" fill="#8259b3"/>
<circle cx="97.9" cy="499.9" r="0.8" fill="#8259b3"/>
<circle cx="114.8" cy="494.3" r="0.8" fill="#8259b3"/>
<circle cx="107.8" cy="502.3" r="0.8" fill="#8259b3"/>
<circle cx="99.6" cy="501.0" r="0.8" fill="#8259b3"/>
<circle cx="102.5" cy="505.5" r="0.8" fill="#8259b3"/>
<circle cx="116.5" cy="498.5" r="0.8" fill="#8259b3"/>
<circle cx="107.3" cy="505.4" r="0.8" fill="#8259b3"/>
<circle cx="115.5" cy="505.4" r="0.8" fill="#8259b3"/>
<circle cx="102.0" cy="497.5" r="0.8" fill="#8259b3"/>
<circle cx="116.0" cy="508.4" r="0.8" fill="#8259b3"/>
<circle cx="100.1" cy="509.4" r="0.8" fill="#8259b3"/>
<circle cx="113.2" cy="504.0" r="0.8" fill="#8259b3"/>
<circle cx="104.7" cy="506.2" r="0.8" fill="#8259b3"/>
<circle cx="103.2" cy="508.8" r="0.8" fill="#8259b3"/>
<circle cx="99.2" cy="502.0" r="0.8" fill="#8259b3"/>
<circle cx="107.8" cy="507.5" r="0.8" fill="#8259b3"/>
<circle cx="97.1" cy="506.4" r="0.8" fill="#8259b3"/>
<circle cx="117.7" cy="499.5" r="0.8" fill="#8259b3"/>
<circle cx="118.3" cy="499.4" r="0.8" fill="#8259b3"/>
<circle cx="119.1" cy="506.9" r="0.8" fill="#8259b3"/>
<circle cx="97.2" cy="497.5" r="0.8" fill="#8259b3"/>
<circle cx="109.4" cy="505.2" r="0.8" fill="#8259b3"/>
<circle cx="101.6" cy="509.3" r="0.8" fill="#8259b3"/>
<circle cx="107.3" cy="493.8" r="0.8" fill="#8259b3"/>
<circle cx="105.6" cy="492.1" r="0.8" fill="#8259b3"/>
<circle cx="119.7" cy="506.8" r="0.8" fill="#8259b3"/>
<circle cx="111.8" cy="501.5" r="0.8" fill="#8259b3"/>
<circle cx="118.0" cy="499.6" r="0.8" fill="#8259b3"/>
<circle cx="110.3" cy="508.2" r="0.8" fill="#8259b3"/>
<circle cx="103.8" cy="496.1" r="0.8" fill="#8259b3"/>
<circle cx="113.5" cy="505.2" r="0.8" fill="#8259b3"/>
<circle cx="105.6" cy="507.5" r="0.8" fill="#8259b3"/>
<circle cx="112.0" cy="507.0" r="0.8" fill="#8259b3"/>
<circle cx="100.0" cy="499.8" r="0.8" fill="#8259b3"/>
<circle cx="111.8" cy="495.9" r="0.8" fill="#8259b3"/>
<circle cx="115.6" cy="500.2" r="0.8" fill="#8259b3"/>
<circle cx="106.1" cy="495.1" r="0.8" fill="#8259b3"/>
<circle cx="115.8" cy="504.5" r="0.8" fill="#8259b3"/>
<circle cx="113.8" cy="494.7" r="0.8" fill="#8259b3"/>
<circle cx="108.3" cy="506.6" r="0.8" fill="#8259b3"/>
<circle cx="95.7" cy="504.5" r="0.8" fill="#8259b3"/>
<circle cx="105.9" cy="492.6" r="0.8" fill="#8259b3"/>
<circle cx="119.2" cy="495.9" r="0.8" fill="#8259b3"/>
<circle cx="116.6" cy="508.9" r="0.8" fill="#8259b3"/>
<circle cx="118.5" cy="508.9" r="0.8" fill="#8259b3"/>
<circle cx="95.3" cy="504.5" r="0.8" fill="#8259b3"/>
<circle cx="122.5" cy="504.9" r="0.8" fill="#8259b3"/>
<circle cx="114.5" cy="489.5" r="0.8" fill="#8259b3"/>
<circle cx="113.5" cy="489.7" r="0.8" fill="#8259b3"/>
<circle cx="101.9" cy="506.4" r="0.8" fill="#8259b3"/>
<circle cx="115.7" cy="505.7" r="0.8" fill="#8259b3"/>
<circle cx="118.7" cy="506.2" r="0.8" fill="#8259b3"/>
<circle cx="109.6" cy="507.4" r="0.8" fill="#8259b3"/>
<circle cx="122.0" cy="509.7" r="0.8" fill="#8259b3"/>
<circle cx="119.1" cy="498.8" r="0.8" fill="#8259b3"/>
<circle cx="112.9" cy="496.8" r="0.8" fill="#8259b3"/>
<circle cx="118.4" cy="508.0" r="0.8" fill="#8259b3"/>
<circle cx="102.8" cy="501.1" r="0.8" fill="#8259b3"/>
<circle cx="118.8" cy="499.8" r="0.8" fill="#8259b3"/>
<circle cx="97.6" cy="495.6" r="0.8" fill="#8259b3"/>
<circle cx="100.2" cy="500.4" r="0.8" fill="#8259b3"/>
<circle cx="110.6" cy="502.1" r="0.8" fill="#8259b3"/>
<circle cx="96.9" cy="501.7" r="0.8" fill="#8259b3"/>
<circle cx="103.1" cy="493.2" r="0.8" fill="#8259b3"/>
<circle cx="98.4" cy="496.5" r="0.8" fill="#8259b3"/>
<circle cx="112.2" cy="498.4" r="0.8" fill="#8259b3"/>
<circle cx="107.8" cy="500.9" r="0.8" fill="#8259b3"/>
<circle cx="112.6" cy="495.6" r="0.8" fill="#8259b3"/>
<circle cx="120.0" cy="500.4" r="0.8" fill="#8259b3"/>
<circle cx="120.8" cy="505.8" r="0.8" fill="#8259b3"/>
<circle cx="115.6" cy="504.2" r="0.8" fill="#8259b3"/>
<circle cx="103.1" cy="502.1" r="0.8" fill="#8259b3"/>
<circle cx="103.8" cy="507.7" r="0.8" fill="#8259b3"/>
<circle cx="113.9" cy="489.5" r="0.8" fill="#8259b3"/>
<circle cx="117.3" cy="491.5" r="0.8" fill="#8259b3"/>
<circle cx="102.2" cy="504.3" r="0.8" fill="#8259b3"/>
<circle cx="106.5" cy="509.3" r="0.8" fill="#8259b3"/>
<circle cx="117.5" cy="492.9" r="0.8" fill="#8259b3"/>
<circle cx="110.2" cy="507.4" r="0.8" fill="#8259b3"/>
<circle cx="119.2" cy="502.9" r="0.8" fill="#8259b3"/>
<circle cx="113.1" cy="501.7" r="0.8" fill="#8259b3"/>
<circle cx="98.8" cy="498.2" r="0.8" fill="#8259b3"/>
<circle cx="113.8" cy="498.0" r="0.8" fill="#8259b3"/>
<circle cx="123.6" cy="507.8" r="0.8" fill="#8259b3"/>
<circle cx="100.3" cy="503.5" r="0.8" fill="#8259b3"/>
<circle cx="121.7" cy="509.4" r="0.8" fill="#8259b3"/>
<circle cx="101.8" cy="494.2" r="0.8" fill="#8259b3"/>
<circle cx="107.3" cy="494.8" r="0.8" fill="#8259b3"/>
<circle cx="115.1" cy="493.5" r="0.8" fill="#8259b3"/>
<circle cx="117.0" cy="504.3" r="0.8" fill="#8259b3"/>
<circle cx="101.7" cy="509.1" r="0.8" fill="#8259b3"/>
<circle cx="115.1" cy="505.2" r="0.8" fill="#8259b3"/>
<circle cx="113.6" cy="496.9" r="0.8" fill="#8259b3"/>
<circle cx="114.0" cy="496.7" r="0.8" fill="#8259b3"/>
<circle cx="115.2" cy="503.1" r="0.8" fill="#8259b3"/>
<circle cx="95.8" cy="508.3" r="0.8" fill="#8259b3"/>
<circle cx="98.2" cy="507.3" r="0.8" fill="#8259b3"/>
<circle cx="115.0" cy="503.8" r="0.8" fill="#8259b3"/>
<circle cx="117.5" cy="505.9" r="0.8" fill="#8259b3"/>
<circle cx="96.9" cy="503.1" r="0.8" fill="#8259b3"/>
<circle cx="106.4" cy="494.7" r="0.8" fill="#8259b3"/>
<circle cx="107.5" cy="493.9" r="0.8" fill="#8259b3"/>
<circle cx="104.3" cy="491.6" r="0.8" fill="#8259b3"/>
<circle cx="118.5" cy="495.1" r="0.8" fill="#8259b3"/>
<circle cx="102.4" cy="509.5" r="0.8" fill="#8259b3"/>
<circle cx="98.7" cy="495.4" r="0.8" fill="#8259b3"/>
<circle cx="111.9" cy="495.4" r="0.8" fill="#8259b3"/>
<circle cx="99.4" cy="506.6" r="0.8" fill="#8259b3"/>
<circle cx="105.6" cy="495.5" r="0.8" fill="#8259b3"/>
<circle cx="111.3" cy="504.9" r="0.8" fill="#8259b3"/>
<circle cx="95.8" cy="509.4" r="0.8" fill="#8259b3"/>
<circle cx="120.1" cy="506.9" r="0.8" fill="#8259b3"/>
<circle cx="116.1" cy="506.7" r="0.8" fill="#8259b3"/>
<circle cx="118.1" cy="504.3" r="0.8" fill="#8259b3"/>
<circle cx="105.1" cy="498.4" r="0.8" fill="#8259b3"/>
<circle cx="97.2" cy="504.3" r="0.8" fill="#8259b3"/>
<circle cx="118.3" cy="503.5" r="0.8" fill="#8259b3"/>
<circle cx="105.5" cy="493.1" r="0.8" fill="#8259b3"/>
<circle cx="100.7" cy="505.5" r="0.8" fill="#8259b3"/>
<circle cx="100.5" cy="501.4" r="0.8" fill="#8259b3"/>
<circle cx="105.1" cy="495.8" r="0.8" fill="#8259b3"/>
<circle cx="108.3" cy="490.8" r="0.8" fill="#8259b3"/>
<circle cx="119.6" cy="504.6" r="0.8" fill="#8259b3"/>
<circle cx="97.4" cy="499.7" r="0.8" fill="#8259b3"/>
<circle cx="115.7" cy="507.7" r="0.8" fill="#8259b3"/>
<circle cx="97.4" cy="499.3" r="0.8" fill="#8259b3"/>
<circle cx="99.2" cy="504.7" r="0.8" fill="#8259b3"/>
<circle cx="107.4" cy="507.1" r="0.8" fill="#8259b3"/>
<circle cx="95.9" cy="501.9" r="0.8" fill="#8259b3"/>
<circle cx="110.9" cy="508.2" r="0.8" fill="#8259b3"/>
<circle cx="100.7" cy="493.5" r="0.8" fill="#8259b3"/>
<circle cx="111.1" cy="490.8" r="0.8" fill="#8259b3"/>
<circle cx="110.0" cy="504.5" r="0.8" fill="#8259b3"/>
<circle cx="100.3" cy="507.9" r="0.8" fill="#8259b3"/>
<circle cx="108.0" cy="493.8" r="0.8" fill="#8259b3"/>
<circle cx="96.1" cy="499.9" r="0.8" fill="#8259b3"/>
<circle cx="103.6" cy="505.3" r="0.8" fill="#8259b3"/>
<circle cx="114.2" cy="501.9" r="0.8" fill="#8259b3"/>
<circle cx="108.6" cy="505.8" r="0.8" fill="#8259b3"/>
<circle cx="109.7" cy="509.2" r="0.8" fill="#8259b3"/>
<circle cx="108.3" cy="493.6" r="0.8" fill="#8259b3"/>
<circle cx="110.3" cy="504.6" r="0.8" fill="#8259b3"/>
<circle cx="109.2" cy="496.6" r="0.8" fill="#8259b3"/>
<circle cx="113.9" cy="506.6" r="0.8" fill="#8259b3"/>
<circle cx="116.6" cy="491.1" r="0.8" fill="#8259b3"/>
<circle cx="99.4" cy="504.8" r="0.8" fill="#8259b3"/>
<circle cx="112.2" cy="490.1" r="0.8" fill="#8259b3"/>
<circle cx="96.3" cy="505.0" r="0.8" fill="#8259b3"/>
<circle cx="98.1" cy="505.6" r="0.8" fill="#8259b3"/>
<circle cx="116.9" cy="497.0" r="0.8" fill="#8259b3"/>
<circle cx="114.7" cy="509.4" r="0.8" fill="#8259b3"/>
<circle cx="108.5" cy="498.6" r="0.8" fill="#8259b3"/>
<circle cx="107.9" cy="504.8" r="0.8" fill="#8259b3"/>
<circle cx="106.3" cy="502.3" r="0.8" fill="#8259b3"/>
<circle cx="114.4" cy="509.2" r="0.8" fill="#8259b3"/>
<circle cx="105.3" cy="506.2" r="0.8" fill="#8259b3"/>
<circle cx="119.3" cy="509.7" r="0.8" fill="#8259b3"/>
<circle cx="112.5" cy="504.1" r="0.8" fill="#8259b3"/>
<circle cx="107.8" cy="497.5" r="0.8" fill="#8259b3"/>
<circle cx="115.7" cy="506.7" r="0.8" fill="#8259b3"/>
<circle cx="101.2" cy="507.1" r="0.8" fill="#8259b3"/>
<circle cx="98.0" cy="498.4" r="0.8" fill="#8259b3"/>
<circle cx="111.7" cy="490.5" r="0.8" fill="#8259b3"/>
<circle cx="95.6" cy="504.6" r="0.8" fill="#8259b3"/>
<circle cx="99.0" cy="497.0" r="0.8" fill="#8259b3"/>
<circle cx="107.7" cy="500.8" r="0.8" fill="#8259b3"/>
<circle cx="106.4" cy="508.6" r="0.8" fill="#8259b3"/>
<circle cx="122.0" cy="507.5" r="0.8" fill="#8259b3"/>
<circle cx="120.6" cy="500.6" r="0.8" fill="#8259b3"/>
<circle cx="110.1" cy="491.3" r="0.8" fill="#8259b3"/>
<circle cx="118.7" cy="495.5" r="0.8" fill="#8259b3"/>
<circle cx="109.6" cy="507.2" r="0.8" fill="#8259b3"/>
<circle cx="101.3" cy="495.4" r="0.8" fill="#8259b3"/>
<circle cx="111.9" cy="492.3" r="0.8" fill="#8259b3"/>
<circle cx="99.7" cy="508.1" r="0.8" fill="#8259b3"/>
<circle cx="99.4" cy="494.7" r="0.8" fill="#8259b3"/>
<circle cx="101.7" cy="504.6" r="0.8" fill="#8259b3"/>
<circle cx="105.1" cy="498.3" r="0.8" fill="#8259b3"/>
<circle cx="114.7" cy="508.1" r="0.8" fill="#8259b3"/>
<circle cx="116.6" cy="496.2" r="0.8" fill="#8259b3"/>
<circle cx="108.3" cy="495.1" r="0.8" fill="#8259b3"/>
<circle cx="118.4" cy="509.5" r="0.8" fill="#8259b3"/>
<circle cx="108.4" cy="495.0" r="0.8" fill="#8259b3"/>
<circle cx="115.6" cy="495.6" r="0.8" fill="#8259b3"/>
<circle cx="118.0" cy="504.7" r="0.8" fill="#8259b3"/>
<circle cx="100.2" cy="500.8" r="0.8" fill="#8259b3"/>
<circle cx="101.0" cy="493.7" r="0.8" fill="#8259b3"/>
<circle cx="104.9" cy="495.3" r="0.8" fill="#8259b3"/>
<circle cx="117.4" cy="506.9" r="0.8" fill="#8259b3"/>
<circle cx="100.7" cy="505.0" r="0.8" fill="#8259b3"/>
<circle cx="102.0" cy="508.9" r="0.8" fill="#8259b3"/>
<circle cx="98.0" cy="500.9" r="0.8" fill="#8259b3"/>
<circle cx="106.8" cy="508.0" r="0.8" fill="#8259b3"/>
<circle cx="111.6" cy="502.0" r="0.8" fill="#8259b3"/>
<circle cx="115.5" cy="500.2" r="0.8" fill="#8259b3"/>
<circle cx="99.2" cy="499.3" r="0.8" fill="#8259b3"/>
<circle cx="98.8" cy="501.7" r="0.8" fill="#8259b3"/>
<circle cx="113.3" cy="494.4" r="0.8" fill="#8259b3"/>
<circle cx="117.4" cy="503.2" r="0.8" fill="#8259b3"/>
<circle cx="101.7" cy="491.9" r="0.8" fill="#8259b3"/>
<circle cx="112.3" cy="491.3" r="0.8" fill="#8259b3"/>
<circle cx="99.9" cy="509.4" r="0.8" fill="#8259b3"/>
<circle cx="110.3" cy="494.0" r="0.8" fill="#8259b3"/>
<circle cx="102.2" cy="508.2" r="0.8" fill="#8259b3"/>
<circle cx="115.2" cy="509.6" r="0.8" fill="#8259b3"/>
<circle cx="100.9" cy="504.0" r="0.8" fill="#8259b3"/>
<circle cx="98.4" cy="502.4" r="0.8" fill="#8259b3"/>
<circle cx="109.9" cy="502.8" r="0.8" fill="#8259b3"/>
<circle cx="106.7" cy="499.3" r="0.8" fill="#8259b3"/>
<circle cx="101.8" cy="508.5" r="0.8" fill="#8259b3"/>
<circle cx="96.4" cy="506.2" r="0.8" fill="#8259b3"/>
<circle cx="115.3" cy="504.0" r="0.8" fill="#8259b3"/>
<circle cx="118.2" cy="493.9" r="0.8" fill="#8259b3"/>
<circle cx="104.3" cy="499.0" r="0.8" fill="#8259b3"/>
<circle cx="111.1" cy="508.6" r="0.8" fill="#8259b3"/>
<circle cx="98.5" cy="494.7" r="0.8" fill="#8259b3"/>
<circle cx="105.7" cy="494.1" r="0.8" fill="#8259b3"/>
<circle cx="100.9" cy="492.4" r="0.8" fill="#8259b3"/>
<circle cx="118.5" cy="507.7" r="0.8" fill="#8259b3"/>
<circle cx="111.9" cy="505.6" r="0.8" fill="#8259b3"/>
<circle cx="115.6" cy="492.2" r="0.8" fill="#8259b3"/>
<circle cx="118.2" cy="504.7" r="0.8" fill="#8259b3"/>
<circle cx="111.2" cy="506.7" r="0.8" fill="#8259b3"/>
<circle cx="99.7" cy="497.1" r="0.8" fill="#8259b3"/>
<circle cx="101.2" cy="504.1" r="0.8" fill="#8259b3"/>
<circle cx="106.8" cy="498.1" r="0.8" fill="#8259b3"/>
<circle cx="116.1" cy="509.0" r="0.8" fill="#8259b3"/>
<circle cx="116.1" cy="504.9" r="0.8" fill="#8259b3"/>
<circle cx="102.8" cy="495.8" r="0.8" fill="#8259b3"/>
<circle cx="115.1" cy="496.4" r="0.8" fill="#8259b3"/>
<circle cx="121.6" cy="505.3" r="0.8" fill="#8259b3"/>
<circle cx="103.4" cy="495.3" r="0.8" fill="#8259b3"/>
<circle cx="101.8" cy="506.3" r="0.8" fill="#8259b3"/>
<circle cx="100.8" cy="493.0" r="0.8" fill="#8259b3"/>
<circle cx="103.3" cy="502.9" r="0.8" fill="#8259b3"/>
<circle cx="116.0" cy="508.5" r="0.8" fill="#8259b3"/>
<circle cx="112.6" cy="507.8" r="0.8" fill="#8259b3"/>
<circle cx="99.9" cy="507.1" r="0.8" fill="#8259b3"/>
<circle cx="109.4" cy="498.4" r="0.8" fill="#8259b3"/>
<circle cx="105.0" cy="494.2" r="0.8" fill="#8259b3"/>
<circle cx="110.1" cy="492.9" r="0.8" fill="#8259b3"/>
<circle cx="97.1" cy="508.2" r="0.8" fill="#8259b3"/>
<circle cx="105.7" cy="499.2" r="0.8" fill="#8259b3"/>
<circle cx="101.6" cy="495.2" r="0.8" fill="#8259b3"/>
<circle cx="100.6" cy="502.8" r="0.8" fill="#8259b3"/>
<circle cx="108.5" cy="494.2" r="0.8" fill="#8259b3"/>
<circle cx="117.5" cy="501.6" r="0.8" fill="#8259b3"/>
<circle cx="97.0" cy="499.8" r="0.8" fill="#8259b3"/>
<circle cx="113.4" cy="503.7" r="0.8" fill="#8259b3"/>
<circle cx="121.8" cy="506.9" r="0.8" fill="#8259b3"/>
<circle cx="108.1" cy="496.3" r="0.8" fill="#8259b3"/>
<circle cx="103.0" cy="508.2" r="0.8" fill="#8259b3"/>
<circle cx="116.9" cy="493.0" r="0.8" fill="#8259b3"/>
<circle cx="107.3" cy="507.9" r="0.8" fill="#8259b3"/>
<circle cx="105.9" cy="507.7" r="0.8" fill="#8259b3"/>
<circle cx="123.5" cy="508.6" r="0.8" fill="#8259b3"/>
<circle cx="102.7" cy="493.0" r="0.8" fill="#8259b3"/>
<circle cx="98.0" cy="507.4" r="0.8" fill="#8259b3"/>
<circle cx="96.0" cy="506.2" r="0.8" fill="#8259b3"/>
<circle cx="110.2" cy="491.6" r="0.8" fill="#8259b3"/>
<circle cx="99.0" cy="505.9" r="0.8" fill="#8259b3"/>
<circle cx="117.4" cy="500.5" r="0.8" fill="#8259b3"/>
<circle cx="104.2" cy="507.0" r="0.8" fill="#8259b3"/>
<circle cx="97.4" cy="504.1" r="0.8" fill="#8259b3"/>
<circle cx="116.6" cy="490.3" r="0.8" fill="#8259b3"/>
<circle cx="102.7" cy="499.6" r="0.8" fill="#8259b3"/>
<circle cx="115.9" cy="493.8" r="0.8" fill="#8259b3"/>
<circle cx="97.8" cy="505.5" r="0.8" fill="#8259b3"/>
<circle cx="123.3" cy="507.4" r="0.8" fill="#8259b3"/>
<circle cx="118.9" cy="502.4" r="0.8" fill="#8259b3"/>
<circle cx="101.4" cy="504.2" r="0.8" fill="#8259b3"/>
<circle cx="103.7" cy="506.0" r="0.8" fill="#8259b3"/>
<circle cx="116.7" cy="502.3" r="0.8" fill="#8259b3"/>
<circle cx="99.6" cy="500.6" r="0.8" fill="#8259b3"/>
<circle cx="111.5" cy="509.5" r="0.8" fill="#8259b3"/>
<circle cx="117.3" cy="496.5" r="0.8" fill="#8259b3"/>
<circle cx="103.9" cy="491.3" r="0.8" fill="#8259b3"/>
<circle cx="119.0" cy="503.9" r="0.8" fill="#8259b3"/>
<circle cx="105.1" cy="501.6" r="0.8" fill="#8259b3"/>
<circle cx="104.7" cy="501.5" r="0.8" fill="#8259b3"/>
<circle cx="97.2" cy="504.8" r="0.8" fill="#8259b3"/>
<circle cx="113.4" cy="490.4" r="0.8" fill="#8259b3"/>
<circle cx="117.1" cy="504.4" r="0.8" fill="#8259b3"/>
<circle cx="117.0" cy="492.1" r="0.8" fill="#8259b3"/>
<circle cx="101.6" cy="495.5" r="0.8" fill="#8259b3"/>
<circle cx="105.5" cy="491.5" r="0.8" fill="#8259b3"/>
<circle cx="97.9" cy="498.0" r="0.8" fill="#8259b3"/>
<circle cx="104.2" cy="491.9" r="0.8" fill="#8259b3"/>
<circle cx="104.4" cy="491.4" r="0.8" fill="#8259b3"/>
<circle cx="116.7" cy="495.0" r="0.8" fill="#8259b3"/>
<circle cx="113.9" cy="508.7" r="0.8" fill="#8259b3"/>
<circle cx="107.8" cy="502.3" r="0.8" fill="#8259b3"/>
<circle cx="117.9" cy="492.7" r="0.8" fill="#8259b3"/>
<circle cx="120.6" cy="505.1" r="0.8" fill="#8259b3"/>
<circle cx="104.3" cy="504.3" r="0.8" fill="#8259b3"/>
<circle cx="96.9" cy="502.6" r="0.8" fill="#8259b3"/>
<circle cx="100.8" cy="508.2" r="0.8" fill="#8259b3"/>
<circle cx="99.9" cy="499.7" r="0.8" fill="#8259b3"/>
<circle cx="106.2" cy="492.3" r="0.8" fill="#8259b3"/>
<circle cx="113.3" cy="490.3" r="0.8" fill="#8259b3"/>
<circle cx="108.3" cy="490.2" r="0.8" fill="#8259b3"/>
<circle cx="116.4" cy="503.0" r="0.8" fill="#8259b3"/>
<circle cx="97.1" cy="497.0" r="0.8" fill="#8259b3"/>
<circle cx="119.3" cy="498.5" r="0.8" fill="#8259b3"/>
<circle cx="108.7" cy="500.7" r="0.8" fill="#8259b3"/>
<circle cx="100.2" cy="501.8" r="0.8" fill="#8259b3"/>
<circle cx="115.2" cy="507.0" r="0.8" fill="#8259b3"/>
<circle cx="122.0" cy="509.0" r="0.8" fill="#8259b3"/>
<circle cx="112.0" cy="500.3" r="0.8" fill="#8259b3"/>
<circle cx="115.9" cy="500.4" r="0.8" fill="#8259b3"/>
<circle cx="96.6" cy="498.3" r="0.8" fill="#8259b3"/>
<circle cx="104.8" cy="504.9" r="0.8" fill="#8259b3"/>
<circle cx="116.7" cy="492.3" r="0.8" fill="#8259b3"/>
<circle cx="105.5" cy="494.3" r="0.8" fill="#8259b3"/>
<circle cx="122.4" cy="505.3" r="0.8" fill="#8259b3"/>
<circle cx="103.1" cy="502.6" r="0.8" fill="#8259b3"/>
<circle cx="116.4" cy="505.7" r="0.8" fill="#8259b3"/>
<circle cx="110.6" cy="498.8" r="0.8" fill="#8259b3"/>
<circle cx="114.4" cy="506.6" r="0.8" fill="#8259b3"/>
<circle cx="111.1" cy="492.4" r="0.8" fill="#8259b3"/>
<circle cx="110.8" cy="493.2" r="0.8" fill="#8259b3"/>
<circle cx="120.5" cy="501.9" r="0.8" fill="#8259b3"/>
<circle cx="122.3" cy="505.2" r="0.8" fill="#8259b3"/>
<circle cx="98.2" cy="496.0" r="0.8" fill="#8259b3"/>
<circle cx="118.5" cy="500.5" r="0.8" fill="#8259b3"/>
<circle cx="112.3" cy="504.1" r="0.8" fill="#8259b3"/>
<circle cx="102.3" cy="500.6" r="0.8" fill="#8259b3"/>
<circle cx="109.6" cy="499.5" r="0.8" fill="#8259b3"/>
<circle cx="96.6" cy="509.6" r="0.8" fill="#8259b3"/>
<circle cx="104.3" cy="494.1" r="0.8" fill="#8259b3"/>
<circle cx="116.8" cy="504.6" r="0.8" fill="#8259b3"/>
<circle cx="101.7" cy="498.5" r="0.8" fill="#8259b3"/>
<circle cx="99.2" cy="496.6" r="0.8" fill="#8259b3"/>
<circle cx="121.6" cy="505.3" r="0.8" fill="#8259b3"/>
<circle cx="111.8" cy="494.1" r="0.8" fill="#8259b3"/>
<circle cx="116.9" cy="494.2" r="0.8" fill="#8259b3"/>
<circle cx="115.7" cy="503.8" r="0.8" fill="#8259b3"/>
<circle cx="107.4" cy="507.8" r="0.8" fill="#8259b3"/>
<circle cx="114.7" cy="506.6" r="0.8" fill="#8259b3"/>
<circle cx="108.0" cy="495.8" r="0.8" fill="#8259b3"/>
<circle cx="117.4" cy="504.4" r="0.8" fill="#8259b3"/>
<circle cx="99.9" cy="506.2" r="0.8" fill="#8259b3"/>
<circle cx="106.4" cy="496.3" r="0.8" fill="#8259b3"/>
<circle cx="103.1" cy="506.2" r="0.8" fill="#8259b3"/>
<circle cx="100.5" cy="507.9" r="0.8" fill="#8259b3"/>
<circle cx="99.7" cy="502.9" r="0.8" fill="#8259b3"/>
<circle cx="109.3" cy="505.7" r="0.8" fill="#8259b3"/>
<circle cx="108.6" cy="500.2" r="0.8" fill="#8259b3"/>
<circle cx="99.9" cy="496.9" r="0.8" fill="#8259b3"/>
<circle cx="98.3" cy="506.0" r="0.8" fill="#8259b3"/>
<circle cx="104.7" cy="500.5" r="0.8" fill="#8259b3"/>
<circle cx="104.6" cy="494.7" r="0.8" fill="#8259b3"/>
<circle cx="105.9" cy="506.4" r="0.8" fill="#8259b3"/>
<circle cx="116.2" cy="502.0" r="0.8" fill="#8259b3"/>
<circle cx="113.2" cy="489.7" r="0.8" fill="#8259b3"/>
<circle cx="106.2" cy="500.3" r="0.8" fill="#8259b3"/>
<circle cx="103.0" cy="497.7" r="0.8" fill="#8259b3"/>
<circle cx="114.2" cy="493.7" r="0.8" fill="#8259b3"/>
<circle cx="123.0" cy="506.6" r="0.8" fill="#8259b3"/>
<circle cx="105.1" cy="491.2" r="0.8" fill="#8259b3"/>
<circle cx="118.2" cy="496.9" r="0.8" fill="#8259b3"/>
<circle cx="114.7" cy="502.3" r="0.8" fill="#8259b3"/>
<circle cx="106.2" cy="505.8" r="0.8" fill="#8259b3"/>
<circle cx="118.5" cy="509.1" r="0.8" fill="#8259b3"/>
<circle cx="103.8" cy="499.3" r="0.8" fill="#8259b3"/>
<circle cx="109.1" cy="501.8" r="0.8" fill="#8259b3"/>
<circle cx="121.4" cy="502.1" r="0.8" fill="#8259b3"/>
<circle cx="113.5" cy="499.4" r="0.8" fill="#8259b3"/>
<circle cx="104.0" cy="501.3" r="0.8" fill="#8259b3"/>
<circle cx="112.6" cy="492.6" r="0.8" fill="#8259b3"/>
<circle cx="101.8" cy="501.7" r="0.8" fill="#8259b3"/>
<circle cx="105.7" cy="501.8" r="0.8" fill="#8259b3"/>
<circle cx="102.3" cy="502.5" r="0.8" fill="#8259b3"/>
<circle cx="119.1" cy="506.2" r="0.8" fill="#8259b3"/>
<circle cx="115.1" cy="509.2" r="0.8" fill="#8259b3"/>
<circle cx="99.7" cy="508.4" r="0.8" fill="#8259b3"/>
<circle cx="118.6" cy="506.5" r="0.8" fill="#8259b3"/>
<circle cx="100.8" cy="508.5" r="0.8" fill="#8259b3"/>
<circle cx="101.9" cy="493.8" r="0.8" fill="#8259b3"/>
<circle cx="116.0" cy="489.9" r="0.8" fill="#8259b3"/>
<circle cx="122.2" cy="507.8" r="0.8" fill="#8259b3"/>
<circle cx="99.7" cy="493.5" r="0.8" fill="#8259b3"/>
<circle cx="120.2" cy="501.3" r="0.8" fill="#8259b3"/>
<circle cx="117.0" cy="496.7" r="0.8" fill="#8259b3"/>
<circle cx="123.9" cy="508.9" r="0.8" fill="#8259b3"/>
<circle cx="95.5" cy="507.0" r="0.8" fill="#8259b3"/>
<circle cx="113.2" cy="507.3" r="0.8" fill="#8259b3"/>
<circle cx="98.8" cy="505.8" r="0.8" fill="#8259b3"/>
<circle cx="112.6" cy="495.1" r="0.8" fill="#8259b3"/>
<circle cx="105.8" cy="504.2" r="0.8" fill="#8259b3"/>
<circle cx="99.2" cy="505.8" r="0.8" fill="#8259b3"/>
<circle cx="98.5" cy="502.1" r="0.8" fill="#8259b3"/>
<circle cx="116.5" cy="508.4" r="0.8" fill="#8259b3"/>
<circle cx="110.1" cy="494.9" r="0.8" fill="#8259b3"/>
<circle cx="118.2" cy="497.2" r="0.8" fill="#8259b3"/>
<circle cx="107.7" cy="490.6" r="0.8" fill="#8259b3"/>
<circle cx="112.3" cy="502.4" r="0.8" fill="#8259b3"/>
<circle cx="111.1" cy="506.6" r="0.8" fill="#8259b3"/>
<circle cx="99.2" cy="501.4" r="0.8" fill="#8259b3"/>
<circle cx="115.1" cy="509.6" r="0.8" fill="#8259b3"/>
<circle cx="109.7" cy="509.6" r="0.8" fill="#8259b3"/>
<circle cx="118.4" cy="500.7" r="0.8" fill="#8259b3"/>
<circle cx="114.4" cy="497.3" r="0.8" fill="#8259b3"/>
<circle cx="116.2" cy="500.8" r="0.8" fill="#8259b3"/>
<circle cx="103.5" cy="501.5" r="0.8" fill="#8259b3"/>
<circle cx="115.0" cy="502.8" r="0.8" fill="#8259b3"/>
<circle cx="117.1" cy="504.0" r="0.8" fill="#8259b3"/>
<circle cx="112.6" cy="506.3" r="0.8" fill="#8259b3"/>
<circle cx="120.2" cy="499.1" r="0.8" fill="#8259b3"/>
<circle cx="117.1" cy="506.5" r="0.8" fill="#8259b3"/>
<circle cx="117.2" cy="497.3" r="0.8" fill="#8259b3"/>
<circle cx="97.0" cy="503.7" r="0.8" fill="#8259b3"/>
<circle cx="107.4" cy="493.9" r="0.8" fill="#8259b3"/>
<circle cx="101.7" cy="493.9" r="0.8" fill="#8259b3"/>
<circle cx="113.8" cy="507.6" r="0.8" fill="#8259b3"/>
<circle cx="109.0" cy="494.0" r="0.8" fill="#8259b3"/>
<circle cx="100.4" cy="495.5" r="0.8" fill="#8259b3"/>
<circle cx="102.4" cy="501.7" r="0.8" fill="#8259b3"/>
<circle cx="111.4" cy="492.2" r="0.8" fill="#8259b3"/>
<circle cx="117.2" cy="499.8" r="0.8" fill="#8259b3"/>
<circle cx="120.4" cy="501.0" r="0.8" fill="#8259b3"/>
<circle cx="98.3" cy="495.0" r="0.8" fill="#8259b3"/>
<circle cx="110.5" cy="493.6" r="0.8" fill="#8259b3"/>
<circle cx="97.8" cy="495.9" r="0.8" fill="#8259b3"/>
<circle cx="105.4" cy="504.3" r="0.8" fill="#8259b3"/>
<circle cx="118.9" cy="509.0" r="0.8" fill="#8259b3"/>
<circle cx="108.5" cy="507.8" r="0.8" fill="#8259b3"/>
<circle cx="108.2" cy="494.1" r="0.8" fill="#8259b3"/>
<circle cx="116.3" cy="502.3" r="0.8" fill="#8259b3"/>
<circle cx="122.5" cy="505.7" r="0.8" fill="#8259b3"/>
<circle cx="97.5" cy="505.7" r="0.8" fill="#8259b3"/>
<circle cx="109.2" cy="502.4" r="0.8" fill="#8259b3"/>
<circle cx="108.4" cy="492.6" r="0.8" fill="#8259b3"/>
<circle cx="117.6" cy="496.0" r="0.8" fill="#8259b3"/>
<circle cx="110.2" cy="491.1" r="0.8" fill="#8259b3"/>
<circle cx="107.5" cy="507.6" r="0.8" fill="#8259b3"/>
<circle cx="114.8" cy="493.5" r="0.8" fill="#8259b3"/>
<circle cx="100.9" cy="499.7" r="0.8" fill="#8259b3"/>
<circle cx="122.2" cy="506.2" r="0.8" fill="#8259b3"/>
<circle cx="114.9" cy="497.7" r="0.8" fill="#8259b3"/>
<circle cx="106.3" cy="506.1" r="0.8" fill="#8259b3"/>
<circle cx="98.0" cy="499.5" r="0.8" fill="#8259b3"/>
<circle cx="109.0" cy="503.9" r="0.8" fill="#8259b3"/>
<circle cx="105.1" cy="497.7" r="0.8" fill="#8259b3"/>
<circle cx="117.3" cy="496.9" r="0.8" fill="#8259b3"/>
<circle cx="105.7" cy="497.8" r="0.8" fill="#8259b3"/>
<circle cx="103.5" cy="509.1" r="0.8" fill="#8259b3"/>
<circle cx="100.1" cy="507.0" r="0.8" fill="#8259b3"/>
<circle cx="102.6" cy="496.0" r="0.8" fill="#8259b3"/>
<circle cx="114.9" cy="501.8" r="0.8" fill="#8259b3"/>
<circle cx="110.5" cy="491.0" r="0.8" fill="#8259b3"/>
<circle cx="114.4" cy="501.9" r="0.8" fill="#8259b3"/>
<circle cx="112.4" cy="503.2" r="0.8" fill="#8259b3"/>
<circle cx="123.8" cy="508.3" r="0.8" fill="#8259b3"/>
<circle cx="100.1" cy="498.7" r="0.8" fill="#8259b3"/>
<circle cx="114.4" cy="494.9" r="0.8" fill="#8259b3"/>
<circle cx="114.7" cy="494.2" r="0.8" fill="#8259b3"/>
<circle cx="103.4" cy="497.4" r="0.8" fill="#8259b3"/>
<circle cx="119.2" cy="509.4" r="0.8" fill="#8259b3"/>
<circle cx="100.0" cy="505.8" r="0.8" fill="#8259b3"/>
<circle cx="119.4" cy="507.5" r="0.8" fill="#8259b3"/>
<circle cx="106.3" cy="494.6" r="0.8" fill="#8259b3"/>
<circle cx="116.8" cy="503.8" r="0.8" fill="#8259b3"/>
<circle cx="98.4" cy="501.8" r="0.8" fill="#8259b3"/>
<circle cx="114.2" cy="489.0" r="0.8" fill="#8259b3"/>
<circle cx="113.0" cy="495.5" r="0.8" fill="#8259b3"/>
<circle cx="98.8" cy="493.9" r="0.8" fill="#8259b3"/>
<circle cx="110.8" cy="501.9" r="0.8" fill="#8259b3"/>
<circle cx="121.5" cy="504.2" r="0.8" fill="#8259b3"/>
<circle cx="98.2" cy="506.3" r="0.8" fill="#8259b3"/>
<circle cx="98.4" cy="496.9" r="0.8" fill="#8259b3"/>
<circle cx="118.5" cy="506.2" r="0.8" fill="#8259b3"/>
<circle cx="109.3" cy="497.2" r="0.8" fill="#8259b3"/>
<circle cx="111.1" cy="500.8" r="0.8" fill="#8259b3"/>
<circle cx="110.5" cy="509.4" r="0.8" fill="#8259b3"/>
<circle cx="101.1" cy="493.3" r="0.8" fill="#8259b3"/>
<circle cx="101.3" cy="491.8" r="0.8" fill="#8259b3"/>
<circle cx="101.2" cy="507.7" r="0.8" fill="#8259b3"/>
<circle cx="108.5" cy="501.3" r="0.8" fill="#8259b3"/>
<circle cx="104.1" cy="493.1" r="0.8" fill="#8259b3"/>
<circle cx="100.6" cy="495.2" r="0.8" fill="#8259b3"/>
<circle cx="119.5" cy="499.9" r="0.8" fill="#8259b3"/>
<circle cx="112.4" cy="505.8" r="0.8" fill="#8259b3"/>
<circle cx="95.9" cy="507.9" r="0.8" fill="#8259b3"/>
<circle cx="104.0" cy="507.8" r="0.8" fill="#8259b3"/>
<circle cx="113.8" cy="500.5" r="0.8" fill="#8259b3"/>
<circle cx="103.3" cy="498.6" r="0.8" fill="#8259b3"/>
<circle cx="98.6" cy="503.1" r="0.8" fill="#8259b3"/>
<circle cx="115.6" cy="500.4" r="0.8" fill="#8259b3"/>
<circle cx="98.9" cy="508.7" r="0.8" fill="#8259b3"/>
<circle cx="113.8" cy="506.3" r="0.8" fill="#8259b3"/>
<circle cx="113.1" cy="508.5" r="0.8" fill="#8259b3"/>
<circle cx="109.4" cy="502.4" r="0.8" fill="#8259b3"/>
<circle cx="115.9" cy="498.6" r="0.8" fill="#8259b3"/>
<circle cx="99.0" cy="495.2" r="0.8" fill="#8259b3"/>
<circle cx="107.1" cy="495.4" r="0.8" fill="#8259b3"/>
<circle cx="106.1" cy="505.4" r="0.8" fill="#8259b3"/>
<circle cx="102.0" cy="495.1" r="0.8" fill="#8259b3"/>
<circle cx="100.7" cy="501.0" r="0.8" fill="#8259b3"/>
<circle cx="115.0" cy="500.4" r="0.8" fill="#8259b3"/>
<circle cx="98.6" cy="508.2" r="0.8" fill="#8259b3"/>
<circle cx="122.1" cy="507.5" r="0.8" fill="#8259b3"/>
<circle cx="109.3" cy="499.1" r="0.8" fill="#8259b3"/>
<circle cx="99.8" cy="495.2" r="0.8" fill="#8259b3"/>
<circle cx="109.1" cy="492.1" r="0.8" fill="#8259b3"/>
<circle cx="118.9" cy="499.4" r="0.8" fill="#8259b3"/>
<circle cx="98.2" cy="499.2" r="0.8" fill="#8259b3"/>
<circle cx="97.7" cy="494.8" r="0.8" fill="#8259b3"/>
<circle cx="115.3" cy="497.2" r="0.8" fill="#8259b3"/>
<circle cx="123.9" cy="508.7" r="0.8" fill="#8259b3"/>
<circle cx="115.8" cy="492.3" r="0.8" fill="#8259b3"/>
<circle cx="97.3" cy="502.7" r="0.8" fill="#8259b3"/>
<circle cx="116.1" cy="502.2" r="0.8" fill="#8259b3"/>
<circle cx="115.2" cy="501.8" r="0.8" fill="#8259b3"/>
<circle cx="115.7" cy="503.7" r="0.8" fill="#8259b3"/>
<circle cx="116.2" cy="490.9" r="0.8" fill="#8259b3"/>
<circle cx="113.4" cy="506.3" r="0.8" fill="#8259b3"/>
<circle cx="97.3" cy="501.4" r="0.8" fill="#8259b3"/>
<circle cx="114.5" cy="509.6" r="0.8" fill="#8259b3"/>
<circle cx="113.6" cy="489.1" r="0.8" fill="#8259b3"/>
<circle cx="111.2" cy="505.4" r="0.8" fill="#8259b3"/>
<circle cx="109.8" cy="499.2" r="0.8" fill="#8259b3"/>
<circle cx="104.2" cy="501.6" r="0.8" fill="#8259b3"/>
<circle cx="109.5" cy="496.9" r="0.8" fill="#8259b3"/>
<circle cx="100.7" cy="503.7" r="0.8" fill="#8259b3"/>
<circle cx="109.3" cy="498.8" r="0.8" fill="#8259b3"/>
<circle cx="106.7" cy="495.3" r="0.8" fill="#8259b3"/>
<circle cx="99.5" cy="498.2" r="0.8" fill="#8259b3"/>
<circle cx="102.3" cy="493.0" r="0.8" fill="#8259b3"/>
<circle cx="115.5" cy="492.7" r="0.8" fill="#8259b3"/>
<circle cx="109.7" cy="504.3" r="0.8" fill="#8259b3"/>
<circle cx="105.4" cy="503.4" r="0.8" fill="#8259b3"/>
<circle cx="106.2" cy="494.3" r="0.8" fill="#8259b3"/>
<circle cx="119.0" cy="499.2" r="0.8" fill="#8259b3"/>
<circle cx="116.3" cy="505.1" r="0.8" fill="#8259b3"/>
<circle cx="107.7" cy="501.9" r="0.8" fill="#8259b3"/>
<circle cx="103.2" cy="501.9" r="0.8" fill="#8259b3"/>
<circle cx="117.0" cy="493.8" r="0.8" fill="#8259b3"/>
<circle cx="100.2" cy="504.6" r="0.8" fill="#8259b3"/>
<circle cx="118.0" cy="495.5" r="0.8" fill="#8259b3"/>
<circle cx="114.6" cy="495.9" r="0.8" fill="#8259b3"/>
<circle cx="115.2" cy="503.8" r="0.8" fill="#8259b3"/>
<circle cx="95.7" cy="501.9" r="0.8" fill="#8259b3"/>
<circle cx="110.0" cy="495.2" r="0.8" fill="#8259b3"/>
<circle cx="100.9" cy="502.4" r="0.8" fill="#8259b3"/>
<circle cx="116.5" cy="499.1" r="0.8" fill="#8259b3"/>
<circle cx="105.2" cy="503.9" r="0.8" fill="#8259b3"/>
<circle cx="108.8" cy="494.2" r="0.8" fill="#8259b3"/>
<circle cx="120.5" cy="500.2" r="0.8" fill="#8259b3"/>
<circle cx="106.8" cy="502.9" r="0.8" fill="#8259b3"/>
<circle cx="98.7" cy="503.6" r="0.8" fill="#8259b3"/>
<circle cx="104.0" cy="491.2" r="0.8" fill="#8259b3"/>
<circle cx="99.7" cy="492.9" r="0.8" fill="#8259b3"/>
<circle cx="105.3" cy="507.1" r="0.8" fill="#8259b3"/>
<circle cx="106.0" cy="496.8" r="0.8" fill="#8259b3"/>
<circle cx="101.7" cy="509.3" r="0.8" fill="#8259b3"/>
<circle cx="105.8" cy="501.5" r="0.8" fill="#8259b3"/>
<circle cx="117.2" cy="502.5" r="0.8" fill="#8259b3"/>
<circle cx="114.7" cy="496.1" r="0.8" fill="#8259b3"/>
<circle cx="99.6" cy="509.3" r="0.8" fill="#8259b3"/>
<circle cx="114.6" cy="496.4" r="0.8" fill="#8259b3"/>
<circle cx="102.8" cy="505.4" r="0.8" fill="#8259b3"/>
<circle cx="101.0" cy="497.0" r="0.8" fill="#8259b3"/>
<circle cx="111.5" cy="502.7" r="0.8" fill="#8259b3"/>
<circle cx="113.6" cy="496.6" r="0.8" fill="#8259b3"/>
<circle cx="109.5" cy="507.1" r="0.8" fill="#8259b3"/>
<circle cx="100.4" cy="503.0" r="0.8" fill="#8259b3"/>
<circle cx="106.6" cy="501.8" r="0.8" fill="#8259b3"/>
<circle cx="121.6" cy="507.2" r="0.8" fill="#8259b3"/>
<circle cx="120.2" cy="504.4" r="0.8" fill="#8259b3"/>
<circle cx="111.9" cy="501.5" r="0.8" fill="#8259b3"/>
<circle cx="118.8" cy="503.9" r="0.8" fill="#8259b3"/>
<circle cx="117.7" cy="499.3" r="0.8" fill="#8259b3"/>
<circle cx="105.5" cy="504.8" r="0.8" fill="#8259b3"/>
<circle cx="113.0" cy="492.8" r="0.8" fill="#8259b3"/>
<circle cx="119.7" cy="497.8" r="0.8" fill="#8259b3"/>
<circle cx="105.7" cy="492.3" r="0.8" fill="#8259b3"/>
<circle cx="97.0" cy="504.1" r="0.8" fill="#8259b3"/>
<circle cx="117.0" cy="500.1" r="0.8" fill="#8259b3"/>
<circle cx="108.0" cy="505.1" r="0.8" fill="#8259b3"/>
<circle cx="96.6" cy="501.7" r="0.8" fill="#8259b3"/>
<circle cx="107.1" cy="498.7" r="0.8" fill="#8259b3"/>
<circle cx="102.7" cy="494.5" r="0.8" fill="#8259b3"/>
<circle cx="99.0" cy="498.6" r="0.8" fill="#8259b3"/>
<circle cx="109.0" cy="501.6" r="0.8" fill="#8259b3"/>
<circle cx="120.3" cy="505.2" r="0.8" fill="#8259b3"/>
<circle cx="120.8" cy="501.9" r="0.8" fill="#8259b3"/>
<circle cx="104.1" cy="496.4" r="0.8" fill="#8259b3"/>
<circle cx="111.2" cy="503.5" r="0.8" fill="#8259b3"/>
<circle cx="105.2" cy="507.2" r="0.8" fill="#8259b3"/>
<circle cx="114.0" cy="498.2" r="0.8" fill="#8259b3"/>
<circle cx="103.9" cy="502.6" r="0.8" fill="#8259b3"/>
<circle cx="119.8" cy="502.4" r="0.8" fill="#8259b3"/>
<circle cx="104.9" cy="501.0" r="0.8" fill="#8259b3"/>
<circle cx="98.8" cy="495.3" r="0.8" fill="#8259b3"/>
<circle cx="114.3" cy="500.0" r="0.8" fill="#8259b3"/>
<circle cx="106.3" cy="504.7" r="0.8" fill="#8259b3"/>
<circle cx="118.1" cy="499.8" r="0.8" fill="#8259b3"/>
<circle cx="119.4" cy="501.6" r="0.8" fill="#8259b3"/>
<circle cx="116.4" cy="509.1" r="0.8" fill="#8259b3"/>
<circle cx="114.8" cy="495.0" r="0.8" fill="#8259b3"/>
<circle cx="109.1" cy="499.5" r="0.8" fill="#8259b3"/>
<circle cx="99.9" cy="506.0" r="0.8" fill="#8259b3"/>
<circle cx="113.7" cy="494.6" r="0.8" fill="#8259b3"/>
<circle cx="101.8" cy="495.7" r="0.8" fill="#8259b3"/>
<circle cx="98.0" cy="496.4" r="0.8" fill="#8259b3"/>
<circle cx="99.1" cy="498.6" r="0.8" fill="#8259b3"/>
<circle cx="103.5" cy="497.8" r="0.8" fill="#8259b3"/>
<circle cx="97.9" cy="499.2" r="0.8" fill="#8259b3"/>
<circle cx="112.8" cy="506.8" r="0.8" fill="#8259b3"/>
<circle cx="103.3" cy="495.0" r="0.8" fill="#8259b3"/>
<circle cx="110.6" cy="496.3" r="0.8" fill="#8259b3"/>
<circle cx="117.8" cy="497.3" r="0.8" fill="#8259b3"/>
<circle cx="100.6" cy="500.1" r="0.8" fill="#8259b3"/>
<circle cx="119.4" cy="497.4" r="0.8" fill="#8259b3"/>
<circle cx="117.0" cy="501.8" r="0.8" fill="#8259b3"/>
<circle cx="97.1" cy="496.4" r="0.8" fill="#8259b3"/>
<circle cx="109.8" cy="509.4" r="0.8" fill="#8259b3"/>
<circle cx="110.2" cy="491.0" r="0.8" fill="#8259b3"/>
<circle cx="104.2" cy="509.2" r="0.8" fill="#8259b3"/>
<circle cx="104.2" cy="508.3" r="0.8" fill="#8259b3"/>
<circle cx="97.5" cy="506.3" r="0.8" fill="#8259b3"/>
<circle cx="102.8" cy="503.7" r="0.8" fill="#8259b3"/>
<circle cx="107.4" cy="492.4" r="0.8" fill="#8259b3"/>
<circle cx="100.8" cy="507.7" r="0.8" fill="#8259b3"/>
<circle cx="112.7" cy="491.0" r="0.8" fill="#8259b3"/>
<circle cx="98.2" cy="494.5" r="0.8" fill="#8259b3"/>
<circle cx="108.1" cy="492.6" r="0.8" fill="#8259b3"/>
<circle cx="107.8" cy="505.4" r="0.8" fill="#8259b3"/>
<circle cx="116.7" cy="491.7" r="0.8" fill="#8259b3"/>
<circle cx="101.4" cy="494.6" r="0.8" fill="#8259b3"/>
<circle cx="106.0" cy="504.9" r="0.8" fill="#8259b3"/>
<circle cx="105.1" cy="498.6" r="0.8" fill="#8259b3"/>
<circle cx="109.2" cy="509.1" r="0.8" fill="#8259b3"/>
<circle cx="117.0" cy="493.5" r="0.8" fill="#8259b3"/>
<circle cx="120.8" cy="502.0" r="0.8" fill="#8259b3"/>
<circle cx="100.3" cy="502.2" r="0.8" fill="#8259b3"/>
<circle cx="116.4" cy="495.4" r="0.8" fill="#8259b3"/>
<circle cx="106.3" cy="498.3" r="0.8" fill="#8259b3"/>
<circle cx="108.3" cy="498.7" r="0.8" fill="#8259b3"/>
<circle cx="118.0" cy="505.4" r="0.8" fill="#8259b3"/>
<circle cx="116.1" cy="502.0" r="0.8" fill="#8259b3"/>
<circle cx="118.8" cy="507.7" r="0.8" fill="#8259b3"/>
<circle cx="102.3" cy="495.9" r="0.8" fill="#8259b3"/>
<circle cx="108.7" cy="501.5" r="0.8" fill="#8259b3"/>
<circle cx="111.6" cy="505.0" r="0.8" fill="#8259b3"/>
<circle cx="107.3" cy="509.7" r="0.8" fill="#8259b3"/>
<circle cx="118.4" cy="504.2" r="0.8" fill="#8259b3"/>
<circle cx="119.4" cy="497.7" r="0.8" fill="#8259b3"/>
<circle cx="112.3" cy="496.1" r="0.8" fill="#8259b3"/>
<circle cx="118.0" cy="495.0" r="0.8" fill="#8259b3"/>
<circle cx="118.9" cy="500.2" r="0.8" fill="#8259b3"/>
<circle cx="114.5" cy="489.0" r="0.8" fill="#8259b3"/>
<circle cx="99.6" cy="507.5" r="0.8" fill="#8259b3"/>
<circle cx="106.5" cy="498.6" r="0.8" fill="#8259b3"/>
<circle cx="98.4" cy="504.9" r="0.8" fill="#8259b3"/>
<circle cx="120.5" cy="501.3" r="0.8" fill="#8259b3"/>
<circle cx="98.4" cy="505.7" r="0.8" fill="#8259b3"/>
<circle cx="111.6" cy="505.6" r="0.8" fill="#8259b3"/>
<circle cx="108.4" cy="498.0" r="0.8" fill="#8259b3"/>
<circle cx="107.3" cy="498.8" r="0.8" fill="#8259b3"/>
<circle cx="119.6" cy="509.4" r="0.8" fill="#8259b3"/>
<circle cx="122.4" cy="505.4" r="0.8" fill="#8259b3"/>
<circle cx="111.4" cy="498.0" r="0.8" fill="#8259b3"/>
<circle cx="100.5" cy="492.7" r="0.8" fill="#8259b3"/>
<circle cx="103.2" cy="493.9" r="0.8" fill="#8259b3"/>
<circle cx="100.8" cy="497.3" r="0.8" fill="#8259b3"/>
<circle cx="113.8" cy="501.6" r="0.8" fill="#8259b3"/>
<circle cx="108.6" cy="508.3" r="0.8" fill="#8259b3"/>
<circle cx="113.6" cy="494.7" r="0.8" fill="#8259b3"/>
<circle cx="98.5" cy="497.8" r="0.8" fill="#8259b3"/>
<circle cx="116.4" cy="507.5" r="0.8" fill="#8259b3"/>
<circle cx="95.4" cy="504.3" r="0.8" fill="#8259b3"/>
<circle cx="96.4" cy="504.2" r="0.8" fill="#8259b3"/>
<circle cx="96.5" cy="499.1" r="0.8" fill="#8259b3"/>
<circle cx="101.5" cy="503.2" r="0.8" fill="#8259b3"/>
<circle cx="108.0" cy="501.6" r="0.8" fill="#8259b3"/>
<circle cx="118.1" cy="494.0" r="0.8" fill="#8259b3"/>
<circle cx="97.3" cy="504.9" r="0.8" fill="#8259b3"/>
<circle cx="100.2" cy="508.9" r="0.8" fill="#8259b3"/>
<circle cx="117.1" cy="500.8" r="0.8" fill="#8259b3"/>
<circle cx="103.4" cy="508.1" r="0.8" fill="#8259b3"/>
<circle cx="107.4" cy="500.2" r="0.8" fill="#8259b3"/>
<circle cx="117.5" cy="491.7" r="0.8" fill="#8259b3"/>
<circle cx="108.5" cy="505.8" r="0.8" fill="#8259b3"/>
<circle cx="106.4" cy="495.4" r="0.8" fill="#8259b3"/>
<circle cx="111.0" cy="499.7" r="0.8" fill="#8259b3"/>
<circle cx="111.5" cy="504.4" r="0.8" fill="#8259b3"/>
<circle cx="111.0" cy="490.9" r="0.8" fill="#8259b3"/>
<circle cx="96.3" cy="501.7" r="0.8" fill="#8259b3"/>
<circle cx="113.3" cy="491.4" r="0.8" fill="#8259b3"/>
<circle cx="108.3" cy="506.9" r="0.8" fill="#8259b3"/>
<circle cx="103.0" cy="494.2" r="0.8" fill="#8259b3"/>
<circle cx="116.2" cy="505.3" r="0.8" fill="#8259b3"/>
<circle cx="113.6" cy="495.4" r="0.8" fill="#8259b3"/>
<circle cx="114.1" cy="509.2" r="0.8" fill="#8259b3"/>
<circle cx="107.4" cy="502.7" r="0.8" fill="#8259b3"/>
<circle cx="112.2" cy="502.4" r="0.8" fill="#8259b3"/>
<circle cx="97.7" cy="495.2" r="0.8" fill="#8259b3"/>
<circle cx="102.6" cy="492.5" r="0.8" fill="#8259b3"/>
<circle cx="103.2" cy="497.9" r="0.8" fill="#8259b3"/>
<circle cx="118.7" cy="507.2" r="0.8" fill="#8259b3"/>
<circle cx="116.3" cy="508.2" r="0.8" fill="#8259b3"/>
<circle cx="122.6" cy="509.2" r="0.8" fill="#8259b3"/>
<circle cx="116.1" cy="501.7" r="0.8" fill="#8259b3"/>
<circle cx="99.3" cy="501.1" r="0.8" fill="#8259b3"/>
<circle cx="109.2" cy="500.7" r="0.8" fill="#8259b3"/>
<circle cx="97.6" cy="498.4" r="0.8" fill="#8259b3"/>
<circle cx="105.6" cy="500.3" r="0.8" fill="#8259b3"/>
<circle cx="103.7" cy="495.7" r="0.8" fill="#8259b3"/>
<circle cx="119.4" cy="501.2" r="0.8" fill="#8259b3"/>
<circle cx="117.1" cy="503.7" r="0.8" fill="#8259b3"/>
<circle cx="97.2" cy="508.8" r="0.8" fill="#8259b3"/>
<circle cx="107.6" cy="490.7" r="0.8" fill="#8259b3"/>
<circle cx="100.1" cy="500.1" r="0.8" fill="#8259b3"/>
<circle cx="117.3" cy="503.7" r="0.8" fill="#8259b3"/>
<circle cx="98.5" cy="498.4" r="0.8" fill="#8259b3"/>
<circle cx="121.4" cy="504.5" r="0.8" fill="#8259b3"/>
<circle cx="111.1" cy="500.7" r="0.8" fill="#8259b3"/>
<circle cx="111.9" cy="494.3" r="0.8" fill="#8259b3"/>
<circle cx="97.2" cy="503.2" r="0.8" fill="#8259b3"/>
<circle cx="115.8" cy="509.3" r="0.8" fill="#8259b3"/>
<circle cx="105.4" cy="507.0" r="0.8" fill="#8259b3"/>
<circle cx="108.4" cy="509.4" r="0.8" fill="#8259b3"/>
<circle cx="98.5" cy="504.9" r="0.8" fill="#8259b3"/>
<circle cx="96.3" cy="507.8" r="0.8" fill="#8259b3"/>
<circle cx="99.8" cy="498.5" r="0.8" fill="#8259b3"/>
<circle cx="106.6" cy="504.2" r="0.8" fill="#8259b3"/>
<circle cx="106.4" cy="496.7" r="0.8" fill="#8259b3"/>
<circle cx="120.4" cy="507.5" r="0.8" fill="#8259b3"/>
<circle cx="111.9" cy="494.1" r="0.8" fill="#8259b3"/>
<circle cx="102.4" cy="498.9" r="0.8" fill="#8259b3"/>
<circle cx="99.5" cy="500.2" r="0.8" fill="#8259b3"/>
<circle cx="102.5" cy="497.0" r="0.8" fill="#8259b3"/>
<circle cx="103.0" cy="503.7" r="0.8" fill="#8259b3"/>
<circle cx="113.6" cy="507.9" r="0.8" fill="#8259b3"/>
<circle cx="118.5" cy="498.9" r="0.8" fill="#8259b3"/>
<circle cx="100.8" cy="507.2" r="0.8" fill="#8259b3"/>
<circle cx="109.5" cy="498.8" r="0.8" fill="#8259b3"/>
<circle cx="116.0" cy="501.6" r="0.8" fill="#8259b3"/>
<circle cx="118.9" cy="496.4" r="0.8" fill="#8259b3"/>
<circle cx="108.1" cy="489.1" r="0.8" fill="#8259b3"/>
<circle cx="101.2" cy="491.4" r="0.8" fill="#8259b3"/>
<circle cx="115.8" cy="486.6" r="0.8" fill="#8259b3"/>
<circle cx="102.0" cy="490.3" r="0.8" fill="#8259b3"/>
<circle cx="105.1" cy="490.1" r="0.8" fill="#8259b3"/>
<circle cx="94.2" cy="499.0" r="0.8" fill="#8259b3"/>
<circle cx="94.5" cy="507.3" r="0.8" fill="#8259b3"/>
<circle cx="112.3" cy="487.0" r="0.8" fill="#8259b3"/>
<circle cx="103.8" cy="486.9" r="0.8" fill="#8259b3"/>
<circle cx="114.2" cy="486.7" r="0.8" fill="#8259b3"/>
<circle cx="104.1" cy="486.4" r="0.8" fill="#8259b3"/>
<circle cx="112.5" cy="485.2" r="0.8" fill="#8259b3"/>
<circle cx="94.2" cy="507.4" r="0.8" fill="#8259b3"/>
<circle cx="95.5" cy="499.3" r="0.8" fill="#8259b3"/>
<circle cx="94.2" cy="500.3" r="0.8" fill="#8259b3"/>
<circle cx="95.8" cy="496.4" r="0.8" fill="#8259b3"/>
<circle cx="105.4" cy="508.1" r="0.8" fill="#5f4d7e"/>
<circle cx="106.3" cy="509.4" r="0.8" fill="#5f4d7e"/>
<circle cx="116.3" cy="507.1" r="0.8" fill="#5f4d7e"/>
<circle cx="112.2" cy="509.3" r="0.8" fill="#5f4d7e"/>
<circle cx="112.3" cy="506.9" r="0.8" fill="#5f4d7e"/>
<circle cx="95.2" cy="506.8" r="0.8" fill="#5f4d7e"/>
<circle cx="114.3" cy="508.8" r="0.8" fill="#5f4d7e"/>
<circle cx="122.1" cy="507.0" r="0.8" fill="#5f4d7e"/>
<circle cx="121.4" cy="508.9" r="0.8" fill="#5f4d7e"/>
<circle cx="111.6" cy="508.5" r="0.8" fill="#5f4d7e"/>
<circle cx="102.9" cy="507.2" r="0.8" fill="#5f4d7e"/>
<circle cx="112.8" cy="508.6" r="0.8" fill="#5f4d7e"/>
<circle cx="110.5" cy="506.7" r="0.8" fill="#5f4d7e"/>
<circle cx="111.3" cy="506.7" r="0.8" fill="#5f4d7e"/>
<circle cx="111.2" cy="506.5" r="0.8" fill="#5f4d7e"/>
<circle cx="94.7" cy="508.2" r="0.8" fill="#5f4d7e"/>
<circle cx="110.8" cy="507.3" r="0.8" fill="#5f4d7e"/>
<circle cx="108.5" cy="507.6" r="0.8" fill="#5f4d7e"/>
<circle cx="110.2" cy="507.4" r="0.8" fill="#5f4d7e"/>
<circle cx="123.0" cy="509.7" r="0.8" fill="#5f4d7e"/>
<circle cx="103.7" cy="506.8" r="0.8" fill="#5f4d7e"/>
<circle cx="95.6" cy="507.1" r="0.8" fill="#5f4d7e"/>
<circle cx="94.8" cy="507.6" r="0.8" fill="#5f4d7e"/>
<circle cx="118.4" cy="508.9" r="0.8" fill="#5f4d7e"/>
<circle cx="105.5" cy="509.0" r="0.8" fill="#5f4d7e"/>
<circle cx="115.5" cy="508.0" r="0.8" fill="#5f4d7e"/>
<circle cx="112.5" cy="508.7" r="0.8" fill="#5f4d7e"/>
<circle cx="111.9" cy="506.6" r="0.8" fill="#5f4d7e"/>
<circle cx="117.8" cy="506.6" r="0.8" fill="#5f4d7e"/>
<circle cx="101.4" cy="508.0" r="0.8" fill="#5f4d7e"/>
<circle cx="105.7" cy="508.6" r="0.8" fill="#5f4d7e"/>
<circle cx="118.5" cy="509.1" r="0.8" fill="#5f4d7e"/>
<circle cx="111.0" cy="507.2" r="0.8" fill="#5f4d7e"/>
<circle cx="122.6" cy="509.7" r="0.8" fill="#5f4d7e"/>
<circle cx="102.1" cy="508.1" r="0.8" fill="#5f4d7e"/>
<circle cx="122.6" cy="509.2" r="0.8" fill="#5f4d7e"/>
<circle cx="119.7" cy="508.4" r="0.8" fill="#5f4d7e"/>
<circle cx="110.7" cy="506.7" r="0.8" fill="#5f4d7e"/>
<circle cx="95.8" cy="508.6" r="0.8" fill="#5f4d7e"/>
<circle cx="98.6" cy="509.3" r="0.8" fill="#5f4d7e"/>
<circle cx="103.2" cy="507.4" r="0.8" fill="#5f4d7e"/>
<circle cx="111.7" cy="509.3" r="0.8" fill="#5f4d7e"/>
<circle cx="118.5" cy="508.1" r="0.8" fill="#5f4d7e"/>
<circle cx="98.2" cy="507.0" r="0.8" fill="#5f4d7e"/>
<circle cx="119.1" cy="509.0" r="0.8" fill="#5f4d7e"/>
<circle cx="122.7" cy="507.1" r="0.8" fill="#5f4d7e"/>
<circle cx="100.9" cy="509.7" r="0.8" fill="#5f4d7e"/>
<circle cx="120.5" cy="507.0" r="0.8" fill="#5f4d7e"/>
<circle cx="96.8" cy="507.2" r="0.8" fill="#5f4d7e"/>
<circle cx="117.6" cy="507.6" r="0.8" fill="#5f4d7e"/>
<circle cx="119.4" cy="506.5" r="0.8" fill="#5f4d7e"/>
<circle cx="103.9" cy="507.0" r="0.8" fill="#5f4d7e"/>
<circle cx="122.2" cy="508.7" r="0.8" fill="#5f4d7e"/>
<circle cx="114.9" cy="507.5" r="0.8" fill="#5f4d7e"/>
<circle cx="119.9" cy="507.9" r="0.8" fill="#5f4d7e"/>
<circle cx="102.3" cy="508.9" r="0.8" fill="#5f4d7e"/>
<circle cx="110.5" cy="509.3" r="0.8" fill="#5f4d7e"/>
<circle cx="120.3" cy="506.8" r="0.8" fill="#5f4d7e"/>
<circle cx="147.2" cy="507.1" r="0.8" fill="#8259b3"/>
<circle cx="136.9" cy="507.6" r="0.8" fill="#8259b3"/>
<circle cx="132.7" cy="507.4" r="0.8" fill="#8259b3"/>
<circle cx="132.8" cy="508.1" r="0.8" fill="#8259b3"/>
<circle cx="149.5" cy="507.7" r="0.8" fill="#8259b3"/>
<circle cx="147.1" cy="507.9" r="0.8" fill="#8259b3"/>
<circle cx="135.2" cy="495.3" r="0.8" fill="#8259b3"/>
<circle cx="152.9" cy="500.8" r="0.8" fill="#8259b3"/>
<circle cx="140.9" cy="509.0" r="0.8" fill="#8259b3"/>
<circle cx="137.8" cy="504.5" r="0.8" fill="#8259b3"/>
<circle cx="150.4" cy="498.2" r="0.8" fill="#8259b3"/>
<circle cx="148.0" cy="507.0" r="0.8" fill="#8259b3"/>
<circle cx="139.1" cy="503.4" r="0.8" fill="#8259b3"/>
<circle cx="134.2" cy="502.7" r="0.8" fill="#8259b3"/>
<circle cx="146.3" cy="499.3" r="0.8" fill="#8259b3"/>
<circle cx="154.8" cy="499.9" r="0.8" fill="#8259b3"/>
<circle cx="135.4" cy="504.1" r="0.8" fill="#8259b3"/>
<circle cx="149.9" cy="506.3" r="0.8" fill="#8259b3"/>
<circle cx="141.8" cy="501.4" r="0.8" fill="#8259b3"/>
<circle cx="138.8" cy="507.0" r="0.8" fill="#8259b3"/>
<circle cx="136.9" cy="498.5" r="0.8" fill="#8259b3"/>
<circle cx="136.3" cy="500.0" r="0.8" fill="#8259b3"/>
<circle cx="151.4" cy="501.6" r="0.8" fill="#8259b3"/>
<circle cx="151.6" cy="505.1" r="0.8" fill="#8259b3"/>
<circle cx="149.5" cy="499.5" r="0.8" fill="#8259b3"/>
<circle cx="139.8" cy="505.4" r="0.8" fill="#8259b3"/>
<circle cx="134.4" cy="501.6" r="0.8" fill="#8259b3"/>
<circle cx="139.9" cy="497.2" r="0.8" fill="#8259b3"/>
<circle cx="146.1" cy="501.8" r="0.8" fill="#8259b3"/>
<circle cx="131.2" cy="508.2" r="0.8" fill="#8259b3"/>
<circle cx="142.9" cy="497.0" r="0.8" fill="#8259b3"/>
<circle cx="139.9" cy="502.1" r="0.8" fill="#8259b3"/>
<circle cx="140.0" cy="506.0" r="0.8" fill="#8259b3"/>
<circle cx="143.5" cy="500.5" r="0.8" fill="#8259b3"/>
<circle cx="135.3" cy="502.9" r="0.8" fill="#8259b3"/>
<circle cx="142.2" cy="500.0" r="0.8" fill="#8259b3"/>
<circle cx="134.0" cy="508.6" r="0.8" fill="#8259b3"/>
<circle cx="132.7" cy="502.2" r="0.8" fill="#8259b3"/>
<circle cx="140.7" cy="498.0" r="0.8" fill="#8259b3"/>
<circle cx="143.3" cy="508.8" r="0.8" fill="#8259b3"/>
<circle cx="147.7" cy="501.5" r="0.8" fill="#8259b3"/>
<circle cx="136.7" cy="508.3" r="0.8" fill="#8259b3"/>
<circle cx="143.8" cy="495.5" r="0.8" fill="#8259b3"/>
<circle cx="134.5" cy="508.8" r="0.8" fill="#8259b3"/>
<circle cx="142.0" cy="509.0" r="0.8" fill="#8259b3"/>
<circle cx="149.0" cy="496.1" r="0.8" fill="#8259b3"/>
<circle cx="136.1" cy="500.0" r="0.8" fill="#8259b3"/>
<circle cx="134.8" cy="505.7" r="0.8" fill="#8259b3"/>
<circle cx="141.0" cy="494.2" r="0.8" fill="#8259b3"/>
<circle cx="145.1" cy="495.5" r="0.8" fill="#8259b3"/>
<circle cx="139.3" cy="497.5" r="0.8" fill="#8259b3"/>
<circle cx="147.2" cy="498.1" r="0.8" fill="#8259b3"/>
<circle cx="146.3" cy="507.5" r="0.8" fill="#8259b3"/>
<circle cx="137.6" cy="504.7" r="0.8" fill="#8259b3"/>
<circle cx="152.1" cy="509.4" r="0.8" fill="#8259b3"/>
<circle cx="136.7" cy="504.7" r="0.8" fill="#8259b3"/>
<circle cx="148.1" cy="503.2" r="0.8" fill="#8259b3"/>
<circle cx="148.7" cy="502.1" r="0.8" fill="#8259b3"/>
<circle cx="149.7" cy="497.3" r="0.8" fill="#8259b3"/>
<circle cx="139.2" cy="493.0" r="0.8" fill="#8259b3"/>
<circle cx="137.1" cy="505.2" r="0.8" fill="#8259b3"/>
<circle cx="150.4" cy="497.8" r="0.8" fill="#8259b3"/>
<circle cx="149.6" cy="499.1" r="0.8" fill="#8259b3"/>
<circle cx="134.4" cy="499.5" r="0.8" fill="#8259b3"/>
<circle cx="146.2" cy="500.1" r="0.8" fill="#8259b3"/>
<circle cx="148.9" cy="495.2" r="0.8" fill="#8259b3"/>
<circle cx="134.0" cy="498.1" r="0.8" fill="#8259b3"/>
<circle cx="145.1" cy="493.9" r="0.8" fill="#8259b3"/>
<circle cx="133.8" cy="503.0" r="0.8" fill="#8259b3"/>
<circle cx="137.9" cy="507.6" r="0.8" fill="#8259b3"/>
<circle cx="138.0" cy="493.9" r="0.8" fill="#8259b3"/>
<circle cx="144.5" cy="506.0" r="0.8" fill="#8259b3"/>
<circle cx="148.9" cy="507.2" r="0.8" fill="#8259b3"/>
<circle cx="149.5" cy="506.5" r="0.8" fill="#8259b3"/>
<circle cx="130.9" cy="504.2" r="0.8" fill="#8259b3"/>
<circle cx="142.8" cy="503.9" r="0.8" fill="#8259b3"/>
<circle cx="147.9" cy="497.5" r="0.8" fill="#8259b3"/>
<circle cx="155.3" cy="509.4" r="0.8" fill="#8259b3"/>
<circle cx="137.5" cy="502.7" r="0.8" fill="#8259b3"/>
<circle cx="133.8" cy="500.4" r="0.8" fill="#8259b3"/>
<circle cx="153.6" cy="509.2" r="0.8" fill="#8259b3"/>
<circle cx="151.8" cy="503.0" r="0.8" fill="#8259b3"/>
<circle cx="135.9" cy="505.1" r="0.8" fill="#8259b3"/>
<circle cx="131.5" cy="501.7" r="0.8" fill="#8259b3"/>
<circle cx="131.6" cy="505.8" r="0.8" fill="#8259b3"/>
<circle cx="135.3" cy="497.2" r="0.8" fill="#8259b3"/>
<circle cx="140.8" cy="503.1" r="0.8" fill="#8259b3"/>
<circle cx="148.7" cy="502.3" r="0.8" fill="#8259b3"/>
<circle cx="144.1" cy="499.4" r="0.8" fill="#8259b3"/>
<circle cx="137.5" cy="506.8" r="0.8" fill="#8259b3"/>
<circle cx="153.3" cy="509.0" r="0.8" fill="#8259b3"/>
<circle cx="148.0" cy="504.5" r="0.8" fill="#8259b3"/>
<circle cx="138.1" cy="498.9" r="0.8" fill="#8259b3"/>
<circle cx="147.0" cy="505.5" r="0.8" fill="#8259b3"/>
<circle cx="145.9" cy="500.5" r="0.8" fill="#8259b3"/>
<circle cx="148.3" cy="508.8" r="0.8" fill="#8259b3"/>
<circle cx="135.9" cy="507.2" r="0.8" fill="#8259b3"/>
<circle cx="132.4" cy="498.2" r="0.8" fill="#8259b3"/>
<circle cx="152.6" cy="507.0" r="0.8" fill="#8259b3"/>
<circle cx="137.7" cy="501.1" r="0.8" fill="#8259b3"/>
<circle cx="133.8" cy="497.9" r="0.8" fill="#8259b3"/>
<circle cx="154.8" cy="507.2" r="0.8" fill="#8259b3"/>
<circle cx="149.4" cy="496.7" r="0.8" fill="#8259b3"/>
<circle cx="148.7" cy="502.8" r="0.8" fill="#8259b3"/>
<circle cx="147.6" cy="500.8" r="0.8" fill="#8259b3"/>
<circle cx="149.4" cy="508.8" r="0.8" fill="#8259b3"/>
<circle cx="154.6" cy="501.4" r="0.8" fill="#8259b3"/>
<circle cx="150.9" cy="499.5" r="0.8" fill="#8259b3"/>
<circle cx="151.2" cy="503.2" r="0.8" fill="#8259b3"/>
<circle cx="143.6" cy="509.2" r="0.8" fill="#8259b3"/>
<circle cx="142.0" cy="508.0" r="0.8" fill="#8259b3"/>
<circle cx="148.8" cy="496.6" r="0.8" fill="#8259b3"/>
<circle cx="140.6" cy="496.8" r="0.8" fill="#8259b3"/>
<circle cx="151.3" cy="503.7" r="0.8" fill="#8259b3"/>
<circle cx="135.8" cy="508.8" r="0.8" fill="#8259b3"/>
<circle cx="149.1" cy="505.2" r="0.8" fill="#8259b3"/>
<circle cx="147.0" cy="497.1" r="0.8" fill="#8259b3"/>
<circle cx="131.9" cy="500.7" r="0.8" fill="#8259b3"/>
<circle cx="155.0" cy="509.6" r="0.8" fill="#8259b3"/>
<circle cx="140.0" cy="508.5" r="0.8" fill="#8259b3"/>
<circle cx="148.9" cy="508.8" r="0.8" fill="#8259b3"/>
<circle cx="147.9" cy="499.0" r="0.8" fill="#8259b3"/>
<circle cx="142.1" cy="506.6" r="0.8" fill="#8259b3"/>
<circle cx="140.1" cy="503.9" r="0.8" fill="#8259b3"/>
<circle cx="135.0" cy="499.7" r="0.8" fill="#8259b3"/>
<circle cx="146.5" cy="497.3" r="0.8" fill="#8259b3"/>
<circle cx="153.4" cy="498.6" r="0.8" fill="#8259b3"/>
<circle cx="134.3" cy="509.4" r="0.8" fill="#8259b3"/>
<circle cx="137.5" cy="502.9" r="0.8" fill="#8259b3"/>
<circle cx="131.7" cy="500.6" r="0.8" fill="#8259b3"/>
<circle cx="149.7" cy="503.2" r="0.8" fill="#8259b3"/>
<circle cx="148.8" cy="505.2" r="0.8" fill="#8259b3"/>
<circle cx="143.9" cy="496.8" r="0.8" fill="#8259b3"/>
<circle cx="150.1" cy="506.1" r="0.8" fill="#8259b3"/>
<circle cx="131.5" cy="505.2" r="0.8" fill="#8259b3"/>
<circle cx="149.3" cy="495.6" r="0.8" fill="#8259b3"/>
<circle cx="150.3" cy="498.5" r="0.8" fill="#8259b3"/>
<circle cx="146.5" cy="495.5" r="0.8" fill="#8259b3"/>
<circle cx="144.9" cy="499.0" r="0.8" fill="#8259b3"/>
<circle cx="149.6" cy="497.3" r="0.8" fill="#8259b3"/>
<circle cx="131.8" cy="500.5" r="0.8" fill="#8259b3"/>
<circle cx="140.1" cy="500.3" r="0.8" fill="#8259b3"/>
<circle cx="144.1" cy="501.9" r="0.8" fill="#8259b3"/>
<circle cx="139.3" cy="500.4" r="0.8" fill="#8259b3"/>
<circle cx="130.7" cy="509.4" r="0.8" fill="#8259b3"/>
<circle cx="148.6" cy="501.1" r="0.8" fill="#8259b3"/>
<circle cx="140.9" cy="496.9" r="0.8" fill="#8259b3"/>
<circle cx="138.6" cy="504.5" r="0.8" fill="#8259b3"/>
<circle cx="154.8" cy="503.5" r="0.8" fill="#8259b3"/>
<circle cx="141.4" cy="502.7" r="0.8" fill="#8259b3"/>
<circle cx="151.9" cy="504.5" r="0.8" fill="#8259b3"/>
<circle cx="150.7" cy="499.5" r="0.8" fill="#8259b3"/>
<circle cx="139.1" cy="504.6" r="0.8" fill="#8259b3"/>
<circle cx="152.5" cy="507.2" r="0.8" fill="#8259b3"/>
<circle cx="148.4" cy="499.7" r="0.8" fill="#8259b3"/>
<circle cx="132.3" cy="508.4" r="0.8" fill="#8259b3"/>
<circle cx="148.9" cy="508.2" r="0.8" fill="#8259b3"/>
<circle cx="140.1" cy="504.3" r="0.8" fill="#8259b3"/>
<circle cx="131.6" cy="504.7" r="0.8" fill="#8259b3"/>
<circle cx="137.9" cy="497.3" r="0.8" fill="#8259b3"/>
<circle cx="137.4" cy="500.2" r="0.8" fill="#8259b3"/>
<circle cx="151.2" cy="505.8" r="0.8" fill="#8259b3"/>
<circle cx="148.6" cy="502.5" r="0.8" fill="#8259b3"/>
<circle cx="137.5" cy="496.6" r="0.8" fill="#8259b3"/>
<circle cx="131.3" cy="500.8" r="0.8" fill="#8259b3"/>
<circle cx="145.8" cy="495.9" r="0.8" fill="#8259b3"/>
<circle cx="137.9" cy="509.0" r="0.8" fill="#8259b3"/>
<circle cx="133.0" cy="503.1" r="0.8" fill="#8259b3"/>
<circle cx="142.8" cy="504.2" r="0.8" fill="#8259b3"/>
<circle cx="144.8" cy="503.7" r="0.8" fill="#8259b3"/>
<circle cx="150.3" cy="506.3" r="0.8" fill="#8259b3"/>
<circle cx="135.6" cy="500.2" r="0.8" fill="#8259b3"/>
<circle cx="153.9" cy="506.1" r="0.8" fill="#8259b3"/>
<circle cx="133.6" cy="506.9" r="0.8" fill="#8259b3"/>
<circle cx="134.2" cy="502.5" r="0.8" fill="#8259b3"/>
<circle cx="139.4" cy="493.2" r="0.8" fill="#8259b3"/>
<circle cx="139.6" cy="499.4" r="0.8" fill="#8259b3"/>
<circle cx="139.4" cy="492.9" r="0.8" fill="#8259b3"/>
<circle cx="153.8" cy="500.5" r="0.8" fill="#8259b3"/>
<circle cx="154.3" cy="504.3" r="0.8" fill="#8259b3"/>
<circle cx="147.5" cy="501.4" r="0.8" fill="#8259b3"/>
<circle cx="135.9" cy="506.8" r="0.8" fill="#8259b3"/>
<circle cx="153.3" cy="501.9" r="0.8" fill="#8259b3"/>
<circle cx="148.0" cy="499.7" r="0.8" fill="#8259b3"/>
<circle cx="143.1" cy="505.2" r="0.8" fill="#8259b3"/>
<circle cx="133.2" cy="502.4" r="0.8" fill="#8259b3"/>
<circle cx="147.5" cy="497.9" r="0.8" fill="#8259b3"/>
<circle cx="140.4" cy="508.2" r="0.8" fill="#8259b3"/>
<circle cx="135.5" cy="505.1" r="0.8" fill="#8259b3"/>
<circle cx="151.5" cy="497.8" r="0.8" fill="#8259b3"/>
<circle cx="137.4" cy="504.3" r="0.8" fill="#8259b3"/>
<circle cx="136.4" cy="503.6" r="0.8" fill="#8259b3"/>
<circle cx="131.4" cy="508.8" r="0.8" fill="#8259b3"/>
<circle cx="132.8" cy="504.1" r="0.8" fill="#8259b3"/>
<circle cx="144.8" cy="500.4" r="0.8" fill="#8259b3"/>
<circle cx="149.5" cy="502.3" r="0.8" fill="#8259b3"/>
<circle cx="136.6" cy="507.5" r="0.8" fill="#8259b3"/>
<circle cx="147.5" cy="503.6" r="0.8" fill="#8259b3"/>
<circle cx="135.9" cy="507.8" r="0.8" fill="#8259b3"/>
<circle cx="145.5" cy="502.1" r="0.8" fill="#8259b3"/>
<circle cx="133.5" cy="500.2" r="0.8" fill="#8259b3"/>
<circle cx="154.5" cy="504.3" r="0.8" fill="#8259b3"/>
<circle cx="132.8" cy="496.0" r="0.8" fill="#8259b3"/>
<circle cx="146.8" cy="498.6" r="0.8" fill="#8259b3"/>
<circle cx="131.3" cy="505.9" r="0.8" fill="#8259b3"/>
<circle cx="135.0" cy="498.6" r="0.8" fill="#8259b3"/>
<circle cx="141.7" cy="497.7" r="0.8" fill="#8259b3"/>
<circle cx="141.4" cy="508.8" r="0.8" fill="#8259b3"/>
<circle cx="151.7" cy="509.3" r="0.8" fill="#8259b3"/>
<circle cx="137.2" cy="506.6" r="0.8" fill="#8259b3"/>
<circle cx="131.8" cy="503.3" r="0.8" fill="#8259b3"/>
<circle cx="150.7" cy="500.8" r="0.8" fill="#8259b3"/>
<circle cx="137.2" cy="506.8" r="0.8" fill="#8259b3"/>
<circle cx="132.8" cy="501.0" r="0.8" fill="#8259b3"/>
<circle cx="131.8" cy="501.4" r="0.8" fill="#8259b3"/>
<circle cx="143.8" cy="497.7" r="0.8" fill="#8259b3"/>
<circle cx="130.7" cy="502.6" r="0.8" fill="#8259b3"/>
<circle cx="144.4" cy="507.2" r="0.8" fill="#8259b3"/>
<circle cx="135.4" cy="507.6" r="0.8" fill="#8259b3"/>
<circle cx="153.0" cy="502.7" r="0.8" fill="#8259b3"/>
<circle cx="139.7" cy="498.0" r="0.8" fill="#8259b3"/>
<circle cx="153.1" cy="502.8" r="0.8" fill="#8259b3"/>
<circle cx="147.8" cy="501.6" r="0.8" fill="#8259b3"/>
<circle cx="137.9" cy="506.4" r="0.8" fill="#8259b3"/>
<circle cx="151.7" cy="499.7" r="0.8" fill="#8259b3"/>
<circle cx="151.2" cy="502.3" r="0.8" fill="#8259b3"/>
<circle cx="137.3" cy="498.6" r="0.8" fill="#8259b3"/>
<circle cx="138.2" cy="494.7" r="0.8" fill="#8259b3"/>
<circle cx="149.7" cy="497.7" r="0.8" fill="#8259b3"/>
<circle cx="138.4" cy="503.8" r="0.8" fill="#8259b3"/>
<circle cx="136.8" cy="507.9" r="0.8" fill="#8259b3"/>
<circle cx="143.2" cy="497.7" r="0.8" fill="#8259b3"/>
<circle cx="143.5" cy="500.8" r="0.8" fill="#8259b3"/>
<circle cx="144.0" cy="507.8" r="0.8" fill="#8259b3"/>
<circle cx="154.2" cy="507.5" r="0.8" fill="#8259b3"/>
<circle cx="129.6" cy="509.5" r="0.8" fill="#8259b3"/>
<circle cx="132.5" cy="498.2" r="0.8" fill="#8259b3"/>
<circle cx="150.0" cy="506.3" r="0.8" fill="#8259b3"/>
<circle cx="149.3" cy="501.1" r="0.8" fill="#8259b3"/>
<circle cx="141.7" cy="503.7" r="0.8" fill="#8259b3"/>
<circle cx="147.4" cy="503.1" r="0.8" fill="#8259b3"/>
<circle cx="148.9" cy="499.1" r="0.8" fill="#8259b3"/>
<circle cx="150.8" cy="501.8" r="0.8" fill="#8259b3"/>
<circle cx="140.9" cy="497.5" r="0.8" fill="#8259b3"/>
<circle cx="151.0" cy="498.2" r="0.8" fill="#8259b3"/>
<circle cx="155.4" cy="509.6" r="0.8" fill="#8259b3"/>
<circle cx="132.4" cy="502.4" r="0.8" fill="#8259b3"/>
<circle cx="146.5" cy="508.7" r="0.8" fill="#8259b3"/>
<circle cx="131.7" cy="508.1" r="0.8" fill="#8259b3"/>
<circle cx="144.3" cy="502.7" r="0.8" fill="#8259b3"/>
<circle cx="135.6" cy="500.0" r="0.8" fill="#8259b3"/>
<circle cx="151.9" cy="497.6" r="0.8" fill="#8259b3"/>
<circle cx="140.8" cy="503.0" r="0.8" fill="#8259b3"/>
<circle cx="145.2" cy="502.2" r="0.8" fill="#8259b3"/>
<circle cx="130.3" cy="507.0" r="0.8" fill="#8259b3"/>
<circle cx="138.0" cy="507.0" r="0.8" fill="#8259b3"/>
<circle cx="134.5" cy="504.9" r="0.8" fill="#8259b3"/>
<circle cx="136.7" cy="495.1" r="0.8" fill="#8259b3"/>
<circle cx="144.1" cy="496.7" r="0.8" fill="#8259b3"/>
<circle cx="147.7" cy="494.2" r="0.8" fill="#8259b3"/>
<circle cx="141.5" cy="499.6" r="0.8" fill="#8259b3"/>
<circle cx="136.3" cy="508.8" r="0.8" fill="#8259b3"/>
<circle cx="141.4" cy="496.3" r="0.8" fill="#8259b3"/>
<circle cx="151.3" cy="499.1" r="0.8" fill="#8259b3"/>
<circle cx="133.2" cy="503.8" r="0.8" fill="#8259b3"/>
<circle cx="131.3" cy="509.6" r="0.8" fill="#8259b3"/>
<circle cx="138.2" cy="502.1" r="0.8" fill="#8259b3"/>
<circle cx="145.1" cy="507.3" r="0.8" fill="#8259b3"/>
<circle cx="152.1" cy="502.4" r="0.8" fill="#8259b3"/>
<circle cx="153.9" cy="502.6" r="0.8" fill="#8259b3"/>
<circle cx="136.8" cy="505.9" r="0.8" fill="#8259b3"/>
<circle cx="151.6" cy="508.4" r="0.8" fill="#8259b3"/>
<circle cx="143.6" cy="493.8" r="0.8" fill="#8259b3"/>
<circle cx="131.1" cy="501.6" r="0.8" fill="#8259b3"/>
<circle cx="155.3" cy="504.2" r="0.8" fill="#8259b3"/>
<circle cx="135.6" cy="497.5" r="0.8" fill="#8259b3"/>
<circle cx="138.4" cy="497.2" r="0.8" fill="#8259b3"/>
<circle cx="153.0" cy="504.1" r="0.8" fill="#8259b3"/>
<circle cx="151.4" cy="509.3" r="0.8" fill="#8259b3"/>
<circle cx="135.4" cy="501.7" r="0.8" fill="#8259b3"/>
<circle cx="144.7" cy="504.6" r="0.8" fill="#8259b3"/>
<circle cx="148.2" cy="495.5" r="0.8" fill="#8259b3"/>
<circle cx="138.0" cy="506.6" r="0.8" fill="#8259b3"/>
<circle cx="150.8" cy="499.7" r="0.8" fill="#8259b3"/>
<circle cx="136.0" cy="498.5" r="0.8" fill="#8259b3"/>
<circle cx="139.8" cy="497.6" r="0.8" fill="#8259b3"/>
<circle cx="152.2" cy="505.4" r="0.8" fill="#8259b3"/>
<circle cx="152.5" cy="509.2" r="0.8" fill="#8259b3"/>
<circle cx="143.4" cy="497.2" r="0.8" fill="#8259b3"/>
<circle cx="140.6" cy="505.7" r="0.8" fill="#8259b3"/>
<circle cx="139.8" cy="496.9" r="0.8" fill="#8259b3"/>
<circle cx="140.3" cy="509.7" r="0.8" fill="#8259b3"/>
<circle cx="131.9" cy="504.2" r="0.8" fill="#8259b3"/>
<circle cx="153.1" cy="505.9" r="0.8" fill="#8259b3"/>
<circle cx="145.1" cy="501.8" r="0.8" fill="#8259b3"/>
<circle cx="134.9" cy="496.9" r="0.8" fill="#8259b3"/>
<circle cx="131.2" cy="504.9" r="0.8" fill="#8259b3"/>
<circle cx="137.4" cy="502.9" r="0.8" fill="#8259b3"/>
<circle cx="141.6" cy="506.2" r="0.8" fill="#8259b3"/>
<circle cx="139.6" cy="494.5" r="0.8" fill="#8259b3"/>
<circle cx="133.4" cy="507.5" r="0.8" fill="#8259b3"/>
<circle cx="145.9" cy="499.9" r="0.8" fill="#8259b3"/>
<circle cx="154.2" cy="507.4" r="0.8" fill="#8259b3"/>
<circle cx="138.7" cy="506.9" r="0.8" fill="#8259b3"/>
<circle cx="141.6" cy="499.5" r="0.8" fill="#8259b3"/>
<circle cx="147.6" cy="496.5" r="0.8" fill="#8259b3"/>
<circle cx="140.2" cy="505.7" r="0.8" fill="#8259b3"/>
<circle cx="141.3" cy="497.8" r="0.8" fill="#8259b3"/>
<circle cx="143.9" cy="502.6" r="0.8" fill="#8259b3"/>
<circle cx="134.5" cy="496.0" r="0.8" fill="#8259b3"/>
<circle cx="149.1" cy="504.3" r="0.8" fill="#8259b3"/>
<circle cx="140.5" cy="495.5" r="0.8" fill="#8259b3"/>
<circle cx="152.7" cy="505.3" r="0.8" fill="#8259b3"/>
<circle cx="130.0" cy="503.1" r="0.8" fill="#8259b3"/>
<circle cx="141.7" cy="493.5" r="0.8" fill="#8259b3"/>
<circle cx="147.1" cy="509.7" r="0.8" fill="#8259b3"/>
<circle cx="130.2" cy="508.9" r="0.8" fill="#8259b3"/>
<circle cx="140.4" cy="509.1" r="0.8" fill="#8259b3"/>
<circle cx="143.1" cy="496.0" r="0.8" fill="#8259b3"/>
<circle cx="138.3" cy="496.2" r="0.8" fill="#8259b3"/>
<circle cx="143.5" cy="504.0" r="0.8" fill="#8259b3"/>
<circle cx="150.3" cy="509.6" r="0.8" fill="#8259b3"/>
<circle cx="135.2" cy="502.8" r="0.8" fill="#8259b3"/>
<circle cx="153.2" cy="498.8" r="0.8" fill="#8259b3"/>
<circle cx="139.2" cy="498.3" r="0.8" fill="#8259b3"/>
<circle cx="140.1" cy="500.2" r="0.8" fill="#8259b3"/>
<circle cx="148.0" cy="506.6" r="0.8" fill="#8259b3"/>
<circle cx="147.2" cy="496.0" r="0.8" fill="#8259b3"/>
<circle cx="137.0" cy="503.9" r="0.8" fill="#8259b3"/>
<circle cx="138.1" cy="508.3" r="0.8" fill="#8259b3"/>
<circle cx="151.3" cy="509.6" r="0.8" fill="#8259b3"/>
<circle cx="140.0" cy="507.3" r="0.8" fill="#8259b3"/>
<circle cx="131.6" cy="509.4" r="0.8" fill="#8259b3"/>
<circle cx="151.7" cy="498.5" r="0.8" fill="#8259b3"/>
<circle cx="131.6" cy="502.7" r="0.8" fill="#8259b3"/>
<circle cx="139.9" cy="493.0" r="0.8" fill="#8259b3"/>
<circle cx="150.9" cy="497.1" r="0.8" fill="#8259b3"/>
<circle cx="134.6" cy="502.7" r="0.8" fill="#8259b3"/>
<circle cx="142.2" cy="494.5" r="0.8" fill="#8259b3"/>
<circle cx="137.7" cy="500.7" r="0.8" fill="#8259b3"/>
<circle cx="153.3" cy="503.0" r="0.8" fill="#8259b3"/>
<circle cx="144.4" cy="500.9" r="0.8" fill="#8259b3"/>
<circle cx="144.2" cy="508.1" r="0.8" fill="#8259b3"/>
<circle cx="130.9" cy="503.0" r="0.8" fill="#8259b3"/>
<circle cx="131.7" cy="508.7" r="0.8" fill="#8259b3"/>
<circle cx="145.6" cy="505.2" r="0.8" fill="#8259b3"/>
<circle cx="145.7" cy="504.8" r="0.8" fill="#8259b3"/>
<circle cx="144.2" cy="501.1" r="0.8" fill="#8259b3"/>
<circle cx="135.8" cy="506.5" r="0.8" fill="#8259b3"/>
<circle cx="154.6" cy="506.0" r="0.8" fill="#8259b3"/>
<circle cx="135.7" cy="498.7" r="0.8" fill="#8259b3"/>
<circle cx="129.8" cy="503.2" r="0.8" fill="#8259b3"/>
<circle cx="143.5" cy="499.3" r="0.8" fill="#8259b3"/>
<circle cx="146.2" cy="497.0" r="0.8" fill="#8259b3"/>
<circle cx="150.4" cy="501.8" r="0.8" fill="#8259b3"/>
<circle cx="150.6" cy="507.0" r="0.8" fill="#8259b3"/>
<circle cx="131.3" cy="504.9" r="0.8" fill="#8259b3"/>
<circle cx="146.8" cy="506.9" r="0.8" fill="#8259b3"/>
<circle cx="139.0" cy="505.3" r="0.8" fill="#8259b3"/>
<circle cx="135.1" cy="502.7" r="0.8" fill="#8259b3"/>
<circle cx="139.9" cy="501.9" r="0.8" fill="#8259b3"/>
<circle cx="137.4" cy="509.3" r="0.8" fill="#8259b3"/>
<circle cx="142.1" cy="509.7" r="0.8" fill="#8259b3"/>
<circle cx="141.1" cy="505.3" r="0.8" fill="#8259b3"/>
<circle cx="131.6" cy="498.8" r="0.8" fill="#8259b3"/>
<circle cx="144.1" cy="507.2" r="0.8" fill="#8259b3"/>
<circle cx="137.2" cy="496.3" r="0.8" fill="#8259b3"/>
<circle cx="147.3" cy="496.1" r="0.8" fill="#8259b3"/>
<circle cx="145.7" cy="501.5" r="0.8" fill="#8259b3"/>
<circle cx="130.1" cy="509.4" r="0.8" fill="#8259b3"/>
<circle cx="153.8" cy="508.1" r="0.8" fill="#8259b3"/>
<circle cx="150.0" cy="506.0" r="0.8" fill="#8259b3"/>
<circle cx="138.0" cy="505.4" r="0.8" fill="#8259b3"/>
<circle cx="151.8" cy="501.4" r="0.8" fill="#8259b3"/>
<circle cx="154.7" cy="504.1" r="0.8" fill="#8259b3"/>
<circle cx="144.4" cy="495.1" r="0.8" fill="#8259b3"/>
<circle cx="134.8" cy="501.4" r="0.8" fill="#8259b3"/>
<circle cx="133.4" cy="506.8" r="0.8" fill="#8259b3"/>
<circle cx="136.0" cy="495.8" r="0.8" fill="#8259b3"/>
<circle cx="146.2" cy="498.3" r="0.8" fill="#8259b3"/>
<circle cx="134.1" cy="498.1" r="0.8" fill="#8259b3"/>
<circle cx="133.0" cy="504.5" r="0.8" fill="#8259b3"/>
<circle cx="132.3" cy="508.0" r="0.8" fill="#8259b3"/>
<circle cx="146.8" cy="507.8" r="0.8" fill="#8259b3"/>
<circle cx="134.4" cy="496.9" r="0.8" fill="#8259b3"/>
<circle cx="143.2" cy="509.1" r="0.8" fill="#8259b3"/>
<circle cx="145.2" cy="508.0" r="0.8" fill="#8259b3"/>
<circle cx="150.1" cy="504.5" r="0.8" fill="#8259b3"/>
<circle cx="144.9" cy="498.2" r="0.8" fill="#8259b3"/>
<circle cx="139.4" cy="500.5" r="0.8" fill="#8259b3"/>
<circle cx="143.4" cy="494.1" r="0.8" fill="#8259b3"/>
<circle cx="134.3" cy="497.4" r="0.8" fill="#8259b3"/>
<circle cx="140.6" cy="504.7" r="0.8" fill="#8259b3"/>
<circle cx="150.3" cy="504.9" r="0.8" fill="#8259b3"/>
<circle cx="148.3" cy="499.1" r="0.8" fill="#8259b3"/>
<circle cx="140.3" cy="494.4" r="0.8" fill="#8259b3"/>
<circle cx="135.6" cy="495.2" r="0.8" fill="#8259b3"/>
<circle cx="140.8" cy="502.0" r="0.8" fill="#8259b3"/>
<circle cx="143.3" cy="503.0" r="0.8" fill="#8259b3"/>
<circle cx="131.2" cy="499.2" r="0.8" fill="#8259b3"/>
<circle cx="130.2" cy="506.0" r="0.8" fill="#8259b3"/>
<circle cx="140.8" cy="502.2" r="0.8" fill="#8259b3"/>
<circle cx="142.3" cy="498.2" r="0.8" fill="#8259b3"/>
<circle cx="139.2" cy="506.8" r="0.8" fill="#8259b3"/>
<circle cx="138.1" cy="502.8" r="0.8" fill="#8259b3"/>
<circle cx="149.2" cy="499.0" r="0.8" fill="#8259b3"/>
<circle cx="150.7" cy="509.6" r="0.8" fill="#8259b3"/>
<circle cx="131.9" cy="505.2" r="0.8" fill="#8259b3"/>
<circle cx="138.6" cy="501.0" r="0.8" fill="#8259b3"/>
<circle cx="140.6" cy="497.2" r="0.8" fill="#8259b3"/>
<circle cx="137.6" cy="508.9" r="0.8" fill="#8259b3"/>
<circle cx="144.7" cy="508.3" r="0.8" fill="#8259b3"/>
<circle cx="149.3" cy="501.6" r="0.8" fill="#8259b3"/>
<circle cx="146.4" cy="503.6" r="0.8" fill="#8259b3"/>
<circle cx="154.2" cy="501.7" r="0.8" fill="#8259b3"/>
<circle cx="134.5" cy="503.8" r="0.8" fill="#8259b3"/>
<circle cx="131.4" cy="505.1" r="0.8" fill="#8259b3"/>
<circle cx="150.7" cy="508.1" r="0.8" fill="#8259b3"/>
<circle cx="139.9" cy="492.7" r="0.8" fill="#8259b3"/>
<circle cx="141.7" cy="504.1" r="0.8" fill="#8259b3"/>
<circle cx="132.4" cy="498.9" r="0.8" fill="#8259b3"/>
<circle cx="129.6" cy="506.2" r="0.8" fill="#8259b3"/>
<circle cx="152.6" cy="506.4" r="0.8" fill="#8259b3"/>
<circle cx="141.8" cy="499.5" r="0.8" fill="#8259b3"/>
<circle cx="131.2" cy="504.0" r="0.8" fill="#8259b3"/>
<circle cx="142.6" cy="496.5" r="0.8" fill="#8259b3"/>
<circle cx="145.0" cy="508.6" r="0.8" fill="#8259b3"/>
<circle cx="152.9" cy="506.1" r="0.8" fill="#8259b3"/>
<circle cx="135.0" cy="506.7" r="0.8" fill="#8259b3"/>
<circle cx="142.7" cy="497.1" r="0.8" fill="#8259b3"/>
<circle cx="141.2" cy="499.5" r="0.8" fill="#8259b3"/>
<circle cx="143.4" cy="503.0" r="0.8" fill="#8259b3"/>
<circle cx="140.9" cy="504.1" r="0.8" fill="#8259b3"/>
<circle cx="132.1" cy="498.7" r="0.8" fill="#8259b3"/>
<circle cx="140.9" cy="507.4" r="0.8" fill="#8259b3"/>
<circle cx="141.1" cy="498.5" r="0.8" fill="#8259b3"/>
<circle cx="150.4" cy="505.7" r="0.8" fill="#8259b3"/>
<circle cx="134.6" cy="508.7" r="0.8" fill="#8259b3"/>
<circle cx="130.6" cy="508.1" r="0.8" fill="#8259b3"/>
<circle cx="138.2" cy="494.1" r="0.8" fill="#8259b3"/>
<circle cx="143.5" cy="507.6" r="0.8" fill="#8259b3"/>
<circle cx="144.6" cy="500.0" r="0.8" fill="#8259b3"/>
<circle cx="147.8" cy="507.1" r="0.8" fill="#8259b3"/>
<circle cx="131.2" cy="508.6" r="0.8" fill="#8259b3"/>
<circle cx="135.6" cy="495.9" r="0.8" fill="#8259b3"/>
<circle cx="152.7" cy="507.0" r="0.8" fill="#8259b3"/>
<circle cx="145.1" cy="507.1" r="0.8" fill="#8259b3"/>
<circle cx="134.3" cy="506.9" r="0.8" fill="#8259b3"/>
<circle cx="145.5" cy="496.2" r="0.8" fill="#8259b3"/>
<circle cx="152.5" cy="509.5" r="0.8" fill="#8259b3"/>
<circle cx="135.6" cy="504.0" r="0.8" fill="#8259b3"/>
<circle cx="152.7" cy="507.3" r="0.8" fill="#8259b3"/>
<circle cx="144.1" cy="496.5" r="0.8" fill="#8259b3"/>
<circle cx="142.8" cy="507.2" r="0.8" fill="#8259b3"/>
<circle cx="134.5" cy="495.5" r="0.8" fill="#8259b3"/>
<circle cx="130.4" cy="507.4" r="0.8" fill="#8259b3"/>
<circle cx="143.7" cy="502.0" r="0.8" fill="#8259b3"/>
<circle cx="134.9" cy="497.4" r="0.8" fill="#8259b3"/>
<circle cx="152.4" cy="501.7" r="0.8" fill="#8259b3"/>
<circle cx="140.5" cy="497.2" r="0.8" fill="#8259b3"/>
<circle cx="133.3" cy="497.1" r="0.8" fill="#8259b3"/>
<circle cx="137.3" cy="499.4" r="0.8" fill="#8259b3"/>
<circle cx="148.4" cy="509.3" r="0.8" fill="#8259b3"/>
<circle cx="142.6" cy="502.9" r="0.8" fill="#8259b3"/>
<circle cx="141.4" cy="496.0" r="0.8" fill="#8259b3"/>
<circle cx="136.4" cy="504.2" r="0.8" fill="#8259b3"/>
<circle cx="142.6" cy="498.1" r="0.8" fill="#8259b3"/>
<circle cx="142.3" cy="502.0" r="0.8" fill="#8259b3"/>
<circle cx="135.2" cy="508.2" r="0.8" fill="#8259b3"/>
<circle cx="146.1" cy="509.2" r="0.8" fill="#8259b3"/>
<circle cx="137.7" cy="500.1" r="0.8" fill="#8259b3"/>
<circle cx="147.5" cy="506.2" r="0.8" fill="#8259b3"/>
<circle cx="147.5" cy="497.0" r="0.8" fill="#8259b3"/>
<circle cx="131.1" cy="505.0" r="0.8" fill="#8259b3"/>
<circle cx="135.4" cy="509.0" r="0.8" fill="#8259b3"/>
<circle cx="146.3" cy="497.3" r="0.8" fill="#8259b3"/>
<circle cx="154.2" cy="499.5" r="0.8" fill="#8259b3"/>
<circle cx="142.8" cy="503.6" r="0.8" fill="#8259b3"/>
<circle cx="142.0" cy="509.7" r="0.8" fill="#8259b3"/>
<circle cx="138.2" cy="505.4" r="0.8" fill="#8259b3"/>
<circle cx="145.8" cy="498.7" r="0.8" fill="#8259b3"/>
<circle cx="149.8" cy="507.8" r="0.8" fill="#8259b3"/>
<circle cx="145.1" cy="495.5" r="0.8" fill="#8259b3"/>
<circle cx="142.3" cy="508.9" r="0.8" fill="#8259b3"/>
<circle cx="145.2" cy="508.8" r="0.8" fill="#8259b3"/>
<circle cx="143.6" cy="506.1" r="0.8" fill="#8259b3"/>
<circle cx="151.0" cy="507.8" r="0.8" fill="#8259b3"/>
<circle cx="137.8" cy="506.6" r="0.8" fill="#8259b3"/>
<circle cx="133.3" cy="502.5" r="0.8" fill="#8259b3"/>
<circle cx="132.4" cy="499.6" r="0.8" fill="#8259b3"/>
<circle cx="149.9" cy="508.1" r="0.8" fill="#8259b3"/>
<circle cx="152.8" cy="497.9" r="0.8" fill="#8259b3"/>
<circle cx="154.7" cy="499.0" r="0.8" fill="#8259b3"/>
<circle cx="142.1" cy="502.6" r="0.8" fill="#8259b3"/>
<circle cx="146.9" cy="494.3" r="0.8" fill="#8259b3"/>
<circle cx="141.2" cy="503.7" r="0.8" fill="#8259b3"/>
<circle cx="140.1" cy="494.2" r="0.8" fill="#8259b3"/>
<circle cx="134.6" cy="506.3" r="0.8" fill="#8259b3"/>
<circle cx="141.9" cy="495.4" r="0.8" fill="#8259b3"/>
<circle cx="130.1" cy="503.8" r="0.8" fill="#8259b3"/>
<circle cx="150.0" cy="503.1" r="0.8" fill="#8259b3"/>
<circle cx="145.8" cy="499.2" r="0.8" fill="#8259b3"/>
<circle cx="147.0" cy="498.4" r="0.8" fill="#8259b3"/>
<circle cx="131.8" cy="503.0" r="0.8" fill="#8259b3"/>
<circle cx="152.3" cy="497.4" r="0.8" fill="#8259b3"/>
<circle cx="142.7" cy="494.3" r="0.8" fill="#8259b3"/>
<circle cx="142.1" cy="501.4" r="0.8" fill="#8259b3"/>
<circle cx="143.8" cy="509.2" r="0.8" fill="#8259b3"/>
<circle cx="138.1" cy="508.9" r="0.8" fill="#8259b3"/>
<circle cx="146.7" cy="506.3" r="0.8" fill="#8259b3"/>
<circle cx="152.4" cy="503.6" r="0.8" fill="#8259b3"/>
<circle cx="143.5" cy="493.3" r="0.8" fill="#8259b3"/>
<circle cx="152.0" cy="504.2" r="0.8" fill="#8259b3"/>
<circle cx="139.8" cy="501.9" r="0.8" fill="#8259b3"/>
<circle cx="147.6" cy="499.1" r="0.8" fill="#8259b3"/>
<circle cx="130.2" cy="501.9" r="0.8" fill="#8259b3"/>
<circle cx="147.6" cy="498.1" r="0.8" fill="#8259b3"/>
<circle cx="142.3" cy="504.1" r="0.8" fill="#8259b3"/>
<circle cx="134.5" cy="495.2" r="0.8" fill="#8259b3"/>
<circle cx="136.0" cy="498.5" r="0.8" fill="#8259b3"/>
<circle cx="131.1" cy="501.9" r="0.8" fill="#8259b3"/>
<circle cx="138.5" cy="503.7" r="0.8" fill="#8259b3"/>
<circle cx="154.6" cy="508.6" r="0.8" fill="#8259b3"/>
<circle cx="146.5" cy="501.3" r="0.8" fill="#8259b3"/>
<circle cx="140.2" cy="496.5" r="0.8" fill="#8259b3"/>
<circle cx="153.5" cy="502.6" r="0.8" fill="#8259b3"/>
<circle cx="146.5" cy="495.5" r="0.8" fill="#8259b3"/>
<circle cx="130.3" cy="508.1" r="0.8" fill="#8259b3"/>
<circle cx="153.6" cy="501.8" r="0.8" fill="#8259b3"/>
<circle cx="133.7" cy="495.9" r="0.8" fill="#8259b3"/>
<circle cx="149.1" cy="506.3" r="0.8" fill="#8259b3"/>
<circle cx="147.1" cy="505.8" r="0.8" fill="#8259b3"/>
<circle cx="137.8" cy="502.6" r="0.8" fill="#8259b3"/>
<circle cx="129.8" cy="508.4" r="0.8" fill="#8259b3"/>
<circle cx="137.5" cy="508.0" r="0.8" fill="#8259b3"/>
<circle cx="155.1" cy="501.9" r="0.8" fill="#8259b3"/>
<circle cx="143.3" cy="496.0" r="0.8" fill="#8259b3"/>
<circle cx="140.6" cy="499.7" r="0.8" fill="#8259b3"/>
<circle cx="155.3" cy="503.7" r="0.8" fill="#8259b3"/>
<circle cx="143.1" cy="499.3" r="0.8" fill="#8259b3"/>
<circle cx="132.2" cy="506.5" r="0.8" fill="#8259b3"/>
<circle cx="140.4" cy="508.4" r="0.8" fill="#8259b3"/>
<circle cx="154.7" cy="506.7" r="0.8" fill="#8259b3"/>
<circle cx="153.2" cy="508.7" r="0.8" fill="#8259b3"/>
<circle cx="146.6" cy="506.5" r="0.8" fill="#8259b3"/>
<circle cx="135.5" cy="500.6" r="0.8" fill="#8259b3"/>
<circle cx="149.6" cy="500.3" r="0.8" fill="#8259b3"/>
<circle cx="140.0" cy="501.0" r="0.8" fill="#8259b3"/>
<circle cx="142.9" cy="503.6" r="0.8" fill="#8259b3"/>
<circle cx="155.2" cy="505.6" r="0.8" fill="#8259b3"/>
<circle cx="131.9" cy="497.8" r="0.8" fill="#8259b3"/>
<circle cx="138.1" cy="494.0" r="0.8" fill="#8259b3"/>
<circle cx="136.7" cy="500.3" r="0.8" fill="#8259b3"/>
<circle cx="137.2" cy="498.1" r="0.8" fill="#8259b3"/>
<circle cx="136.1" cy="495.2" r="0.8" fill="#8259b3"/>
<circle cx="139.8" cy="494.3" r="0.8" fill="#8259b3"/>
<circle cx="136.4" cy="499.8" r="0.8" fill="#8259b3"/>
<circle cx="144.0" cy="494.1" r="0.8" fill="#8259b3"/>
<circle cx="146.7" cy="500.4" r="0.8" fill="#8259b3"/>
<circle cx="130.6" cy="507.3" r="0.8" fill="#8259b3"/>
<circle cx="132.3" cy="505.7" r="0.8" fill="#8259b3"/>
<circle cx="134.8" cy="504.4" r="0.8" fill="#8259b3"/>
<circle cx="133.4" cy="506.6" r="0.8" fill="#8259b3"/>
<circle cx="147.5" cy="497.2" r="0.8" fill="#8259b3"/>
<circle cx="147.3" cy="500.4" r="0.8" fill="#8259b3"/>
<circle cx="145.4" cy="495.5" r="0.8" fill="#8259b3"/>
<circle cx="140.7" cy="507.7" r="0.8" fill="#8259b3"/>
<circle cx="138.8" cy="495.8" r="0.8" fill="#8259b3"/>
<circle cx="152.7" cy="501.6" r="0.8" fill="#8259b3"/>
<circle cx="138.7" cy="498.6" r="0.8" fill="#8259b3"/>
<circle cx="135.3" cy="505.2" r="0.8" fill="#8259b3"/>
<circle cx="145.6" cy="496.3" r="0.8" fill="#8259b3"/>
<circle cx="140.5" cy="500.5" r="0.8" fill="#8259b3"/>
<circle cx="132.3" cy="497.8" r="0.8" fill="#8259b3"/>
<circle cx="136.0" cy="507.1" r="0.8" fill="#8259b3"/>
<circle cx="153.0" cy="503.3" r="0.8" fill="#8259b3"/>
<circle cx="144.5" cy="503.7" r="0.8" fill="#8259b3"/>
<circle cx="151.7" cy="505.2" r="0.8" fill="#8259b3"/>
<circle cx="146.5" cy="497.7" r="0.8" fill="#8259b3"/>
<circle cx="137.4" cy="508.0" r="0.8" fill="#8259b3"/>
<circle cx="142.0" cy="498.4" r="0.8" fill="#8259b3"/>
<circle cx="151.3" cy="505.3" r="0.8" fill="#8259b3"/>
<circle cx="133.4" cy="503.1" r="0.8" fill="#8259b3"/>
<circle cx="150.9" cy="504.7" r="0.8" fill="#8259b3"/>
<circle cx="146.1" cy="509.0" r="0.8" fill="#8259b3"/>
<circle cx="142.2" cy="507.3" r="0.8" fill="#8259b3"/>
<circle cx="139.3" cy="497.6" r="0.8" fill="#8259b3"/>
<circle cx="140.1" cy="498.7" r="0.8" fill="#8259b3"/>
<circle cx="144.6" cy="502.2" r="0.8" fill="#8259b3"/>
<circle cx="136.2" cy="505.7" r="0.8" fill="#8259b3"/>
<circle cx="138.9" cy="496.6" r="0.8" fill="#8259b3"/>
<circle cx="143.8" cy="505.4" r="0.8" fill="#8259b3"/>
<circle cx="132.8" cy="497.4" r="0.8" fill="#8259b3"/>
<circle cx="128.7" cy="509.2" r="0.8" fill="#8259b3"/>
<circle cx="146.9" cy="498.4" r="0.8" fill="#8259b3"/>
<circle cx="141.7" cy="505.0" r="0.8" fill="#8259b3"/>
<circle cx="139.7" cy="508.1" r="0.8" fill="#8259b3"/>
<circle cx="144.6" cy="505.0" r="0.8" fill="#8259b3"/>
<circle cx="148.0" cy="505.9" r="0.8" fill="#8259b3"/>
<circle cx="147.7" cy="496.3" r="0.8" fill="#8259b3"/>
<circle cx="136.5" cy="494.9" r="0.8" fill="#8259b3"/>
<circle cx="145.2" cy="504.0" r="0.8" fill="#8259b3"/>
<circle cx="155.1" cy="502.4" r="0.8" fill="#8259b3"/>
<circle cx="141.0" cy="501.1" r="0.8" fill="#8259b3"/>
<circle cx="129.1" cy="509.4" r="0.8" fill="#8259b3"/>
<circle cx="141.3" cy="507.6" r="0.8" fill="#8259b3"/>
<circle cx="152.0" cy="507.8" r="0.8" fill="#8259b3"/>
<circle cx="153.2" cy="504.8" r="0.8" fill="#8259b3"/>
<circle cx="147.4" cy="500.8" r="0.8" fill="#8259b3"/>
<circle cx="145.1" cy="497.7" r="0.8" fill="#8259b3"/>
<circle cx="143.5" cy="499.7" r="0.8" fill="#8259b3"/>
<circle cx="139.8" cy="494.7" r="0.8" fill="#8259b3"/>
<circle cx="143.6" cy="502.0" r="0.8" fill="#8259b3"/>
<circle cx="130.9" cy="507.7" r="0.8" fill="#8259b3"/>
<circle cx="152.7" cy="505.7" r="0.8" fill="#8259b3"/>
<circle cx="133.5" cy="502.4" r="0.8" fill="#8259b3"/>
<circle cx="142.7" cy="493.9" r="0.8" fill="#8259b3"/>
<circle cx="140.9" cy="503.2" r="0.8" fill="#8259b3"/>
<circle cx="152.7" cy="501.2" r="0.8" fill="#8259b3"/>
<circle cx="140.1" cy="504.9" r="0.8" fill="#8259b3"/>
<circle cx="141.9" cy="494.4" r="0.8" fill="#8259b3"/>
<circle cx="138.4" cy="495.3" r="0.8" fill="#8259b3"/>
<circle cx="142.1" cy="509.5" r="0.8" fill="#8259b3"/>
<circle cx="134.0" cy="508.3" r="0.8" fill="#8259b3"/>
<circle cx="134.0" cy="506.4" r="0.8" fill="#8259b3"/>
<circle cx="152.3" cy="498.5" r="0.8" fill="#8259b3"/>
<circle cx="142.7" cy="505.9" r="0.8" fill="#8259b3"/>
<circle cx="140.8" cy="504.7" r="0.8" fill="#8259b3"/>
<circle cx="145.1" cy="507.3" r="0.8" fill="#8259b3"/>
<circle cx="142.9" cy="495.6" r="0.8" fill="#8259b3"/>
<circle cx="145.4" cy="505.7" r="0.8" fill="#8259b3"/>
<circle cx="151.1" cy="508.4" r="0.8" fill="#8259b3"/>
<circle cx="140.0" cy="503.6" r="0.8" fill="#8259b3"/>
<circle cx="144.0" cy="493.5" r="0.8" fill="#8259b3"/>
<circle cx="149.8" cy="503.7" r="0.8" fill="#8259b3"/>
<circle cx="145.7" cy="501.6" r="0.8" fill="#8259b3"/>
<circle cx="141.6" cy="498.2" r="0.8" fill="#8259b3"/>
<circle cx="147.1" cy="506.1" r="0.8" fill="#8259b3"/>
<circle cx="151.9" cy="506.2" r="0.8" fill="#8259b3"/>
<circle cx="155.1" cy="508.9" r="0.8" fill="#8259b3"/>
<circle cx="155.2" cy="505.4" r="0.8" fill="#8259b3"/>
<circle cx="138.3" cy="507.9" r="0.8" fill="#8259b3"/>
<circle cx="141.5" cy="502.2" r="0.8" fill="#8259b3"/>
<circle cx="149.1" cy="499.0" r="0.8" fill="#8259b3"/>
<circle cx="143.1" cy="506.0" r="0.8" fill="#8259b3"/>
<circle cx="137.3" cy="504.9" r="0.8" fill="#8259b3"/>
<circle cx="133.7" cy="496.4" r="0.8" fill="#8259b3"/>
<circle cx="142.6" cy="496.0" r="0.8" fill="#8259b3"/>
<circle cx="139.7" cy="494.0" r="0.8" fill="#8259b3"/>
<circle cx="144.7" cy="506.7" r="0.8" fill="#8259b3"/>
<circle cx="143.6" cy="494.2" r="0.8" fill="#8259b3"/>
<circle cx="137.5" cy="499.4" r="0.8" fill="#8259b3"/>
<circle cx="141.7" cy="493.4" r="0.8" fill="#8259b3"/>
<circle cx="135.5" cy="496.9" r="0.8" fill="#8259b3"/>
<circle cx="135.5" cy="505.2" r="0.8" fill="#8259b3"/>
<circle cx="149.0" cy="503.9" r="0.8" fill="#8259b3"/>
<circle cx="143.9" cy="509.5" r="0.8" fill="#8259b3"/>
<circle cx="142.2" cy="495.1" r="0.8" fill="#8259b3"/>
<circle cx="145.8" cy="508.1" r="0.8" fill="#8259b3"/>
<circle cx="136.8" cy="494.3" r="0.8" fill="#8259b3"/>
<circle cx="147.6" cy="499.6" r="0.8" fill="#8259b3"/>
<circle cx="144.4" cy="493.8" r="0.8" fill="#8259b3"/>
<circle cx="147.2" cy="501.0" r="0.8" fill="#8259b3"/>
<circle cx="142.3" cy="498.7" r="0.8" fill="#8259b3"/>
<circle cx="134.3" cy="504.0" r="0.8" fill="#8259b3"/>
<circle cx="147.9" cy="494.8" r="0.8" fill="#8259b3"/>
<circle cx="142.6" cy="497.3" r="0.8" fill="#8259b3"/>
<circle cx="147.1" cy="509.6" r="0.8" fill="#8259b3"/>
<circle cx="134.0" cy="499.6" r="0.8" fill="#8259b3"/>
<circle cx="130.4" cy="504.2" r="0.8" fill="#8259b3"/>
<circle cx="151.5" cy="509.0" r="0.8" fill="#8259b3"/>
<circle cx="152.8" cy="504.1" r="0.8" fill="#8259b3"/>
<circle cx="154.6" cy="501.6" r="0.8" fill="#8259b3"/>
<circle cx="143.6" cy="494.9" r="0.8" fill="#8259b3"/>
<circle cx="131.3" cy="509.6" r="0.8" fill="#8259b3"/>
<circle cx="135.7" cy="507.4" r="0.8" fill="#8259b3"/>
<circle cx="151.5" cy="504.3" r="0.8" fill="#8259b3"/>
<circle cx="137.2" cy="498.3" r="0.8" fill="#8259b3"/>
<circle cx="150.5" cy="497.1" r="0.8" fill="#8259b3"/>
<circle cx="147.7" cy="502.3" r="0.8" fill="#8259b3"/>
<circle cx="131.8" cy="502.7" r="0.8" fill="#8259b3"/>
<circle cx="149.1" cy="497.5" r="0.8" fill="#8259b3"/>
<circle cx="132.0" cy="504.5" r="0.8" fill="#8259b3"/>
<circle cx="141.6" cy="509.4" r="0.8" fill="#8259b3"/>
<circle cx="150.7" cy="502.9" r="0.8" fill="#8259b3"/>
<circle cx="145.7" cy="501.3" r="0.8" fill="#8259b3"/>
<circle cx="155.2" cy="503.0" r="0.8" fill="#8259b3"/>
<circle cx="140.1" cy="502.9" r="0.8" fill="#8259b3"/>
<circle cx="152.1" cy="493.7" r="0.8" fill="#8259b3"/>
<circle cx="147.0" cy="493.2" r="0.8" fill="#8259b3"/>
<circle cx="146.0" cy="492.7" r="0.8" fill="#8259b3"/>
<circle cx="142.1" cy="491.1" r="0.8" fill="#8259b3"/>
<circle cx="142.8" cy="490.4" r="0.8" fill="#8259b3"/>
<circle cx="132.7" cy="494.2" r="0.8" fill="#8259b3"/>
<circle cx="155.3" cy="500.5" r="0.8" fill="#8259b3"/>
<circle cx="135.2" cy="492.8" r="0.8" fill="#8259b3"/>
<circle cx="135.7" cy="492.6" r="0.8" fill="#8259b3"/>
<circle cx="132.3" cy="495.2" r="0.8" fill="#8259b3"/>
<circle cx="139.0" cy="489.9" r="0.8" fill="#8259b3"/>
<circle cx="143.6" cy="490.1" r="0.8" fill="#8259b3"/>
<circle cx="137.7" cy="509.6" r="0.8" fill="#5f4d7e"/>
<circle cx="131.0" cy="507.3" r="0.8" fill="#5f4d7e"/>
<circle cx="142.5" cy="507.2" r="0.8" fill="#5f4d7e"/>
<circle cx="133.8" cy="508.8" r="0.8" fill="#5f4d7e"/>
<circle cx="134.2" cy="506.9" r="0.8" fill="#5f4d7e"/>
<circle cx="148.1" cy="509.2" r="0.8" fill="#5f4d7e"/>
<circle cx="148.7" cy="509.6" r="0.8" fill="#5f4d7e"/>
<circle cx="141.4" cy="508.9" r="0.8" fill="#5f4d7e"/>
<circle cx="149.8" cy="507.4" r="0.8" fill="#5f4d7e"/>
<circle cx="147.5" cy="509.1" r="0.8" fill="#5f4d7e"/>
<circle cx="129.4" cy="507.6" r="0.8" fill="#5f4d7e"/>
<circle cx="147.8" cy="509.7" r="0.8" fill="#5f4d7e"/>
<circle cx="151.9" cy="506.8" r="0.8" fill="#5f4d7e"/>
<circle cx="138.4" cy="508.0" r="0.8" fill="#5f4d7e"/>
<circle cx="146.6" cy="506.7" r="0.8" fill="#5f4d7e"/>
<circle cx="146.6" cy="508.0" r="0.8" fill="#5f4d7e"/>
<circle cx="150.0" cy="508.1" r="0.8" fill="#5f4d7e"/>
<circle cx="129.1" cy="507.9" r="0.8" fill="#5f4d7e"/>
<circle cx="139.9" cy="508.6" r="0.8" fill="#5f4d7e"/>
<circle cx="139.3" cy="509.0" r="0.8" fill="#5f4d7e"/>
<circle cx="137.0" cy="507.3" r="0.8" fill="#5f4d7e"/>
<circle cx="153.3" cy="508.2" r="0.8" fill="#5f4d7e"/>
<circle cx="152.1" cy="509.3" r="0.8" fill="#5f4d7e"/>
<circle cx="142.8" cy="507.3" r="0.8" fill="#5f4d7e"/>
<circle cx="150.3" cy="508.4" r="0.8" fill="#5f4d7e"/>
<circle cx="132.9" cy="506.6" r="0.8" fill="#5f4d7e"/>
<circle cx="145.4" cy="507.6" r="0.8" fill="#5f4d7e"/>
<circle cx="138.0" cy="509.3" r="0.8" fill="#5f4d7e"/>
<circle cx="144.3" cy="508.4" r="0.8" fill="#5f4d7e"/>
<circle cx="153.4" cy="507.5" r="0.8" fill="#5f4d7e"/>
<circle cx="149.6" cy="507.9" r="0.8" fill="#5f4d7e"/>
<circle cx="149.5" cy="509.3" r="0.8" fill="#5f4d7e"/>
<circle cx="145.1" cy="509.1" r="0.8" fill="#5f4d7e"/>
<circle cx="130.8" cy="507.4" r="0.8" fill="#5f4d7e"/>
<circle cx="148.7" cy="507.5" r="0.8" fill="#5f4d7e"/>
<circle cx="135.4" cy="508.1" r="0.8" fill="#5f4d7e"/>
<circle cx="149.9" cy="507.6" r="0.8" fill="#5f4d7e"/>
<circle cx="153.9" cy="509.4" r="0.8" fill="#5f4d7e"/>
<circle cx="150.1" cy="509.7" r="0.8" fill="#5f4d7e"/>
<circle cx="145.9" cy="508.0" r="0.8" fill="#5f4d7e"/>
<circle cx="130.3" cy="508.3" r="0.8" fill="#5f4d7e"/>
<circle cx="147.1" cy="506.9" r="0.8" fill="#5f4d7e"/>
<circle cx="130.4" cy="508.0" r="0.8" fill="#5f4d7e"/>
<circle cx="150.7" cy="509.3" r="0.8" fill="#5f4d7e"/>
<circle cx="153.5" cy="506.6" r="0.8" fill="#5f4d7e"/>
<circle cx="137.9" cy="509.0" r="0.8" fill="#5f4d7e"/>
<circle cx="132.3" cy="509.0" r="0.8" fill="#5f4d7e"/>
<circle cx="140.0" cy="507.4" r="0.8" fill="#5f4d7e"/>
<circle cx="154.7" cy="507.9" r="0.8" fill="#5f4d7e"/>
<circle cx="155.2" cy="508.3" r="0.8" fill="#5f4d7e"/>
<circle cx="146.8" cy="509.7" r="0.8" fill="#5f4d7e"/>
<circle cx="140.0" cy="509.6" r="0.8" fill="#5f4d7e"/>
<circle cx="131.9" cy="507.1" r="0.8" fill="#5f4d7e"/>
<circle cx="131.4" cy="508.7" r="0.8" fill="#5f4d7e"/>
<circle cx="143.1" cy="508.0" r="0.8" fill="#5f4d7e"/>
<circle cx="129.0" cy="509.4" r="0.8" fill="#5f4d7e"/>
<circle cx="147.3" cy="508.4" r="0.8" fill="#5f4d7e"/>
<circle cx="130.8" cy="508.2" r="0.8" fill="#5f4d7e"/>
<circle cx="138.7" cy="506.4" r="0.8" fill="#5f4d7e"/>
<circle cx="75.1" cy="495.8" r="0.95" fill="#8259b3"/>
<circle cx="81.7" cy="496.2" r="0.95" fill="#8259b3"/>
<circle cx="76.2" cy="507.7" r="0.95" fill="#8259b3"/>
<circle cx="78.4" cy="506.4" r="0.95" fill="#8259b3"/>
<circle cx="88.3" cy="505.6" r="0.95" fill="#8259b3"/>
<circle cx="91.0" cy="482.2" r="0.95" fill="#8259b3"/>
<circle cx="93.2" cy="464.6" r="0.95" fill="#8259b3"/>
<circle cx="96.0" cy="461.8" r="0.95" fill="#8259b3"/>
<circle cx="94.9" cy="449.4" r="0.95" fill="#8259b3"/>
<circle cx="99.3" cy="478.1" r="0.95" fill="#8259b3"/>
<circle cx="108.1" cy="474.1" r="0.95" fill="#8259b3"/>
<circle cx="149.9" cy="422.8" r="0.95" fill="#8259b3"/>
<circle cx="163.1" cy="414.6" r="0.95" fill="#8259b3"/>
<circle cx="166.9" cy="422.8" r="0.95" fill="#8259b3"/>
<circle cx="155.9" cy="445.4" r="0.95" fill="#8259b3"/>
<circle cx="157.6" cy="459.7" r="0.95" fill="#8259b3"/>
<circle cx="152.1" cy="469.9" r="0.95" fill="#8259b3"/>
<circle cx="169.7" cy="474.9" r="0.95" fill="#8259b3"/>
<circle cx="159.8" cy="490.4" r="0.95" fill="#8259b3"/>
<circle cx="162.6" cy="490.4" r="0.95" fill="#8259b3"/>
<circle cx="85.0" cy="483.5" r="0.95" fill="#8259b3"/>
<rect x="68.4" y="406.5" width="103.8" height="107.7" fill="none" stroke="#8a8a8a" stroke-width="0.9"/>
<line x1="66.9" y1="513.0" x2="68.4" y2="513.0" stroke="#555" stroke-width="0.6"/>
<text x="65.4" y="516.0" font-size="9.6" text-anchor="end" fill="#333" stroke="#333" stroke-width="0.12">0</text>
<line x1="66.9" y1="492.5" x2="68.4" y2="492.5" stroke="#555" stroke-width="0.6"/>
<text x="65.4" y="495.5" font-size="9.6" text-anchor="end" fill="#333" stroke="#333" stroke-width="0.12">5</text>
<line x1="66.9" y1="472.0" x2="68.4" y2="472.0" stroke="#555" stroke-width="0.6"/>
<text x="65.4" y="475.0" font-size="9.6" text-anchor="end" fill="#333" stroke="#333" stroke-width="0.12">10</text>
<line x1="66.9" y1="451.5" x2="68.4" y2="451.5" stroke="#555" stroke-width="0.6"/>
<text x="65.4" y="454.5" font-size="9.6" text-anchor="end" fill="#333" stroke="#333" stroke-width="0.12">15</text>
<line x1="66.9" y1="431.0" x2="68.4" y2="431.0" stroke="#555" stroke-width="0.6"/>
<text x="65.4" y="434.0" font-size="9.6" text-anchor="end" fill="#333" stroke="#333" stroke-width="0.12">20</text>
<line x1="66.9" y1="410.5" x2="68.4" y2="410.5" stroke="#555" stroke-width="0.6"/>
<text x="65.4" y="413.5" font-size="9.6" text-anchor="end" fill="#333" stroke="#333" stroke-width="0.12">25</text>
<line x1="71.8" y1="514.2" x2="71.8" y2="515.7" stroke="#555" stroke-width="0.6"/>
<text x="71.8" y="525.2" font-size="10.5" text-anchor="middle" fill="#333" stroke="#333" stroke-width="0.12">&#8722;10</text>
<line x1="99.3" y1="514.2" x2="99.3" y2="515.7" stroke="#555" stroke-width="0.6"/>
<text x="99.3" y="525.2" font-size="10.5" text-anchor="middle" fill="#333" stroke="#333" stroke-width="0.12">&#8722;5</text>
<line x1="126.8" y1="514.2" x2="126.8" y2="515.7" stroke="#555" stroke-width="0.6"/>
<text x="126.8" y="525.2" font-size="10.5" text-anchor="middle" fill="#333" stroke="#333" stroke-width="0.12">0</text>
<line x1="154.3" y1="514.2" x2="154.3" y2="515.7" stroke="#555" stroke-width="0.6"/>
<text x="154.3" y="525.2" font-size="10.5" text-anchor="middle" fill="#333" stroke="#333" stroke-width="0.12">5</text>
<text x="119.5" y="534.5" font-size="9.6" text-anchor="middle" fill="#000" stroke="#000" stroke-width="0.12">-Log<tspan font-size="6.5" dy="2.5">2</tspan><tspan dy="-2.5">FC</tspan></text>
<text x="49.0" y="462.6" font-size="9.3" text-anchor="middle" fill="#000" transform="rotate(-90 49 462.6)" stroke="#000" stroke-width="0.12">-Log<tspan font-size="6.4" dy="2.2">10</tspan><tspan dy="-2.2">(FDR)</tspan></text>
<text x="76.3" y="420.0" font-size="7.3" text-anchor="start" fill="#000" stroke="#000" stroke-width="0.12"><tspan font-style="italic">P</tspan><tspan font-size="5" dy="1.6">adj</tspan><tspan dy="-1.6"> value</tspan></text>
<rect x="81.5" y="425.5" width="1.8" height="1.8" fill="#5a4a80" stroke="none" stroke-width="1"/>
<text x="87.8" y="429.0" font-size="5.8" text-anchor="start" fill="#000" stroke="#000" stroke-width="0.12">&lt;0.05</text>
<rect x="81.5" y="431.8" width="1.8" height="1.8" fill="#555" stroke="none" stroke-width="1"/>
<text x="87.8" y="435.2" font-size="5.8" text-anchor="start" fill="#000" stroke="#000" stroke-width="0.12">&gt;0.05</text>
<line x1="141.1" y1="475.9" x2="144.3" y2="488.0" stroke="#111" stroke-width="1.4"/>
<line x1="150.6" y1="485.0" x2="147.4" y2="489.6" stroke="#111" stroke-width="1.4"/>
<line x1="137.0" y1="488.0" x2="140.5" y2="489.0" stroke="#111" stroke-width="1.4"/>
<rect x="128.8" y="470.2" width="21.1" height="5.8" rx="1" fill="#fff" fill-opacity="0.9" stroke="#9a7fc4" stroke-width="0.7"/>
<text x="139.4" y="474.9" font-size="4.8" text-anchor="middle" fill="#6b4f96" stroke="#6b4f96" stroke-width="0.12">CXCL10</text>
<rect x="144.7" y="478.3" width="14.9" height="5.8" rx="1" fill="#fff" fill-opacity="0.9" stroke="#9a7fc4" stroke-width="0.7"/>
<text x="152.1" y="483.0" font-size="4.8" text-anchor="middle" fill="#6b4f96" stroke="#6b4f96" stroke-width="0.12">CCL5</text>
<rect x="121.5" y="482.9" width="21.1" height="5.8" rx="1" fill="#fff" fill-opacity="0.9" stroke="#9a7fc4" stroke-width="0.7"/>
<text x="132.0" y="487.6" font-size="4.8" text-anchor="middle" fill="#6b4f96" stroke="#6b4f96" stroke-width="0.12">CXCL11</text>
<rect x="136.8" y="490.9" width="18.0" height="5.8" rx="1" fill="#fff" fill-opacity="0.9" stroke="#9a7fc4" stroke-width="0.7"/>
<text x="145.8" y="495.6" font-size="4.8" text-anchor="middle" fill="#6b4f96" stroke="#6b4f96" stroke-width="0.12">CXCL9</text>
<line x1="63.0" y1="539.0" x2="125.5" y2="539.0" stroke="#333" stroke-width="0.6"/>
<line x1="127.5" y1="539.0" x2="189.0" y2="539.0" stroke="#333" stroke-width="0.6"/>
<path d="M61,539 l4,-1.6 v3.2 z" stroke="none" stroke-width="0" fill="#333"/>
<path d="M191,539 l-4,-1.6 v3.2 z" stroke="none" stroke-width="0" fill="#333"/>
<text x="90.5" y="547.5" font-size="8" text-anchor="middle" fill="#000" stroke="#000" stroke-width="0.12">Decreased</text>
<text x="90.5" y="556.3" font-size="8" text-anchor="middle" fill="#000" stroke="#000" stroke-width="0.12">in responders</text>
<text x="159.7" y="547.5" font-size="8" text-anchor="middle" fill="#000" stroke="#000" stroke-width="0.12">Increased</text>
<text x="159.7" y="556.3" font-size="8" text-anchor="middle" fill="#000" stroke="#000" stroke-width="0.12">in responders</text>
<text x="188.5" y="375.0" font-size="13.7" text-anchor="start" fill="#000" font-weight="bold">G</text>
<line x1="219.2" y1="381.3" x2="219.2" y2="450.1" stroke="#111" stroke-width="1.4"/>
<line x1="218.5" y1="450.1" x2="285.2" y2="450.1" stroke="#111" stroke-width="1.4"/>
<line x1="217.7" y1="448.0" x2="219.2" y2="448.0" stroke="#111" stroke-width="0.7"/>
<text x="217.2" y="450.3" font-size="6.6" text-anchor="end" fill="#222" stroke="#222" stroke-width="0.12">0.00</text>
<line x1="217.7" y1="432.1" x2="219.2" y2="432.1" stroke="#111" stroke-width="0.7"/>
<text x="217.2" y="434.4" font-size="6.6" text-anchor="end" fill="#222" stroke="#222" stroke-width="0.12">0.25</text>
<line x1="217.7" y1="416.2" x2="219.2" y2="416.2" stroke="#111" stroke-width="0.7"/>
<text x="217.2" y="418.6" font-size="6.6" text-anchor="end" fill="#222" stroke="#222" stroke-width="0.12">0.50</text>
<line x1="217.7" y1="400.4" x2="219.2" y2="400.4" stroke="#111" stroke-width="0.7"/>
<text x="217.2" y="402.7" font-size="6.6" text-anchor="end" fill="#222" stroke="#222" stroke-width="0.12">0.75</text>
<line x1="217.7" y1="384.5" x2="219.2" y2="384.5" stroke="#111" stroke-width="0.7"/>
<text x="217.2" y="386.8" font-size="6.6" text-anchor="end" fill="#222" stroke="#222" stroke-width="0.12">1.00</text>
<line x1="221.3" y1="450.1" x2="221.3" y2="451.6" stroke="#111" stroke-width="0.7"/>
<text x="221.3" y="458.7" font-size="6.8" text-anchor="middle" fill="#222" stroke="#222" stroke-width="0.12">0</text>
<line x1="235.7" y1="450.1" x2="235.7" y2="451.6" stroke="#111" stroke-width="0.7"/>
<text x="235.7" y="458.7" font-size="6.8" text-anchor="middle" fill="#222" stroke="#222" stroke-width="0.12">12</text>
<line x1="250.1" y1="450.1" x2="250.1" y2="451.6" stroke="#111" stroke-width="0.7"/>
<text x="250.1" y="458.7" font-size="6.8" text-anchor="middle" fill="#222" stroke="#222" stroke-width="0.12">24</text>
<line x1="264.5" y1="450.1" x2="264.5" y2="451.6" stroke="#111" stroke-width="0.7"/>
<text x="264.5" y="458.7" font-size="6.8" text-anchor="middle" fill="#222" stroke="#222" stroke-width="0.12">36</text>
<line x1="278.9" y1="450.1" x2="278.9" y2="451.6" stroke="#111" stroke-width="0.7"/>
<text x="278.9" y="458.7" font-size="6.8" text-anchor="middle" fill="#222" stroke="#222" stroke-width="0.12">48</text>
<text x="252.5" y="466.4" font-size="6.9" text-anchor="middle" fill="#111" stroke="#111" stroke-width="0.12">OS Time (months)</text>
<text x="196.7" y="415.7" font-size="7.0" text-anchor="middle" fill="#111" transform="rotate(-90 196.7 415.70000000000005)" stroke="#111" stroke-width="0.12">Survival probability</text>
<path d="M221.3,384.5 H222.5 V387.0 H223.7 V389.6 H224.9 V392.1 H227.1 V395.3 H229.1 V403.6 H230.2 V406.7 H232.3 V408.6 H236.5 V409.9 H241.7 V413.1 H245.3 V416.2 H248.2 V419.4 H254.5 V425.8 H259.7 V432.1 H264.0 V440.4 H274.6" stroke="#6e3f9a" stroke-width="1.9" fill="none"/>
<path d="M221.3,384.5 H222.5 V386.8 H223.7 V389.2 H224.9 V391.5 H229.1 V393.6 H233.3 V395.5 H257.3 V402.1 H284.9" stroke="#2f8a4f" stroke-width="1.9" fill="none"/>
<text x="257.7" y="387.1" font-size="7.0" text-anchor="start" fill="#2f8a4f" stroke="#2f8a4f" stroke-width="0.12">CXCL9 High</text>
<text x="257.7" y="393.4" font-size="7.0" text-anchor="start" fill="#6e3f9a" stroke="#6e3f9a" stroke-width="0.12">CXCL9 Low</text>
<text x="221.7" y="437.2" font-size="7.0" text-anchor="start" fill="#111" stroke="#111" stroke-width="0.12"><tspan font-style="italic">P</tspan> = 0.00048</text>
<line x1="329.4" y1="381.3" x2="329.4" y2="450.1" stroke="#111" stroke-width="1.4"/>
<line x1="328.7" y1="450.1" x2="394.7" y2="450.1" stroke="#111" stroke-width="1.4"/>
<line x1="327.9" y1="448.0" x2="329.4" y2="448.0" stroke="#111" stroke-width="0.7"/>
<text x="327.4" y="450.3" font-size="6.6" text-anchor="end" fill="#222" stroke="#222" stroke-width="0.12">0.00</text>
<line x1="327.9" y1="432.1" x2="329.4" y2="432.1" stroke="#111" stroke-width="0.7"/>
<text x="327.4" y="434.4" font-size="6.6" text-anchor="end" fill="#222" stroke="#222" stroke-width="0.12">0.25</text>
<line x1="327.9" y1="416.2" x2="329.4" y2="416.2" stroke="#111" stroke-width="0.7"/>
<text x="327.4" y="418.6" font-size="6.6" text-anchor="end" fill="#222" stroke="#222" stroke-width="0.12">0.50</text>
<line x1="327.9" y1="400.4" x2="329.4" y2="400.4" stroke="#111" stroke-width="0.7"/>
<text x="327.4" y="402.7" font-size="6.6" text-anchor="end" fill="#222" stroke="#222" stroke-width="0.12">0.75</text>
<line x1="327.9" y1="384.5" x2="329.4" y2="384.5" stroke="#111" stroke-width="0.7"/>
<text x="327.4" y="386.8" font-size="6.6" text-anchor="end" fill="#222" stroke="#222" stroke-width="0.12">1.00</text>
<line x1="333.4" y1="450.1" x2="333.4" y2="451.6" stroke="#111" stroke-width="0.7"/>
<text x="333.4" y="458.7" font-size="6.8" text-anchor="middle" fill="#222" stroke="#222" stroke-width="0.12">0</text>
<line x1="347.7" y1="450.1" x2="347.7" y2="451.6" stroke="#111" stroke-width="0.7"/>
<text x="347.7" y="458.7" font-size="6.8" text-anchor="middle" fill="#222" stroke="#222" stroke-width="0.12">12</text>
<line x1="362.0" y1="450.1" x2="362.0" y2="451.6" stroke="#111" stroke-width="0.7"/>
<text x="362.0" y="458.7" font-size="6.8" text-anchor="middle" fill="#222" stroke="#222" stroke-width="0.12">24</text>
<line x1="376.2" y1="450.1" x2="376.2" y2="451.6" stroke="#111" stroke-width="0.7"/>
<text x="376.2" y="458.7" font-size="6.8" text-anchor="middle" fill="#222" stroke="#222" stroke-width="0.12">36</text>
<line x1="390.5" y1="450.1" x2="390.5" y2="451.6" stroke="#111" stroke-width="0.7"/>
<text x="390.5" y="458.7" font-size="6.8" text-anchor="middle" fill="#222" stroke="#222" stroke-width="0.12">48</text>
<text x="366.2" y="466.4" font-size="6.9" text-anchor="middle" fill="#111" stroke="#111" stroke-width="0.12">OS Time (months)</text>
<text x="306.9" y="415.7" font-size="7.0" text-anchor="middle" fill="#111" transform="rotate(-90 306.9 415.70000000000005)" stroke="#111" stroke-width="0.12">Survival probability</text>
<path d="M333.4,384.5 H335.5 V392.1 H337.7 V400.4 H339.6 V406.7 H341.6 V408.6 H345.8 V411.2 H351.0 V413.7 H353.2 V416.2 H363.7 V422.6 H369.9 V430.9 H373.1 V439.1 H382.7" stroke="#6e3f9a" stroke-width="1.9" fill="none"/>
<path d="M333.4,384.5 H335.5 V389.8 H343.9 V391.9 H349.2 V393.6 H356.6 V396.2 H363.0 V397.8 H366.2 V404.2 H394.7" stroke="#2f8a4f" stroke-width="1.9" fill="none"/>
<text x="367.9" y="387.1" font-size="7.0" text-anchor="start" fill="#2f8a4f" stroke="#2f8a4f" stroke-width="0.12">CXCL10 High</text>
<text x="367.9" y="393.4" font-size="7.0" text-anchor="start" fill="#6e3f9a" stroke="#6e3f9a" stroke-width="0.12">CXCL10 Low</text>
<text x="333.4" y="437.2" font-size="7.0" text-anchor="start" fill="#111" stroke="#111" stroke-width="0.12"><tspan font-style="italic">P</tspan> = 0.00099</text>
<line x1="439.2" y1="381.3" x2="439.2" y2="450.1" stroke="#111" stroke-width="1.4"/>
<line x1="438.5" y1="450.1" x2="504.1" y2="450.1" stroke="#111" stroke-width="1.4"/>
<line x1="437.7" y1="448.0" x2="439.2" y2="448.0" stroke="#111" stroke-width="0.7"/>
<text x="437.2" y="450.3" font-size="6.6" text-anchor="end" fill="#222" stroke="#222" stroke-width="0.12">0.00</text>
<line x1="437.7" y1="432.1" x2="439.2" y2="432.1" stroke="#111" stroke-width="0.7"/>
<text x="437.2" y="434.4" font-size="6.6" text-anchor="end" fill="#222" stroke="#222" stroke-width="0.12">0.25</text>
<line x1="437.7" y1="416.2" x2="439.2" y2="416.2" stroke="#111" stroke-width="0.7"/>
<text x="437.2" y="418.6" font-size="6.6" text-anchor="end" fill="#222" stroke="#222" stroke-width="0.12">0.50</text>
<line x1="437.7" y1="400.4" x2="439.2" y2="400.4" stroke="#111" stroke-width="0.7"/>
<text x="437.2" y="402.7" font-size="6.6" text-anchor="end" fill="#222" stroke="#222" stroke-width="0.12">0.75</text>
<line x1="437.7" y1="384.5" x2="439.2" y2="384.5" stroke="#111" stroke-width="0.7"/>
<text x="437.2" y="386.8" font-size="6.6" text-anchor="end" fill="#222" stroke="#222" stroke-width="0.12">1.00</text>
<line x1="442.4" y1="450.1" x2="442.4" y2="451.6" stroke="#111" stroke-width="0.7"/>
<text x="442.4" y="458.7" font-size="6.8" text-anchor="middle" fill="#222" stroke="#222" stroke-width="0.12">0</text>
<line x1="456.9" y1="450.1" x2="456.9" y2="451.6" stroke="#111" stroke-width="0.7"/>
<text x="456.9" y="458.7" font-size="6.8" text-anchor="middle" fill="#222" stroke="#222" stroke-width="0.12">12</text>
<line x1="471.4" y1="450.1" x2="471.4" y2="451.6" stroke="#111" stroke-width="0.7"/>
<text x="471.4" y="458.7" font-size="6.8" text-anchor="middle" fill="#222" stroke="#222" stroke-width="0.12">24</text>
<line x1="486.0" y1="450.1" x2="486.0" y2="451.6" stroke="#111" stroke-width="0.7"/>
<text x="486.0" y="458.7" font-size="6.8" text-anchor="middle" fill="#222" stroke="#222" stroke-width="0.12">36</text>
<line x1="500.5" y1="450.1" x2="500.5" y2="451.6" stroke="#111" stroke-width="0.7"/>
<text x="500.5" y="458.7" font-size="6.8" text-anchor="middle" fill="#222" stroke="#222" stroke-width="0.12">48</text>
<text x="476.7" y="466.4" font-size="6.9" text-anchor="middle" fill="#111" stroke="#111" stroke-width="0.12">OS Time (months)</text>
<text x="416.7" y="415.7" font-size="7.0" text-anchor="middle" fill="#111" transform="rotate(-90 416.7 415.70000000000005)" stroke="#111" stroke-width="0.12">Survival probability</text>
<path d="M442.4,384.5 H444.0 V388.8 H445.5 V393.0 H447.6 V402.5 H449.1 V405.7 H452.9 V407.4 H457.2 V409.9 H463.5 V411.2 H472.9 V414.3 H479.2 V418.2 H482.3 V424.5 H495.6" stroke="#6e3f9a" stroke-width="1.9" fill="none"/>
<path d="M442.4,384.5 H444.0 V387.7 H445.5 V390.9 H449.8 V393.0 H454.0 V395.5 H461.4 V397.2 H465.6 V400.4 H467.8 V402.3 H475.2 V409.9 H504.1" stroke="#2f8a4f" stroke-width="1.9" fill="none"/>
<text x="477.7" y="387.1" font-size="7.0" text-anchor="start" fill="#2f8a4f" stroke="#2f8a4f" stroke-width="0.12">CXCL11 High</text>
<text x="477.7" y="393.4" font-size="7.0" text-anchor="start" fill="#6e3f9a" stroke="#6e3f9a" stroke-width="0.12">CXCL11 Low</text>
<text x="442.8" y="437.2" font-size="7.0" text-anchor="start" fill="#111" stroke="#111" stroke-width="0.12"><tspan font-style="italic">P</tspan> = 0.097</text>
<line x1="219.2" y1="473.5" x2="219.2" y2="543.8" stroke="#111" stroke-width="1.4"/>
<line x1="218.5" y1="543.8" x2="287.5" y2="543.8" stroke="#111" stroke-width="1.4"/>
<line x1="217.7" y1="540.1" x2="219.2" y2="540.1" stroke="#111" stroke-width="0.7"/>
<text x="217.2" y="542.4" font-size="6.6" text-anchor="end" fill="#222" stroke="#222" stroke-width="0.12">0.00</text>
<line x1="217.7" y1="524.0" x2="219.2" y2="524.0" stroke="#111" stroke-width="0.7"/>
<text x="217.2" y="526.3" font-size="6.6" text-anchor="end" fill="#222" stroke="#222" stroke-width="0.12">0.25</text>
<line x1="217.7" y1="507.9" x2="219.2" y2="507.9" stroke="#111" stroke-width="0.7"/>
<text x="217.2" y="510.2" font-size="6.6" text-anchor="end" fill="#222" stroke="#222" stroke-width="0.12">0.50</text>
<line x1="217.7" y1="491.7" x2="219.2" y2="491.7" stroke="#111" stroke-width="0.7"/>
<text x="217.2" y="494.0" font-size="6.6" text-anchor="end" fill="#222" stroke="#222" stroke-width="0.12">0.75</text>
<line x1="217.7" y1="475.6" x2="219.2" y2="475.6" stroke="#111" stroke-width="0.7"/>
<text x="217.2" y="477.9" font-size="6.6" text-anchor="end" fill="#222" stroke="#222" stroke-width="0.12">1.00</text>
<line x1="223.0" y1="543.8" x2="223.0" y2="545.3" stroke="#111" stroke-width="0.7"/>
<text x="223.0" y="552.4" font-size="6.8" text-anchor="middle" fill="#222" stroke="#222" stroke-width="0.12">0</text>
<line x1="237.7" y1="543.8" x2="237.7" y2="545.3" stroke="#111" stroke-width="0.7"/>
<text x="237.7" y="552.4" font-size="6.8" text-anchor="middle" fill="#222" stroke="#222" stroke-width="0.12">12</text>
<line x1="252.4" y1="543.8" x2="252.4" y2="545.3" stroke="#111" stroke-width="0.7"/>
<text x="252.4" y="552.4" font-size="6.8" text-anchor="middle" fill="#222" stroke="#222" stroke-width="0.12">24</text>
<line x1="267.0" y1="543.8" x2="267.0" y2="545.3" stroke="#111" stroke-width="0.7"/>
<text x="267.0" y="552.4" font-size="6.8" text-anchor="middle" fill="#222" stroke="#222" stroke-width="0.12">36</text>
<line x1="281.7" y1="543.8" x2="281.7" y2="545.3" stroke="#111" stroke-width="0.7"/>
<text x="281.7" y="552.4" font-size="6.8" text-anchor="middle" fill="#222" stroke="#222" stroke-width="0.12">48</text>
<text x="257.2" y="560.0" font-size="6.9" text-anchor="middle" fill="#111" stroke="#111" stroke-width="0.12">OS Time (months)</text>
<text x="196.7" y="508.6" font-size="7.0" text-anchor="middle" fill="#111" transform="rotate(-90 196.7 508.65)" stroke="#111" stroke-width="0.12">Survival probability</text>
<path d="M223.0,475.6 H224.7 V482.1 H226.9 V487.2 H229.0 V492.4 H231.2 V497.8 H234.4 V501.0 H238.8 V502.7 H246.4 V506.3 H253.9 V508.5 H258.2 V513.2 H263.6 V516.9 H265.8 V521.1 H287.8" stroke="#6e3f9a" stroke-width="1.9" fill="none"/>
<path d="M223.0,475.6 H224.4 V477.9 H225.8 V480.1 H229.0 V482.1 H235.5 V484.0 H242.0 V486.2 H248.4 V488.5 H251.6 V489.8 H259.2 V494.6 H286.6" stroke="#2f8a4f" stroke-width="1.9" fill="none"/>
<text x="257.7" y="479.3" font-size="7.0" text-anchor="start" fill="#2f8a4f" stroke="#2f8a4f" stroke-width="0.12">CXCR3 High</text>
<text x="257.7" y="485.6" font-size="7.0" text-anchor="start" fill="#6e3f9a" stroke="#6e3f9a" stroke-width="0.12">CXCR3 Low</text>
<text x="223.8" y="529.3" font-size="7.0" text-anchor="start" fill="#111" stroke="#111" stroke-width="0.12"><tspan font-style="italic">P</tspan> = 0.0042</text>
<text x="139.7" y="583.7" font-size="13.7" text-anchor="start" fill="#000" font-weight="bold">H</text>
<rect x="166.9" y="585.6" width="71.9" height="57.7" fill="#fff" stroke="none" stroke-width="1"/>
<line x1="178.8" y1="585.6" x2="178.8" y2="643.3" stroke="#e2e2e2" stroke-width="0.6"/>
<line x1="190.1" y1="585.6" x2="190.1" y2="643.3" stroke="#f0f0f0" stroke-width="0.5"/>
<line x1="201.4" y1="585.6" x2="201.4" y2="643.3" stroke="#e2e2e2" stroke-width="0.6"/>
<line x1="212.7" y1="585.6" x2="212.7" y2="643.3" stroke="#f0f0f0" stroke-width="0.5"/>
<line x1="224.0" y1="585.6" x2="224.0" y2="643.3" stroke="#e2e2e2" stroke-width="0.6"/>
<line x1="235.3" y1="585.6" x2="235.3" y2="643.3" stroke="#f0f0f0" stroke-width="0.5"/>
<line x1="166.9" y1="641.4" x2="238.8" y2="641.4" stroke="#e2e2e2" stroke-width="0.6"/>
<line x1="166.9" y1="636.8" x2="238.8" y2="636.8" stroke="#f0f0f0" stroke-width="0.5"/>
<line x1="166.9" y1="632.3" x2="238.8" y2="632.3" stroke="#e2e2e2" stroke-width="0.6"/>
<line x1="166.9" y1="627.8" x2="238.8" y2="627.8" stroke="#f0f0f0" stroke-width="0.5"/>
<line x1="166.9" y1="623.2" x2="238.8" y2="623.2" stroke="#e2e2e2" stroke-width="0.6"/>
<line x1="166.9" y1="618.7" x2="238.8" y2="618.7" stroke="#f0f0f0" stroke-width="0.5"/>
<line x1="166.9" y1="614.2" x2="238.8" y2="614.2" stroke="#e2e2e2" stroke-width="0.6"/>
<line x1="166.9" y1="609.6" x2="238.8" y2="609.6" stroke="#f0f0f0" stroke-width="0.5"/>
<line x1="166.9" y1="605.1" x2="238.8" y2="605.1" stroke="#e2e2e2" stroke-width="0.6"/>
<line x1="166.9" y1="600.6" x2="238.8" y2="600.6" stroke="#f0f0f0" stroke-width="0.5"/>
<line x1="166.9" y1="596.0" x2="238.8" y2="596.0" stroke="#e2e2e2" stroke-width="0.6"/>
<line x1="166.9" y1="591.5" x2="238.8" y2="591.5" stroke="#f0f0f0" stroke-width="0.5"/>
<line x1="166.9" y1="586.9" x2="238.8" y2="586.9" stroke="#e2e2e2" stroke-width="0.6"/>
<line x1="166.9" y1="582.4" x2="238.8" y2="582.4" stroke="#f0f0f0" stroke-width="0.5"/>
<circle cx="168.2" cy="631.6" r="1.1" fill="#f2a531"/>
<circle cx="168.2" cy="611.4" r="1.1" fill="#f2a531"/>
<circle cx="169.3" cy="599.1" r="1.1" fill="#f2a531"/>
<circle cx="168.2" cy="612.0" r="1.1" fill="#f2a531"/>
<circle cx="168.5" cy="588.2" r="1.1" fill="#f2a531"/>
<circle cx="168.9" cy="608.5" r="1.1" fill="#f2a531"/>
<circle cx="168.4" cy="617.6" r="1.1" fill="#f2a531"/>
<circle cx="168.7" cy="620.8" r="1.1" fill="#f2a531"/>
<circle cx="168.8" cy="636.5" r="1.1" fill="#f2a531"/>
<circle cx="168.6" cy="587.7" r="1.1" fill="#f2a531"/>
<circle cx="168.6" cy="613.8" r="1.1" fill="#f2a531"/>
<circle cx="169.0" cy="597.2" r="1.1" fill="#f2a531"/>
<circle cx="169.0" cy="620.6" r="1.1" fill="#f2a531"/>
<circle cx="169.0" cy="630.5" r="1.1" fill="#f2a531"/>
<circle cx="168.8" cy="640.5" r="1.1" fill="#f2a531"/>
<circle cx="168.3" cy="631.8" r="1.1" fill="#f2a531"/>
<circle cx="168.5" cy="601.2" r="1.1" fill="#f2a531"/>
<circle cx="168.1" cy="593.7" r="1.1" fill="#f2a531"/>
<circle cx="168.2" cy="589.6" r="1.1" fill="#f2a531"/>
<circle cx="169.2" cy="607.9" r="1.1" fill="#f2a531"/>
<circle cx="169.1" cy="590.2" r="1.1" fill="#f2a531"/>
<circle cx="168.6" cy="594.8" r="1.1" fill="#f2a531"/>
<circle cx="182.7" cy="642.0" r="1.1" fill="#f2a531"/>
<circle cx="215.2" cy="642.0" r="1.1" fill="#f2a531"/>
<circle cx="188.8" cy="641.5" r="1.1" fill="#f2a531"/>
<circle cx="208.6" cy="641.9" r="1.1" fill="#f2a531"/>
<circle cx="217.3" cy="641.5" r="1.1" fill="#f2a531"/>
<circle cx="210.9" cy="642.2" r="1.1" fill="#f2a531"/>
<circle cx="194.3" cy="642.1" r="1.1" fill="#f2a531"/>
<circle cx="231.7" cy="641.9" r="1.1" fill="#f2a531"/>
<circle cx="204.2" cy="641.7" r="1.1" fill="#f2a531"/>
<circle cx="205.6" cy="641.5" r="1.1" fill="#f2a531"/>
<circle cx="184.8" cy="641.6" r="1.1" fill="#f2a531"/>
<circle cx="190.1" cy="642.1" r="1.1" fill="#f2a531"/>
<circle cx="200.1" cy="642.1" r="1.1" fill="#f2a531"/>
<circle cx="210.7" cy="642.1" r="1.1" fill="#f2a531"/>
<circle cx="228.3" cy="642.0" r="1.1" fill="#f2a531"/>
<circle cx="204.6" cy="641.6" r="1.1" fill="#f2a531"/>
<circle cx="210.7" cy="641.6" r="1.1" fill="#f2a531"/>
<circle cx="224.7" cy="641.4" r="1.1" fill="#f2a531"/>
<circle cx="217.1" cy="603.5" r="1.1" fill="#f2a531"/>
<circle cx="212.1" cy="596.3" r="1.1" fill="#f2a531"/>
<circle cx="235.5" cy="586.9" r="1.1" fill="#f2a531"/>
<circle cx="234.2" cy="592.4" r="1.1" fill="#f2a531"/>
<circle cx="234.1" cy="600.5" r="1.1" fill="#f2a531"/>
<circle cx="193.8" cy="611.8" r="1.1" fill="#f2a531"/>
<circle cx="225.2" cy="607.2" r="1.1" fill="#f2a531"/>
<circle cx="232.3" cy="592.0" r="1.1" fill="#f2a531"/>
<circle cx="216.4" cy="602.9" r="1.1" fill="#f2a531"/>
<circle cx="190.3" cy="619.8" r="1.1" fill="#f2a531"/>
<circle cx="207.7" cy="600.3" r="1.1" fill="#f2a531"/>
<circle cx="235.4" cy="590.0" r="1.1" fill="#f2a531"/>
<circle cx="203.5" cy="601.4" r="1.1" fill="#f2a531"/>
<circle cx="186.5" cy="608.5" r="1.1" fill="#f2a531"/>
<circle cx="215.6" cy="599.9" r="1.1" fill="#f2a531"/>
<circle cx="217.1" cy="595.3" r="1.1" fill="#f2a531"/>
<circle cx="232.5" cy="586.9" r="1.1" fill="#f2a531"/>
<circle cx="214.2" cy="600.3" r="1.1" fill="#f2a531"/>
<circle cx="209.2" cy="604.3" r="1.1" fill="#f2a531"/>
<circle cx="202.0" cy="606.2" r="1.1" fill="#f2a531"/>
<circle cx="211.1" cy="613.3" r="1.1" fill="#f2a531"/>
<circle cx="201.4" cy="589.0" r="1.1" fill="#f2a531"/>
<circle cx="228.2" cy="590.5" r="1.1" fill="#f2a531"/>
<circle cx="209.4" cy="614.1" r="1.1" fill="#f2a531"/>
<circle cx="209.8" cy="601.3" r="1.1" fill="#f2a531"/>
<circle cx="195.3" cy="612.5" r="1.1" fill="#f2a531"/>
<circle cx="184.0" cy="622.0" r="1.1" fill="#f2a531"/>
<circle cx="234.1" cy="591.8" r="1.1" fill="#f2a531"/>
<circle cx="232.8" cy="599.1" r="1.1" fill="#f2a531"/>
<circle cx="188.9" cy="608.4" r="1.1" fill="#f2a531"/>
<circle cx="204.9" cy="614.7" r="1.1" fill="#5e3f96"/>
<circle cx="181.1" cy="600.1" r="1.1" fill="#5e3f96"/>
<circle cx="176.0" cy="628.1" r="1.1" fill="#5e3f96"/>
<circle cx="193.7" cy="595.2" r="1.1" fill="#5e3f96"/>
<circle cx="179.9" cy="625.0" r="1.1" fill="#5e3f96"/>
<circle cx="206.5" cy="622.2" r="1.1" fill="#5e3f96"/>
<circle cx="212.1" cy="635.2" r="1.1" fill="#5e3f96"/>
<circle cx="184.0" cy="623.3" r="1.1" fill="#5e3f96"/>
<circle cx="208.8" cy="631.8" r="1.1" fill="#5e3f96"/>
<circle cx="201.7" cy="599.7" r="1.1" fill="#5e3f96"/>
<circle cx="213.9" cy="603.0" r="1.1" fill="#5e3f96"/>
<circle cx="176.3" cy="616.2" r="1.1" fill="#5e3f96"/>
<circle cx="183.2" cy="631.0" r="1.1" fill="#5e3f96"/>
<circle cx="184.2" cy="605.9" r="1.1" fill="#5e3f96"/>
<circle cx="168.7" cy="610.1" r="1.1" fill="#5e3f96"/>
<circle cx="168.7" cy="634.3" r="1.1" fill="#5e3f96"/>
<circle cx="168.7" cy="625.8" r="1.1" fill="#5e3f96"/>
<circle cx="168.7" cy="637.8" r="1.1" fill="#5e3f96"/>
<circle cx="168.7" cy="591.0" r="1.1" fill="#5e3f96"/>
<line x1="169.9" y1="625.0" x2="236.3" y2="593.3" stroke="#3a57a6" stroke-width="1.7"/>
<rect x="166.9" y="585.6" width="71.9" height="57.7" fill="none" stroke="#bdbdbd" stroke-width="0.7"/>
<text x="165.4" y="643.8" font-size="6.8" text-anchor="end" fill="#333" stroke="#333" stroke-width="0.12">&#8722;1</text>
<text x="165.4" y="634.7" font-size="6.8" text-anchor="end" fill="#333" stroke="#333" stroke-width="0.12">0</text>
<text x="165.4" y="625.6" font-size="6.8" text-anchor="end" fill="#333" stroke="#333" stroke-width="0.12">1</text>
<text x="165.4" y="616.6" font-size="6.8" text-anchor="end" fill="#333" stroke="#333" stroke-width="0.12">2</text>
<text x="165.4" y="607.5" font-size="6.8" text-anchor="end" fill="#333" stroke="#333" stroke-width="0.12">3</text>
<text x="165.4" y="598.4" font-size="6.8" text-anchor="end" fill="#333" stroke="#333" stroke-width="0.12">4</text>
<text x="165.4" y="589.3" font-size="6.8" text-anchor="end" fill="#333" stroke="#333" stroke-width="0.12">5</text>
<text x="178.8" y="650.9" font-size="6.8" text-anchor="middle" fill="#333" stroke="#333" stroke-width="0.12">10</text>
<text x="201.4" y="650.9" font-size="6.8" text-anchor="middle" fill="#333" stroke="#333" stroke-width="0.12">100</text>
<text x="224.0" y="650.9" font-size="6.8" text-anchor="middle" fill="#333" stroke="#333" stroke-width="0.12">1,000</text>
<text x="202.9" y="581.0" font-size="8.6" text-anchor="middle" fill="#000" stroke="#000" stroke-width="0.12">CXCL9</text>
<text x="203.4" y="659.5" font-size="7.0" text-anchor="middle" fill="#222" stroke="#222" stroke-width="0.12">Intratumoral CD8</text>
<text x="203.9" y="669.3" font-size="6.9" text-anchor="middle" fill="#222" stroke="#222" stroke-width="0.12">(cells/mm<tspan font-size="4.6" dy="-2.8">2</tspan><tspan dy="2.8">) Log scale</tspan></text>
<text x="203.4" y="678.0" font-size="7.0" text-anchor="middle" fill="#222" stroke="#222" stroke-width="0.12"><tspan font-style="italic">P</tspan> = 2.08E-07</text>
<text x="158.1" y="614.5" font-size="6.9" text-anchor="middle" fill="#222" transform="rotate(-90 158.1 614.45)" stroke="#222" stroke-width="0.12">Normalized expression</text>
<rect x="265.9" y="586.3" width="69.8" height="57.0" fill="#fff" stroke="none" stroke-width="1"/>
<line x1="277.8" y1="586.3" x2="277.8" y2="643.3" stroke="#e2e2e2" stroke-width="0.6"/>
<line x1="289.1" y1="586.3" x2="289.1" y2="643.3" stroke="#f0f0f0" stroke-width="0.5"/>
<line x1="300.4" y1="586.3" x2="300.4" y2="643.3" stroke="#e2e2e2" stroke-width="0.6"/>
<line x1="311.7" y1="586.3" x2="311.7" y2="643.3" stroke="#f0f0f0" stroke-width="0.5"/>
<line x1="323.0" y1="586.3" x2="323.0" y2="643.3" stroke="#e2e2e2" stroke-width="0.6"/>
<line x1="334.3" y1="586.3" x2="334.3" y2="643.3" stroke="#f0f0f0" stroke-width="0.5"/>
<line x1="265.9" y1="642.1" x2="335.7" y2="642.1" stroke="#e2e2e2" stroke-width="0.6"/>
<line x1="265.9" y1="637.0" x2="335.7" y2="637.0" stroke="#f0f0f0" stroke-width="0.5"/>
<line x1="265.9" y1="632.0" x2="335.7" y2="632.0" stroke="#e2e2e2" stroke-width="0.6"/>
<line x1="265.9" y1="627.0" x2="335.7" y2="627.0" stroke="#f0f0f0" stroke-width="0.5"/>
<line x1="265.9" y1="621.9" x2="335.7" y2="621.9" stroke="#e2e2e2" stroke-width="0.6"/>
<line x1="265.9" y1="616.9" x2="335.7" y2="616.9" stroke="#f0f0f0" stroke-width="0.5"/>
<line x1="265.9" y1="611.8" x2="335.7" y2="611.8" stroke="#e2e2e2" stroke-width="0.6"/>
<line x1="265.9" y1="606.8" x2="335.7" y2="606.8" stroke="#f0f0f0" stroke-width="0.5"/>
<line x1="265.9" y1="601.7" x2="335.7" y2="601.7" stroke="#e2e2e2" stroke-width="0.6"/>
<line x1="265.9" y1="596.6" x2="335.7" y2="596.6" stroke="#f0f0f0" stroke-width="0.5"/>
<line x1="265.9" y1="591.6" x2="335.7" y2="591.6" stroke="#e2e2e2" stroke-width="0.6"/>
<line x1="265.9" y1="586.5" x2="335.7" y2="586.5" stroke="#f0f0f0" stroke-width="0.5"/>
<circle cx="268.0" cy="616.3" r="1.1" fill="#f2a531"/>
<circle cx="268.3" cy="588.8" r="1.1" fill="#f2a531"/>
<circle cx="267.3" cy="628.2" r="1.1" fill="#f2a531"/>
<circle cx="267.3" cy="607.8" r="1.1" fill="#f2a531"/>
<circle cx="267.8" cy="613.8" r="1.1" fill="#f2a531"/>
<circle cx="268.0" cy="613.2" r="1.1" fill="#f2a531"/>
<circle cx="267.5" cy="605.6" r="1.1" fill="#f2a531"/>
<circle cx="268.2" cy="639.4" r="1.1" fill="#f2a531"/>
<circle cx="267.7" cy="634.5" r="1.1" fill="#f2a531"/>
<circle cx="268.0" cy="618.6" r="1.1" fill="#f2a531"/>
<circle cx="268.1" cy="605.6" r="1.1" fill="#f2a531"/>
<circle cx="268.3" cy="610.5" r="1.1" fill="#f2a531"/>
<circle cx="267.8" cy="589.0" r="1.1" fill="#f2a531"/>
<circle cx="268.1" cy="623.7" r="1.1" fill="#f2a531"/>
<circle cx="267.2" cy="591.8" r="1.1" fill="#f2a531"/>
<circle cx="267.2" cy="591.7" r="1.1" fill="#f2a531"/>
<circle cx="268.2" cy="606.0" r="1.1" fill="#f2a531"/>
<circle cx="268.2" cy="609.0" r="1.1" fill="#f2a531"/>
<circle cx="268.0" cy="609.6" r="1.1" fill="#f2a531"/>
<circle cx="267.4" cy="637.8" r="1.1" fill="#f2a531"/>
<circle cx="268.0" cy="617.5" r="1.1" fill="#f2a531"/>
<circle cx="267.2" cy="611.6" r="1.1" fill="#f2a531"/>
<circle cx="293.4" cy="641.6" r="1.1" fill="#f2a531"/>
<circle cx="324.4" cy="641.9" r="1.1" fill="#f2a531"/>
<circle cx="317.9" cy="642.1" r="1.1" fill="#f2a531"/>
<circle cx="302.1" cy="641.8" r="1.1" fill="#f2a531"/>
<circle cx="301.9" cy="641.7" r="1.1" fill="#f2a531"/>
<circle cx="319.5" cy="642.1" r="1.1" fill="#f2a531"/>
<circle cx="295.0" cy="642.0" r="1.1" fill="#f2a531"/>
<circle cx="290.8" cy="641.4" r="1.1" fill="#f2a531"/>
<circle cx="314.7" cy="642.0" r="1.1" fill="#f2a531"/>
<circle cx="296.7" cy="642.2" r="1.1" fill="#f2a531"/>
<circle cx="316.4" cy="641.7" r="1.1" fill="#f2a531"/>
<circle cx="318.5" cy="642.1" r="1.1" fill="#f2a531"/>
<circle cx="287.0" cy="642.1" r="1.1" fill="#f2a531"/>
<circle cx="302.0" cy="641.6" r="1.1" fill="#f2a531"/>
<circle cx="299.1" cy="641.8" r="1.1" fill="#f2a531"/>
<circle cx="306.7" cy="641.6" r="1.1" fill="#f2a531"/>
<circle cx="283.0" cy="641.9" r="1.1" fill="#f2a531"/>
<circle cx="316.4" cy="642.0" r="1.1" fill="#f2a531"/>
<circle cx="303.4" cy="605.9" r="1.1" fill="#f2a531"/>
<circle cx="289.2" cy="613.1" r="1.1" fill="#f2a531"/>
<circle cx="283.3" cy="622.0" r="1.1" fill="#f2a531"/>
<circle cx="294.4" cy="612.8" r="1.1" fill="#f2a531"/>
<circle cx="310.2" cy="602.2" r="1.1" fill="#f2a531"/>
<circle cx="333.4" cy="594.8" r="1.1" fill="#f2a531"/>
<circle cx="329.4" cy="587.8" r="1.1" fill="#f2a531"/>
<circle cx="309.3" cy="600.3" r="1.1" fill="#f2a531"/>
<circle cx="310.9" cy="598.6" r="1.1" fill="#f2a531"/>
<circle cx="332.3" cy="603.2" r="1.1" fill="#f2a531"/>
<circle cx="318.5" cy="597.9" r="1.1" fill="#f2a531"/>
<circle cx="326.0" cy="599.4" r="1.1" fill="#f2a531"/>
<circle cx="299.3" cy="598.0" r="1.1" fill="#f2a531"/>
<circle cx="333.6" cy="600.3" r="1.1" fill="#f2a531"/>
<circle cx="322.4" cy="605.3" r="1.1" fill="#f2a531"/>
<circle cx="323.9" cy="593.5" r="1.1" fill="#f2a531"/>
<circle cx="285.4" cy="621.9" r="1.1" fill="#f2a531"/>
<circle cx="320.5" cy="602.0" r="1.1" fill="#f2a531"/>
<circle cx="300.5" cy="616.2" r="1.1" fill="#f2a531"/>
<circle cx="302.6" cy="613.5" r="1.1" fill="#f2a531"/>
<circle cx="318.5" cy="595.5" r="1.1" fill="#f2a531"/>
<circle cx="310.3" cy="607.5" r="1.1" fill="#f2a531"/>
<circle cx="308.0" cy="602.1" r="1.1" fill="#f2a531"/>
<circle cx="297.5" cy="613.3" r="1.1" fill="#f2a531"/>
<circle cx="303.2" cy="608.9" r="1.1" fill="#f2a531"/>
<circle cx="334.3" cy="597.6" r="1.1" fill="#f2a531"/>
<circle cx="309.0" cy="605.2" r="1.1" fill="#f2a531"/>
<circle cx="283.8" cy="621.0" r="1.1" fill="#f2a531"/>
<circle cx="302.8" cy="609.4" r="1.1" fill="#f2a531"/>
<circle cx="334.4" cy="595.7" r="1.1" fill="#f2a531"/>
<circle cx="297.2" cy="617.9" r="1.1" fill="#5e3f96"/>
<circle cx="274.5" cy="626.6" r="1.1" fill="#5e3f96"/>
<circle cx="287.0" cy="610.1" r="1.1" fill="#5e3f96"/>
<circle cx="280.4" cy="616.8" r="1.1" fill="#5e3f96"/>
<circle cx="284.3" cy="613.5" r="1.1" fill="#5e3f96"/>
<circle cx="301.3" cy="615.5" r="1.1" fill="#5e3f96"/>
<circle cx="303.8" cy="611.2" r="1.1" fill="#5e3f96"/>
<circle cx="276.7" cy="609.8" r="1.1" fill="#5e3f96"/>
<circle cx="293.0" cy="605.6" r="1.1" fill="#5e3f96"/>
<circle cx="311.4" cy="622.3" r="1.1" fill="#5e3f96"/>
<circle cx="307.9" cy="627.2" r="1.1" fill="#5e3f96"/>
<circle cx="299.7" cy="636.4" r="1.1" fill="#5e3f96"/>
<circle cx="306.8" cy="618.4" r="1.1" fill="#5e3f96"/>
<circle cx="291.8" cy="616.3" r="1.1" fill="#5e3f96"/>
<circle cx="267.7" cy="621.8" r="1.1" fill="#5e3f96"/>
<circle cx="267.7" cy="629.6" r="1.1" fill="#5e3f96"/>
<circle cx="267.7" cy="604.3" r="1.1" fill="#5e3f96"/>
<circle cx="267.7" cy="607.9" r="1.1" fill="#5e3f96"/>
<circle cx="267.7" cy="639.1" r="1.1" fill="#5e3f96"/>
<line x1="268.9" y1="624.1" x2="333.2" y2="596.6" stroke="#3a57a6" stroke-width="1.7"/>
<rect x="265.9" y="586.3" width="69.8" height="57.0" fill="none" stroke="#bdbdbd" stroke-width="0.7"/>
<text x="264.4" y="644.5" font-size="6.8" text-anchor="end" fill="#333" stroke="#333" stroke-width="0.12">&#8722;1</text>
<text x="264.4" y="634.4" font-size="6.8" text-anchor="end" fill="#333" stroke="#333" stroke-width="0.12">0</text>
<text x="264.4" y="624.3" font-size="6.8" text-anchor="end" fill="#333" stroke="#333" stroke-width="0.12">1</text>
<text x="264.4" y="614.2" font-size="6.8" text-anchor="end" fill="#333" stroke="#333" stroke-width="0.12">2</text>
<text x="264.4" y="604.1" font-size="6.8" text-anchor="end" fill="#333" stroke="#333" stroke-width="0.12">3</text>
<text x="264.4" y="594.0" font-size="6.8" text-anchor="end" fill="#333" stroke="#333" stroke-width="0.12">4</text>
<text x="277.8" y="650.9" font-size="6.8" text-anchor="middle" fill="#333" stroke="#333" stroke-width="0.12">10</text>
<text x="300.4" y="650.9" font-size="6.8" text-anchor="middle" fill="#333" stroke="#333" stroke-width="0.12">100</text>
<text x="323.0" y="650.9" font-size="6.8" text-anchor="middle" fill="#333" stroke="#333" stroke-width="0.12">1,000</text>
<text x="300.8" y="581.0" font-size="8.6" text-anchor="middle" fill="#000" stroke="#000" stroke-width="0.12">CXCL10</text>
<text x="301.3" y="659.5" font-size="7.0" text-anchor="middle" fill="#222" stroke="#222" stroke-width="0.12">Intratumoral CD8</text>
<text x="301.8" y="669.3" font-size="6.9" text-anchor="middle" fill="#222" stroke="#222" stroke-width="0.12">(cells/mm<tspan font-size="4.6" dy="-2.8">2</tspan><tspan dy="2.8">) Log scale</tspan></text>
<text x="301.3" y="678.0" font-size="7.0" text-anchor="middle" fill="#222" stroke="#222" stroke-width="0.12"><tspan font-style="italic">P</tspan> = 5.64E-06</text>
<text x="257.1" y="614.8" font-size="6.9" text-anchor="middle" fill="#222" transform="rotate(-90 257.09999999999997 614.8)" stroke="#222" stroke-width="0.12">Normalized expression</text>
<rect x="359.2" y="586.3" width="71.2" height="57.7" fill="#fff" stroke="none" stroke-width="1"/>
<line x1="371.1" y1="586.3" x2="371.1" y2="644.0" stroke="#e2e2e2" stroke-width="0.6"/>
<line x1="382.4" y1="586.3" x2="382.4" y2="644.0" stroke="#f0f0f0" stroke-width="0.5"/>
<line x1="393.7" y1="586.3" x2="393.7" y2="644.0" stroke="#e2e2e2" stroke-width="0.6"/>
<line x1="405.0" y1="586.3" x2="405.0" y2="644.0" stroke="#f0f0f0" stroke-width="0.5"/>
<line x1="416.3" y1="586.3" x2="416.3" y2="644.0" stroke="#e2e2e2" stroke-width="0.6"/>
<line x1="427.6" y1="586.3" x2="427.6" y2="644.0" stroke="#f0f0f0" stroke-width="0.5"/>
<line x1="359.2" y1="638.6" x2="430.4" y2="638.6" stroke="#e2e2e2" stroke-width="0.6"/>
<line x1="359.2" y1="631.5" x2="430.4" y2="631.5" stroke="#f0f0f0" stroke-width="0.5"/>
<line x1="359.2" y1="624.5" x2="430.4" y2="624.5" stroke="#e2e2e2" stroke-width="0.6"/>
<line x1="359.2" y1="617.4" x2="430.4" y2="617.4" stroke="#f0f0f0" stroke-width="0.5"/>
<line x1="359.2" y1="610.4" x2="430.4" y2="610.4" stroke="#e2e2e2" stroke-width="0.6"/>
<line x1="359.2" y1="603.4" x2="430.4" y2="603.4" stroke="#f0f0f0" stroke-width="0.5"/>
<line x1="359.2" y1="596.3" x2="430.4" y2="596.3" stroke="#e2e2e2" stroke-width="0.6"/>
<line x1="359.2" y1="589.2" x2="430.4" y2="589.2" stroke="#f0f0f0" stroke-width="0.5"/>
<circle cx="360.7" cy="592.9" r="1.1" fill="#f2a531"/>
<circle cx="360.7" cy="626.6" r="1.1" fill="#f2a531"/>
<circle cx="361.1" cy="622.4" r="1.1" fill="#f2a531"/>
<circle cx="361.5" cy="590.2" r="1.1" fill="#f2a531"/>
<circle cx="360.6" cy="630.2" r="1.1" fill="#f2a531"/>
<circle cx="360.6" cy="618.6" r="1.1" fill="#f2a531"/>
<circle cx="360.7" cy="606.5" r="1.1" fill="#f2a531"/>
<circle cx="361.5" cy="638.3" r="1.1" fill="#f2a531"/>
<circle cx="360.4" cy="636.2" r="1.1" fill="#f2a531"/>
<circle cx="360.8" cy="635.0" r="1.1" fill="#f2a531"/>
<circle cx="360.9" cy="622.9" r="1.1" fill="#f2a531"/>
<circle cx="361.3" cy="591.0" r="1.1" fill="#f2a531"/>
<circle cx="361.6" cy="619.9" r="1.1" fill="#f2a531"/>
<circle cx="361.2" cy="635.1" r="1.1" fill="#f2a531"/>
<circle cx="361.1" cy="595.4" r="1.1" fill="#f2a531"/>
<circle cx="361.5" cy="634.7" r="1.1" fill="#f2a531"/>
<circle cx="360.6" cy="594.4" r="1.1" fill="#f2a531"/>
<circle cx="361.2" cy="601.8" r="1.1" fill="#f2a531"/>
<circle cx="360.5" cy="609.4" r="1.1" fill="#f2a531"/>
<circle cx="360.4" cy="603.2" r="1.1" fill="#f2a531"/>
<circle cx="361.4" cy="625.1" r="1.1" fill="#f2a531"/>
<circle cx="360.4" cy="603.4" r="1.1" fill="#f2a531"/>
<circle cx="425.3" cy="642.6" r="1.1" fill="#f2a531"/>
<circle cx="392.3" cy="642.4" r="1.1" fill="#f2a531"/>
<circle cx="415.6" cy="642.9" r="1.1" fill="#f2a531"/>
<circle cx="392.3" cy="642.3" r="1.1" fill="#f2a531"/>
<circle cx="425.2" cy="642.4" r="1.1" fill="#f2a531"/>
<circle cx="396.3" cy="642.3" r="1.1" fill="#f2a531"/>
<circle cx="411.0" cy="642.9" r="1.1" fill="#f2a531"/>
<circle cx="397.7" cy="642.8" r="1.1" fill="#f2a531"/>
<circle cx="394.1" cy="642.4" r="1.1" fill="#f2a531"/>
<circle cx="415.1" cy="642.9" r="1.1" fill="#f2a531"/>
<circle cx="412.6" cy="642.7" r="1.1" fill="#f2a531"/>
<circle cx="416.4" cy="642.8" r="1.1" fill="#f2a531"/>
<circle cx="423.0" cy="642.5" r="1.1" fill="#f2a531"/>
<circle cx="393.4" cy="642.1" r="1.1" fill="#f2a531"/>
<circle cx="400.7" cy="642.4" r="1.1" fill="#f2a531"/>
<circle cx="373.2" cy="642.9" r="1.1" fill="#f2a531"/>
<circle cx="389.2" cy="642.8" r="1.1" fill="#f2a531"/>
<circle cx="374.0" cy="642.4" r="1.1" fill="#f2a531"/>
<circle cx="417.2" cy="605.3" r="1.1" fill="#f2a531"/>
<circle cx="401.5" cy="616.0" r="1.1" fill="#f2a531"/>
<circle cx="380.5" cy="611.2" r="1.1" fill="#f2a531"/>
<circle cx="401.0" cy="617.2" r="1.1" fill="#f2a531"/>
<circle cx="405.5" cy="603.4" r="1.1" fill="#f2a531"/>
<circle cx="400.9" cy="614.8" r="1.1" fill="#f2a531"/>
<circle cx="401.4" cy="608.5" r="1.1" fill="#f2a531"/>
<circle cx="393.4" cy="621.3" r="1.1" fill="#f2a531"/>
<circle cx="416.9" cy="607.8" r="1.1" fill="#f2a531"/>
<circle cx="395.7" cy="603.4" r="1.1" fill="#f2a531"/>
<circle cx="423.4" cy="589.2" r="1.1" fill="#f2a531"/>
<circle cx="395.9" cy="614.0" r="1.1" fill="#f2a531"/>
<circle cx="394.3" cy="618.5" r="1.1" fill="#f2a531"/>
<circle cx="377.4" cy="614.2" r="1.1" fill="#f2a531"/>
<circle cx="404.6" cy="604.2" r="1.1" fill="#f2a531"/>
<circle cx="423.0" cy="599.5" r="1.1" fill="#f2a531"/>
<circle cx="406.0" cy="595.5" r="1.1" fill="#f2a531"/>
<circle cx="413.8" cy="602.5" r="1.1" fill="#f2a531"/>
<circle cx="415.6" cy="604.4" r="1.1" fill="#f2a531"/>
<circle cx="421.0" cy="597.8" r="1.1" fill="#f2a531"/>
<circle cx="422.2" cy="599.6" r="1.1" fill="#f2a531"/>
<circle cx="402.1" cy="611.7" r="1.1" fill="#f2a531"/>
<circle cx="402.9" cy="611.8" r="1.1" fill="#f2a531"/>
<circle cx="399.9" cy="602.7" r="1.1" fill="#f2a531"/>
<circle cx="427.7" cy="608.6" r="1.1" fill="#f2a531"/>
<circle cx="423.9" cy="610.6" r="1.1" fill="#f2a531"/>
<circle cx="385.0" cy="613.7" r="1.1" fill="#f2a531"/>
<circle cx="407.3" cy="611.3" r="1.1" fill="#f2a531"/>
<circle cx="405.5" cy="606.2" r="1.1" fill="#f2a531"/>
<circle cx="411.6" cy="608.7" r="1.1" fill="#f2a531"/>
<circle cx="381.6" cy="605.8" r="1.1" fill="#5e3f96"/>
<circle cx="386.7" cy="611.3" r="1.1" fill="#5e3f96"/>
<circle cx="407.1" cy="625.7" r="1.1" fill="#5e3f96"/>
<circle cx="366.8" cy="601.3" r="1.1" fill="#5e3f96"/>
<circle cx="387.9" cy="611.2" r="1.1" fill="#5e3f96"/>
<circle cx="400.4" cy="601.5" r="1.1" fill="#5e3f96"/>
<circle cx="382.3" cy="597.7" r="1.1" fill="#5e3f96"/>
<circle cx="382.5" cy="608.0" r="1.1" fill="#5e3f96"/>
<circle cx="400.4" cy="622.5" r="1.1" fill="#5e3f96"/>
<circle cx="383.7" cy="622.3" r="1.1" fill="#5e3f96"/>
<circle cx="380.5" cy="620.5" r="1.1" fill="#5e3f96"/>
<circle cx="401.1" cy="634.4" r="1.1" fill="#5e3f96"/>
<circle cx="406.8" cy="605.5" r="1.1" fill="#5e3f96"/>
<circle cx="389.3" cy="611.4" r="1.1" fill="#5e3f96"/>
<circle cx="361.0" cy="626.3" r="1.1" fill="#5e3f96"/>
<circle cx="361.0" cy="601.7" r="1.1" fill="#5e3f96"/>
<circle cx="361.0" cy="595.9" r="1.1" fill="#5e3f96"/>
<circle cx="361.0" cy="621.9" r="1.1" fill="#5e3f96"/>
<circle cx="361.0" cy="615.7" r="1.1" fill="#5e3f96"/>
<line x1="362.2" y1="627.3" x2="427.9" y2="597.7" stroke="#3a57a6" stroke-width="1.7"/>
<rect x="359.2" y="586.3" width="71.2" height="57.7" fill="none" stroke="#bdbdbd" stroke-width="0.7"/>
<text x="357.7" y="641.0" font-size="6.8" text-anchor="end" fill="#333" stroke="#333" stroke-width="0.12">&#8722;4</text>
<text x="357.7" y="626.9" font-size="6.8" text-anchor="end" fill="#333" stroke="#333" stroke-width="0.12">&#8722;2</text>
<text x="357.7" y="612.8" font-size="6.8" text-anchor="end" fill="#333" stroke="#333" stroke-width="0.12">0</text>
<text x="357.7" y="598.7" font-size="6.8" text-anchor="end" fill="#333" stroke="#333" stroke-width="0.12">2</text>
<text x="371.1" y="651.6" font-size="6.8" text-anchor="middle" fill="#333" stroke="#333" stroke-width="0.12">10</text>
<text x="393.7" y="651.6" font-size="6.8" text-anchor="middle" fill="#333" stroke="#333" stroke-width="0.12">100</text>
<text x="416.3" y="651.6" font-size="6.8" text-anchor="middle" fill="#333" stroke="#333" stroke-width="0.12">1,000</text>
<text x="394.8" y="581.0" font-size="8.6" text-anchor="middle" fill="#000" stroke="#000" stroke-width="0.12">CXCL11</text>
<text x="395.3" y="659.5" font-size="7.0" text-anchor="middle" fill="#222" stroke="#222" stroke-width="0.12">Intratumoral CD8</text>
<text x="395.8" y="669.3" font-size="6.9" text-anchor="middle" fill="#222" stroke="#222" stroke-width="0.12">(cells/mm<tspan font-size="4.6" dy="-2.8">2</tspan><tspan dy="2.8">) Log scale</tspan></text>
<text x="395.3" y="678.0" font-size="7.0" text-anchor="middle" fill="#222" stroke="#222" stroke-width="0.12"><tspan font-style="italic">P</tspan> = 2.17E-05</text>
<text x="350.4" y="615.1" font-size="6.9" text-anchor="middle" fill="#222" transform="rotate(-90 350.4 615.15)" stroke="#222" stroke-width="0.12">Normalized expression</text>
<text x="443.7" y="599.8" font-size="9.3" text-anchor="start" fill="#000" stroke="#000" stroke-width="0.12">Response</text>
<line x1="445.0" y1="613.6" x2="458.0" y2="613.6" stroke="#5e3f96" stroke-width="1.2"/>
<circle cx="451.5" cy="613.6" r="1.8" fill="#5e3f96"/>
<text x="461.5" y="616.6" font-size="8.5" text-anchor="start" fill="#000" stroke="#000" stroke-width="0.12">NR</text>
<line x1="445.0" y1="628.0" x2="458.0" y2="628.0" stroke="#f2a531" stroke-width="1.2"/>
<circle cx="451.5" cy="628.0" r="1.8" fill="#f2a531"/>
<text x="461.5" y="631.1" font-size="8.5" text-anchor="start" fill="#000" stroke="#000" stroke-width="0.12">R</text>
</svg></body></html>
